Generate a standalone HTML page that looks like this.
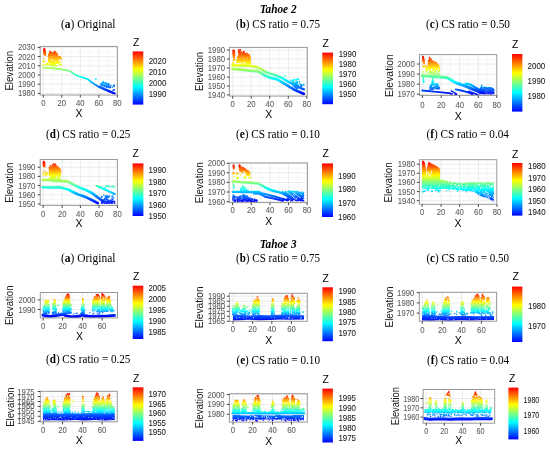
<!DOCTYPE html><html><head><meta charset="utf-8"><style>html,body{margin:0;padding:0;background:#fff;width:550px;height:450px;overflow:hidden}svg{display:block;filter:blur(0.6px)}</style></head><body><svg width="550" height="450" viewBox="0 0 550 450"><defs><linearGradient id="gA" gradientUnits="userSpaceOnUse" x1="0" y1="47.8" x2="0" y2="93.2"><stop offset="0.0" stop-color="#ff0000"/><stop offset="0.1667" stop-color="#ff7f00"/><stop offset="0.3333" stop-color="#ffff00"/><stop offset="0.5" stop-color="#7fff7f"/><stop offset="0.6667" stop-color="#00ffff"/><stop offset="0.8333" stop-color="#007fff"/><stop offset="1.0" stop-color="#0000ff"/></linearGradient><linearGradient id="cA" gradientUnits="userSpaceOnUse" x1="0" y1="51.4" x2="0" y2="104.6"><stop offset="0.0" stop-color="#ff0000"/><stop offset="0.1667" stop-color="#ff7f00"/><stop offset="0.3333" stop-color="#ffff00"/><stop offset="0.5" stop-color="#7fff7f"/><stop offset="0.6667" stop-color="#00ffff"/><stop offset="0.8333" stop-color="#007fff"/><stop offset="1.0" stop-color="#0000ff"/></linearGradient><clipPath id="kA"><rect x="40.2" y="46.4" width="77.2" height="48.6"/></clipPath><linearGradient id="gB" gradientUnits="userSpaceOnUse" x1="0" y1="48.7" x2="0" y2="94.4"><stop offset="0.0" stop-color="#ff0000"/><stop offset="0.1667" stop-color="#ff7f00"/><stop offset="0.3333" stop-color="#ffff00"/><stop offset="0.5" stop-color="#7fff7f"/><stop offset="0.6667" stop-color="#00ffff"/><stop offset="0.8333" stop-color="#007fff"/><stop offset="1.0" stop-color="#0000ff"/></linearGradient><linearGradient id="cB" gradientUnits="userSpaceOnUse" x1="0" y1="52.6" x2="0" y2="104.2"><stop offset="0.0" stop-color="#ff0000"/><stop offset="0.1667" stop-color="#ff7f00"/><stop offset="0.3333" stop-color="#ffff00"/><stop offset="0.5" stop-color="#7fff7f"/><stop offset="0.6667" stop-color="#00ffff"/><stop offset="0.8333" stop-color="#007fff"/><stop offset="1.0" stop-color="#0000ff"/></linearGradient><clipPath id="kB"><rect x="229.4" y="47.4" width="77.9" height="48.699999999999996"/></clipPath><linearGradient id="gC" gradientUnits="userSpaceOnUse" x1="0" y1="56.1" x2="0" y2="94.0"><stop offset="0.0" stop-color="#ff0000"/><stop offset="0.1667" stop-color="#ff7f00"/><stop offset="0.3333" stop-color="#ffff00"/><stop offset="0.5" stop-color="#7fff7f"/><stop offset="0.6667" stop-color="#00ffff"/><stop offset="0.8333" stop-color="#007fff"/><stop offset="1.0" stop-color="#0000ff"/></linearGradient><linearGradient id="cC" gradientUnits="userSpaceOnUse" x1="0" y1="54" x2="0" y2="111.6"><stop offset="0.0" stop-color="#ff0000"/><stop offset="0.1667" stop-color="#ff7f00"/><stop offset="0.3333" stop-color="#ffff00"/><stop offset="0.5" stop-color="#7fff7f"/><stop offset="0.6667" stop-color="#00ffff"/><stop offset="0.8333" stop-color="#007fff"/><stop offset="1.0" stop-color="#0000ff"/></linearGradient><clipPath id="kC"><rect x="419.5" y="54.6" width="77.30000000000001" height="40.800000000000004"/></clipPath><linearGradient id="gD" gradientUnits="userSpaceOnUse" x1="0" y1="161.6" x2="0" y2="203.7"><stop offset="0.0" stop-color="#ff0000"/><stop offset="0.1667" stop-color="#ff7f00"/><stop offset="0.3333" stop-color="#ffff00"/><stop offset="0.5" stop-color="#7fff7f"/><stop offset="0.6667" stop-color="#00ffff"/><stop offset="0.8333" stop-color="#007fff"/><stop offset="1.0" stop-color="#0000ff"/></linearGradient><linearGradient id="cD" gradientUnits="userSpaceOnUse" x1="0" y1="163.4" x2="0" y2="216.0"><stop offset="0.0" stop-color="#ff0000"/><stop offset="0.1667" stop-color="#ff7f00"/><stop offset="0.3333" stop-color="#ffff00"/><stop offset="0.5" stop-color="#7fff7f"/><stop offset="0.6667" stop-color="#00ffff"/><stop offset="0.8333" stop-color="#007fff"/><stop offset="1.0" stop-color="#0000ff"/></linearGradient><clipPath id="kD"><rect x="40.2" y="159.5" width="77.2" height="45.900000000000006"/></clipPath><linearGradient id="gE" gradientUnits="userSpaceOnUse" x1="0" y1="164.2" x2="0" y2="201.3"><stop offset="0.0" stop-color="#ff0000"/><stop offset="0.1667" stop-color="#ff7f00"/><stop offset="0.3333" stop-color="#ffff00"/><stop offset="0.5" stop-color="#7fff7f"/><stop offset="0.6667" stop-color="#00ffff"/><stop offset="0.8333" stop-color="#007fff"/><stop offset="1.0" stop-color="#0000ff"/></linearGradient><linearGradient id="cE" gradientUnits="userSpaceOnUse" x1="0" y1="163.4" x2="0" y2="217"><stop offset="0.0" stop-color="#ff0000"/><stop offset="0.1667" stop-color="#ff7f00"/><stop offset="0.3333" stop-color="#ffff00"/><stop offset="0.5" stop-color="#7fff7f"/><stop offset="0.6667" stop-color="#00ffff"/><stop offset="0.8333" stop-color="#007fff"/><stop offset="1.0" stop-color="#0000ff"/></linearGradient><clipPath id="kE"><rect x="229.1" y="162.9" width="78.29999999999998" height="39.69999999999999"/></clipPath><linearGradient id="gF" gradientUnits="userSpaceOnUse" x1="0" y1="161.5" x2="0" y2="203.25"><stop offset="0.0" stop-color="#ff0000"/><stop offset="0.1667" stop-color="#ff7f00"/><stop offset="0.3333" stop-color="#ffff00"/><stop offset="0.5" stop-color="#7fff7f"/><stop offset="0.6667" stop-color="#00ffff"/><stop offset="0.8333" stop-color="#007fff"/><stop offset="1.0" stop-color="#0000ff"/></linearGradient><linearGradient id="cF" gradientUnits="userSpaceOnUse" x1="0" y1="163" x2="0" y2="215.6"><stop offset="0.0" stop-color="#ff0000"/><stop offset="0.1667" stop-color="#ff7f00"/><stop offset="0.3333" stop-color="#ffff00"/><stop offset="0.5" stop-color="#7fff7f"/><stop offset="0.6667" stop-color="#00ffff"/><stop offset="0.8333" stop-color="#007fff"/><stop offset="1.0" stop-color="#0000ff"/></linearGradient><clipPath id="kF"><rect x="419.4" y="159.7" width="77.40000000000003" height="44.60000000000002"/></clipPath><linearGradient id="gG" gradientUnits="userSpaceOnUse" x1="0" y1="293.9" x2="0" y2="316.2"><stop offset="0.0" stop-color="#ff0000"/><stop offset="0.1667" stop-color="#ff7f00"/><stop offset="0.3333" stop-color="#ffff00"/><stop offset="0.5" stop-color="#7fff7f"/><stop offset="0.6667" stop-color="#00ffff"/><stop offset="0.8333" stop-color="#007fff"/><stop offset="1.0" stop-color="#0000ff"/></linearGradient><linearGradient id="cG" gradientUnits="userSpaceOnUse" x1="0" y1="285.7" x2="0" y2="339"><stop offset="0.0" stop-color="#ff0000"/><stop offset="0.1667" stop-color="#ff7f00"/><stop offset="0.3333" stop-color="#ffff00"/><stop offset="0.5" stop-color="#7fff7f"/><stop offset="0.6667" stop-color="#00ffff"/><stop offset="0.8333" stop-color="#007fff"/><stop offset="1.0" stop-color="#0000ff"/></linearGradient><clipPath id="kG"><rect x="40.3" y="292.5" width="77.2" height="25.399999999999977"/></clipPath><linearGradient id="gH" gradientUnits="userSpaceOnUse" x1="0" y1="294.1" x2="0" y2="319.2"><stop offset="0.0" stop-color="#ff0000"/><stop offset="0.1667" stop-color="#ff7f00"/><stop offset="0.3333" stop-color="#ffff00"/><stop offset="0.5" stop-color="#7fff7f"/><stop offset="0.6667" stop-color="#00ffff"/><stop offset="0.8333" stop-color="#007fff"/><stop offset="1.0" stop-color="#0000ff"/></linearGradient><linearGradient id="cH" gradientUnits="userSpaceOnUse" x1="0" y1="287.3" x2="0" y2="341.2"><stop offset="0.0" stop-color="#ff0000"/><stop offset="0.1667" stop-color="#ff7f00"/><stop offset="0.3333" stop-color="#ffff00"/><stop offset="0.5" stop-color="#7fff7f"/><stop offset="0.6667" stop-color="#00ffff"/><stop offset="0.8333" stop-color="#007fff"/><stop offset="1.0" stop-color="#0000ff"/></linearGradient><clipPath id="kH"><rect x="229.4" y="293.3" width="77.9" height="28.0"/></clipPath><linearGradient id="bH24" x1="0" y1="0" x2="0" y2="1"><stop offset="0" stop-color="#1a6cff"/><stop offset="0.4" stop-color="#0040ff"/><stop offset="1" stop-color="#0008f0"/></linearGradient><linearGradient id="gI" gradientUnits="userSpaceOnUse" x1="0" y1="293.3" x2="0" y2="319.6"><stop offset="0.0" stop-color="#ff0000"/><stop offset="0.1667" stop-color="#ff7f00"/><stop offset="0.3333" stop-color="#ffff00"/><stop offset="0.5" stop-color="#7fff7f"/><stop offset="0.6667" stop-color="#00ffff"/><stop offset="0.8333" stop-color="#007fff"/><stop offset="1.0" stop-color="#0000ff"/></linearGradient><linearGradient id="cI" gradientUnits="userSpaceOnUse" x1="0" y1="286.6" x2="0" y2="342"><stop offset="0.0" stop-color="#ff0000"/><stop offset="0.1667" stop-color="#ff7f00"/><stop offset="0.3333" stop-color="#ffff00"/><stop offset="0.5" stop-color="#7fff7f"/><stop offset="0.6667" stop-color="#00ffff"/><stop offset="0.8333" stop-color="#007fff"/><stop offset="1.0" stop-color="#0000ff"/></linearGradient><clipPath id="kI"><rect x="419.3" y="292.3" width="77.30000000000001" height="28.899999999999977"/></clipPath><linearGradient id="bI28" x1="0" y1="0" x2="0" y2="1"><stop offset="0" stop-color="#1a6cff"/><stop offset="0.4" stop-color="#0040ff"/><stop offset="1" stop-color="#0008f0"/></linearGradient><linearGradient id="gJ" gradientUnits="userSpaceOnUse" x1="0" y1="392.7" x2="0" y2="419.6"><stop offset="0.0" stop-color="#ff0000"/><stop offset="0.1667" stop-color="#ff7f00"/><stop offset="0.3333" stop-color="#ffff00"/><stop offset="0.5" stop-color="#7fff7f"/><stop offset="0.6667" stop-color="#00ffff"/><stop offset="0.8333" stop-color="#007fff"/><stop offset="1.0" stop-color="#0000ff"/></linearGradient><linearGradient id="cJ" gradientUnits="userSpaceOnUse" x1="0" y1="387.3" x2="0" y2="440.9"><stop offset="0.0" stop-color="#ff0000"/><stop offset="0.1667" stop-color="#ff7f00"/><stop offset="0.3333" stop-color="#ffff00"/><stop offset="0.5" stop-color="#7fff7f"/><stop offset="0.6667" stop-color="#00ffff"/><stop offset="0.8333" stop-color="#007fff"/><stop offset="1.0" stop-color="#0000ff"/></linearGradient><clipPath id="kJ"><rect x="40.3" y="391.3" width="77.0" height="30.5"/></clipPath><linearGradient id="bJ32" x1="0" y1="0" x2="0" y2="1"><stop offset="0" stop-color="#0a80ff"/><stop offset="0.35" stop-color="#0048ff"/><stop offset="1" stop-color="#0008f0"/></linearGradient><linearGradient id="gK" gradientUnits="userSpaceOnUse" x1="0" y1="394.5" x2="0" y2="420.0"><stop offset="0.0" stop-color="#ff0000"/><stop offset="0.1667" stop-color="#ff7f00"/><stop offset="0.3333" stop-color="#ffff00"/><stop offset="0.5" stop-color="#7fff7f"/><stop offset="0.6667" stop-color="#00ffff"/><stop offset="0.8333" stop-color="#007fff"/><stop offset="1.0" stop-color="#0000ff"/></linearGradient><linearGradient id="cK" gradientUnits="userSpaceOnUse" x1="0" y1="388.6" x2="0" y2="442.5"><stop offset="0.0" stop-color="#ff0000"/><stop offset="0.1667" stop-color="#ff7f00"/><stop offset="0.3333" stop-color="#ffff00"/><stop offset="0.5" stop-color="#7fff7f"/><stop offset="0.6667" stop-color="#00ffff"/><stop offset="0.8333" stop-color="#007fff"/><stop offset="1.0" stop-color="#0000ff"/></linearGradient><clipPath id="kK"><rect x="229.4" y="393.7" width="77.9" height="28.400000000000034"/></clipPath><linearGradient id="bK36" x1="0" y1="0" x2="0" y2="1"><stop offset="0" stop-color="#1a80ff"/><stop offset="0.5" stop-color="#0058ff"/><stop offset="1" stop-color="#0028f8"/></linearGradient><linearGradient id="gL" gradientUnits="userSpaceOnUse" x1="0" y1="391.2" x2="0" y2="420.3"><stop offset="0.0" stop-color="#ff0000"/><stop offset="0.1667" stop-color="#ff7f00"/><stop offset="0.3333" stop-color="#ffff00"/><stop offset="0.5" stop-color="#7fff7f"/><stop offset="0.6667" stop-color="#00ffff"/><stop offset="0.8333" stop-color="#007fff"/><stop offset="1.0" stop-color="#0000ff"/></linearGradient><linearGradient id="cL" gradientUnits="userSpaceOnUse" x1="0" y1="387.6" x2="0" y2="439.4"><stop offset="0.0" stop-color="#ff0000"/><stop offset="0.1667" stop-color="#ff7f00"/><stop offset="0.3333" stop-color="#ffff00"/><stop offset="0.5" stop-color="#7fff7f"/><stop offset="0.6667" stop-color="#00ffff"/><stop offset="0.8333" stop-color="#007fff"/><stop offset="1.0" stop-color="#0000ff"/></linearGradient><clipPath id="kL"><rect x="423.1" y="389.5" width="71.59999999999997" height="33.69999999999999"/></clipPath></defs><rect width="550" height="450" fill="#fff"/><text x="259.7" y="12.7" textLength="36.9" lengthAdjust="spacingAndGlyphs" style="font-family:&quot;Liberation Serif&quot;,serif;font-size:12px;font-weight:bold;font-style:italic" fill="#000">Tahoe 2</text><text x="259.7" y="247.6" textLength="36.9" lengthAdjust="spacingAndGlyphs" style="font-family:&quot;Liberation Serif&quot;,serif;font-size:12px;font-weight:bold;font-style:italic" fill="#000">Tahoe 3</text><text x="60.9" y="27.5" textLength="54.6" lengthAdjust="spacingAndGlyphs" style="font-family:&quot;Liberation Serif&quot;,serif;font-size:11.6px" fill="#000">(<tspan font-weight="bold">a</tspan>) Original</text><line x1="52.55" y1="46.4" x2="52.55" y2="95.0" stroke="#f2f2f2" stroke-width="0.6"/><line x1="71.05" y1="46.4" x2="71.05" y2="95.0" stroke="#f2f2f2" stroke-width="0.6"/><line x1="89.55" y1="46.4" x2="89.55" y2="95.0" stroke="#f2f2f2" stroke-width="0.6"/><line x1="108.05" y1="46.4" x2="108.05" y2="95.0" stroke="#f2f2f2" stroke-width="0.6"/><line x1="40.2" y1="52.00" x2="117.4" y2="52.00" stroke="#f2f2f2" stroke-width="0.6"/><line x1="40.2" y1="61.20" x2="117.4" y2="61.20" stroke="#f2f2f2" stroke-width="0.6"/><line x1="40.2" y1="70.40" x2="117.4" y2="70.40" stroke="#f2f2f2" stroke-width="0.6"/><line x1="40.2" y1="79.60" x2="117.4" y2="79.60" stroke="#f2f2f2" stroke-width="0.6"/><line x1="40.2" y1="88.80" x2="117.4" y2="88.80" stroke="#f2f2f2" stroke-width="0.6"/><line x1="43.30" y1="46.4" x2="43.30" y2="95.0" stroke="#e6e6e6" stroke-width="0.8"/><line x1="61.80" y1="46.4" x2="61.80" y2="95.0" stroke="#e6e6e6" stroke-width="0.8"/><line x1="80.30" y1="46.4" x2="80.30" y2="95.0" stroke="#e6e6e6" stroke-width="0.8"/><line x1="98.80" y1="46.4" x2="98.80" y2="95.0" stroke="#e6e6e6" stroke-width="0.8"/><line x1="117.30" y1="46.4" x2="117.30" y2="95.0" stroke="#e6e6e6" stroke-width="0.8"/><line x1="40.2" y1="47.40" x2="117.4" y2="47.40" stroke="#e6e6e6" stroke-width="0.8"/><line x1="40.2" y1="56.60" x2="117.4" y2="56.60" stroke="#e6e6e6" stroke-width="0.8"/><line x1="40.2" y1="65.80" x2="117.4" y2="65.80" stroke="#e6e6e6" stroke-width="0.8"/><line x1="40.2" y1="75.00" x2="117.4" y2="75.00" stroke="#e6e6e6" stroke-width="0.8"/><line x1="40.2" y1="84.20" x2="117.4" y2="84.20" stroke="#e6e6e6" stroke-width="0.8"/><line x1="40.2" y1="93.40" x2="117.4" y2="93.40" stroke="#e6e6e6" stroke-width="0.8"/><g clip-path="url(#kA)" fill="url(#gA)" stroke="none"><polygon points="43.20,48.50 44.50,47.80 45.60,49.00 46.00,53.00 46.30,55.50 45.00,56.00 43.50,55.00 43.00,51.00"/><circle cx="49.98" cy="51.26" r="0.88"/><circle cx="54.44" cy="51.66" r="0.88"/><circle cx="49.92" cy="52.31" r="0.88"/><circle cx="51.19" cy="52.27" r="0.88"/><circle cx="53.10" cy="52.79" r="0.88"/><circle cx="54.29" cy="52.63" r="0.88"/><circle cx="55.44" cy="52.13" r="0.88"/><circle cx="49.20" cy="53.78" r="0.88"/><circle cx="49.87" cy="53.67" r="0.88"/><circle cx="51.02" cy="53.32" r="0.88"/><circle cx="51.84" cy="53.74" r="0.88"/><circle cx="53.07" cy="53.47" r="0.88"/><circle cx="54.06" cy="53.51" r="0.88"/><circle cx="55.72" cy="53.77" r="0.88"/><circle cx="56.39" cy="53.49" r="0.88"/><circle cx="48.90" cy="54.97" r="0.88"/><circle cx="49.96" cy="54.73" r="0.88"/><circle cx="50.74" cy="54.93" r="0.88"/><circle cx="52.41" cy="54.86" r="0.88"/><circle cx="53.18" cy="54.37" r="0.88"/><circle cx="54.04" cy="54.35" r="0.88"/><circle cx="55.21" cy="54.54" r="0.88"/><circle cx="56.20" cy="54.41" r="0.88"/><circle cx="57.55" cy="54.32" r="0.88"/><circle cx="48.84" cy="55.46" r="0.88"/><circle cx="49.84" cy="55.59" r="0.88"/><circle cx="50.81" cy="55.42" r="0.88"/><circle cx="52.17" cy="55.50" r="0.88"/><circle cx="52.92" cy="55.77" r="0.88"/><circle cx="54.60" cy="55.89" r="0.88"/><circle cx="55.36" cy="55.52" r="0.88"/><circle cx="56.57" cy="55.95" r="0.88"/><circle cx="57.46" cy="55.97" r="0.88"/><circle cx="48.52" cy="56.52" r="0.88"/><circle cx="49.78" cy="56.98" r="0.88"/><circle cx="51.01" cy="57.16" r="0.88"/><circle cx="53.16" cy="56.65" r="0.88"/><circle cx="54.14" cy="56.64" r="0.88"/><circle cx="55.73" cy="57.09" r="0.88"/><circle cx="56.66" cy="57.06" r="0.88"/><circle cx="57.76" cy="57.14" r="0.88"/><circle cx="58.93" cy="56.83" r="0.88"/><circle cx="60.05" cy="56.73" r="0.88"/><circle cx="49.16" cy="58.11" r="0.88"/><circle cx="49.69" cy="57.71" r="0.88"/><circle cx="51.26" cy="57.70" r="0.88"/><circle cx="52.49" cy="58.06" r="0.88"/><circle cx="53.28" cy="57.69" r="0.88"/><circle cx="54.68" cy="58.05" r="0.88"/><circle cx="55.75" cy="57.90" r="0.88"/><circle cx="56.78" cy="57.75" r="0.88"/><circle cx="57.51" cy="57.77" r="0.88"/><circle cx="58.58" cy="57.89" r="0.88"/><circle cx="60.14" cy="57.85" r="0.88"/><circle cx="61.01" cy="58.23" r="0.88"/><circle cx="49.14" cy="59.05" r="0.88"/><circle cx="49.97" cy="58.71" r="0.88"/><circle cx="50.83" cy="58.70" r="0.88"/><circle cx="53.23" cy="59.21" r="0.88"/><circle cx="54.23" cy="59.06" r="0.88"/><circle cx="55.65" cy="58.77" r="0.88"/><circle cx="56.37" cy="58.89" r="0.88"/><circle cx="58.79" cy="59.23" r="0.88"/><circle cx="61.03" cy="59.05" r="0.88"/><circle cx="48.98" cy="60.12" r="0.88"/><circle cx="49.93" cy="60.46" r="0.88"/><circle cx="54.39" cy="60.46" r="0.88"/><circle cx="56.29" cy="60.11" r="0.88"/><circle cx="57.47" cy="59.85" r="0.88"/><circle cx="49.00" cy="61.36" r="0.88"/><circle cx="50.22" cy="61.58" r="0.88"/><circle cx="51.37" cy="61.18" r="0.88"/><circle cx="52.49" cy="61.48" r="0.88"/><circle cx="53.20" cy="61.26" r="0.88"/><circle cx="54.14" cy="61.12" r="0.88"/><circle cx="56.59" cy="61.21" r="0.88"/><circle cx="57.53" cy="61.34" r="0.88"/><circle cx="58.45" cy="61.59" r="0.88"/><circle cx="48.69" cy="62.03" r="0.88"/><circle cx="50.79" cy="62.30" r="0.88"/><circle cx="54.10" cy="62.64" r="0.88"/><circle cx="55.59" cy="62.06" r="0.88"/><circle cx="56.68" cy="62.30" r="0.88"/><circle cx="57.96" cy="62.44" r="0.88"/><circle cx="60.10" cy="62.05" r="0.88"/><circle cx="50.79" cy="63.47" r="0.88"/><circle cx="51.88" cy="63.21" r="0.88"/><circle cx="53.04" cy="63.32" r="0.88"/><circle cx="54.53" cy="63.30" r="0.88"/><circle cx="55.22" cy="63.34" r="0.88"/><circle cx="56.38" cy="63.11" r="0.88"/><circle cx="58.53" cy="63.43" r="0.88"/><circle cx="49.08" cy="64.48" r="0.88"/><circle cx="50.08" cy="64.89" r="0.88"/><circle cx="51.28" cy="64.69" r="0.88"/><circle cx="52.08" cy="64.44" r="0.88"/><circle cx="52.99" cy="64.25" r="0.88"/><circle cx="55.21" cy="64.26" r="0.88"/><circle cx="59.67" cy="64.41" r="0.88"/><circle cx="60.71" cy="64.51" r="0.88"/><circle cx="50.95" cy="65.30" r="0.88"/><circle cx="52.13" cy="65.65" r="0.88"/><circle cx="53.25" cy="65.30" r="0.88"/><circle cx="54.06" cy="65.58" r="0.88"/><circle cx="55.12" cy="65.51" r="0.88"/><circle cx="56.61" cy="65.67" r="0.88"/><circle cx="44.84" cy="60.95" r="0.75"/><circle cx="48.41" cy="59.62" r="0.75"/><circle cx="46.84" cy="63.32" r="0.75"/><circle cx="42.76" cy="64.76" r="0.75"/><circle cx="47.85" cy="63.20" r="0.75"/><circle cx="46.90" cy="64.59" r="0.75"/><circle cx="43.34" cy="62.43" r="0.75"/><circle cx="45.53" cy="64.76" r="0.75"/><circle cx="47.33" cy="64.70" r="0.75"/><circle cx="46.00" cy="65.20" r="0.75"/><circle cx="46.60" cy="63.70" r="0.75"/><circle cx="43.88" cy="58.73" r="0.75"/><circle cx="43.30" cy="61.21" r="0.75"/><circle cx="43.13" cy="64.77" r="0.75"/><polyline points="43.20,67.70 50.00,68.10 55.00,68.50 60.00,69.20 64.00,69.80 67.40,70.40 70.50,71.50 73.00,73.30 75.80,74.80 78.00,76.00 81.10,76.90 84.00,77.80 87.40,79.00 89.50,80.50 91.60,82.20 95.00,84.50 99.00,86.90 102.00,88.50 105.40,90.00 110.00,91.80 114.30,93.20" fill="none" stroke="url(#gA)" stroke-width="1.8" stroke-linecap="round" stroke-linejoin="round"/><polyline points="100.00,86.60 104.40,88.80 109.80,91.20 114.70,93.60" fill="none" stroke="url(#gA)" stroke-width="2.0" stroke-linecap="round" stroke-linejoin="round"/><circle cx="103.17" cy="81.60" r="0.8"/><circle cx="102.13" cy="82.72" r="0.8"/><circle cx="103.01" cy="82.58" r="0.8"/><circle cx="103.73" cy="82.88" r="0.8"/><circle cx="105.33" cy="82.91" r="0.8"/><circle cx="105.97" cy="82.82" r="0.8"/><circle cx="101.01" cy="83.87" r="0.8"/><circle cx="101.81" cy="83.88" r="0.8"/><circle cx="102.67" cy="83.25" r="0.8"/><circle cx="103.97" cy="83.46" r="0.8"/><circle cx="104.89" cy="83.47" r="0.8"/><circle cx="105.65" cy="83.78" r="0.8"/><circle cx="106.73" cy="83.90" r="0.8"/><circle cx="108.28" cy="83.45" r="0.8"/><circle cx="108.93" cy="83.95" r="0.8"/><circle cx="100.85" cy="84.90" r="0.8"/><circle cx="101.84" cy="84.61" r="0.8"/><circle cx="102.91" cy="84.92" r="0.8"/><circle cx="105.09" cy="84.89" r="0.8"/><circle cx="107.15" cy="84.28" r="0.8"/><circle cx="107.97" cy="84.78" r="0.8"/><circle cx="108.85" cy="84.28" r="0.8"/><circle cx="102.11" cy="85.46" r="0.8"/><circle cx="102.93" cy="85.37" r="0.8"/><circle cx="103.80" cy="85.88" r="0.8"/><circle cx="104.80" cy="85.88" r="0.8"/><circle cx="106.75" cy="85.38" r="0.8"/><circle cx="107.89" cy="85.31" r="0.8"/><circle cx="108.83" cy="85.65" r="0.8"/><circle cx="110.94" cy="85.54" r="0.8"/><circle cx="104.84" cy="86.42" r="0.8"/><circle cx="105.96" cy="86.92" r="0.8"/><circle cx="107.26" cy="86.27" r="0.8"/><circle cx="108.15" cy="86.88" r="0.8"/><circle cx="109.06" cy="86.25" r="0.8"/><circle cx="110.30" cy="86.83" r="0.8"/><circle cx="106.86" cy="87.34" r="0.8"/><circle cx="108.70" cy="87.62" r="0.8"/><circle cx="109.92" cy="87.41" r="0.8"/><circle cx="110.66" cy="87.46" r="0.8"/><circle cx="113.65" cy="90.21" r="0.8"/><circle cx="114.11" cy="89.69" r="0.8"/><circle cx="113.69" cy="85.14" r="0.8"/><circle cx="113.12" cy="90.22" r="0.8"/><circle cx="114.26" cy="85.65" r="0.8"/><circle cx="112.55" cy="86.99" r="0.8"/><circle cx="114.19" cy="86.44" r="0.8"/><circle cx="95.9" cy="79" r="0.9"/></g><rect x="40.2" y="46.4" width="77.20" height="48.60" fill="none" stroke="#9a9a9a" stroke-width="1"/><line x1="37.60" y1="47.4" x2="40.2" y2="47.4" stroke="#333" stroke-width="0.9"/><line x1="37.60" y1="56.6" x2="40.2" y2="56.6" stroke="#333" stroke-width="0.9"/><line x1="37.60" y1="65.8" x2="40.2" y2="65.8" stroke="#333" stroke-width="0.9"/><line x1="37.60" y1="75.0" x2="40.2" y2="75.0" stroke="#333" stroke-width="0.9"/><line x1="37.60" y1="84.2" x2="40.2" y2="84.2" stroke="#333" stroke-width="0.9"/><line x1="37.60" y1="93.4" x2="40.2" y2="93.4" stroke="#333" stroke-width="0.9"/><line x1="43.3" y1="95.0" x2="43.3" y2="97.60" stroke="#333" stroke-width="0.9"/><line x1="61.8" y1="95.0" x2="61.8" y2="97.60" stroke="#333" stroke-width="0.9"/><line x1="80.3" y1="95.0" x2="80.3" y2="97.60" stroke="#333" stroke-width="0.9"/><line x1="98.8" y1="95.0" x2="98.8" y2="97.60" stroke="#333" stroke-width="0.9"/><line x1="117.3" y1="95.0" x2="117.3" y2="97.60" stroke="#333" stroke-width="0.9"/><g style="font-family:&quot;Liberation Sans&quot;,sans-serif;font-size:8.5px" fill="#5c5c5c" stroke="#5c5c5c" stroke-width="0.08"><text x="35.2" y="50.40" text-anchor="end" textLength="17.20" lengthAdjust="spacingAndGlyphs">2030</text><text x="35.2" y="59.60" text-anchor="end" textLength="17.20" lengthAdjust="spacingAndGlyphs">2020</text><text x="35.2" y="68.80" text-anchor="end" textLength="17.20" lengthAdjust="spacingAndGlyphs">2010</text><text x="35.2" y="78.00" text-anchor="end" textLength="17.20" lengthAdjust="spacingAndGlyphs">2000</text><text x="35.2" y="87.20" text-anchor="end" textLength="17.20" lengthAdjust="spacingAndGlyphs">1990</text><text x="35.2" y="96.40" text-anchor="end" textLength="17.20" lengthAdjust="spacingAndGlyphs">1980</text><text x="43.3" y="106.00" text-anchor="middle" textLength="4.30" lengthAdjust="spacingAndGlyphs">0</text><text x="61.8" y="106.00" text-anchor="middle" textLength="8.60" lengthAdjust="spacingAndGlyphs">20</text><text x="80.3" y="106.00" text-anchor="middle" textLength="8.60" lengthAdjust="spacingAndGlyphs">40</text><text x="98.8" y="106.00" text-anchor="middle" textLength="8.60" lengthAdjust="spacingAndGlyphs">60</text><text x="117.3" y="106.00" text-anchor="middle" textLength="8.60" lengthAdjust="spacingAndGlyphs">80</text></g><text transform="translate(13.25,70.75) rotate(-90)" x="0" y="0" text-anchor="middle" textLength="39.7" lengthAdjust="spacingAndGlyphs" style="font-family:&quot;Liberation Sans&quot;,sans-serif;font-size:10.3px" fill="#1a1a1a">Elevation</text><text x="79" y="117.40" text-anchor="middle" style="font-family:&quot;Liberation Sans&quot;,sans-serif;font-size:10.4px" fill="#000">X</text><rect x="132.7" y="51.4" width="10.60" height="53.20" fill="url(#cA)"/><g style="font-family:&quot;Liberation Sans&quot;,sans-serif;font-size:8.7px" fill="#1a1a1a" stroke="#1a1a1a" stroke-width="0.08"><text x="148.7" y="64.30" textLength="17.60" lengthAdjust="spacingAndGlyphs">2020</text><text x="148.7" y="74.90" textLength="17.60" lengthAdjust="spacingAndGlyphs">2010</text><text x="148.7" y="86.00" textLength="17.60" lengthAdjust="spacingAndGlyphs">2000</text><text x="148.7" y="96.60" textLength="17.60" lengthAdjust="spacingAndGlyphs">1990</text></g><text x="133.0" y="45.70" style="font-family:&quot;Liberation Sans&quot;,sans-serif;font-size:10.4px" fill="#000">Z</text><text x="236" y="27.6" textLength="84.0" lengthAdjust="spacingAndGlyphs" style="font-family:&quot;Liberation Serif&quot;,serif;font-size:11.6px" fill="#000">(<tspan font-weight="bold">b</tspan>) CS ratio = 0.75</text><line x1="241.95" y1="47.4" x2="241.95" y2="96.1" stroke="#f2f2f2" stroke-width="0.6"/><line x1="260.45" y1="47.4" x2="260.45" y2="96.1" stroke="#f2f2f2" stroke-width="0.6"/><line x1="279.00" y1="47.4" x2="279.00" y2="96.1" stroke="#f2f2f2" stroke-width="0.6"/><line x1="297.55" y1="47.4" x2="297.55" y2="96.1" stroke="#f2f2f2" stroke-width="0.6"/><line x1="229.4" y1="54.55" x2="307.3" y2="54.55" stroke="#f2f2f2" stroke-width="0.6"/><line x1="229.4" y1="63.45" x2="307.3" y2="63.45" stroke="#f2f2f2" stroke-width="0.6"/><line x1="229.4" y1="72.50" x2="307.3" y2="72.50" stroke="#f2f2f2" stroke-width="0.6"/><line x1="229.4" y1="81.55" x2="307.3" y2="81.55" stroke="#f2f2f2" stroke-width="0.6"/><line x1="229.4" y1="90.45" x2="307.3" y2="90.45" stroke="#f2f2f2" stroke-width="0.6"/><line x1="232.70" y1="47.4" x2="232.70" y2="96.1" stroke="#e6e6e6" stroke-width="0.8"/><line x1="251.20" y1="47.4" x2="251.20" y2="96.1" stroke="#e6e6e6" stroke-width="0.8"/><line x1="269.70" y1="47.4" x2="269.70" y2="96.1" stroke="#e6e6e6" stroke-width="0.8"/><line x1="288.30" y1="47.4" x2="288.30" y2="96.1" stroke="#e6e6e6" stroke-width="0.8"/><line x1="306.80" y1="47.4" x2="306.80" y2="96.1" stroke="#e6e6e6" stroke-width="0.8"/><line x1="229.4" y1="50.10" x2="307.3" y2="50.10" stroke="#e6e6e6" stroke-width="0.8"/><line x1="229.4" y1="59.00" x2="307.3" y2="59.00" stroke="#e6e6e6" stroke-width="0.8"/><line x1="229.4" y1="67.90" x2="307.3" y2="67.90" stroke="#e6e6e6" stroke-width="0.8"/><line x1="229.4" y1="77.10" x2="307.3" y2="77.10" stroke="#e6e6e6" stroke-width="0.8"/><line x1="229.4" y1="86.00" x2="307.3" y2="86.00" stroke="#e6e6e6" stroke-width="0.8"/><line x1="229.4" y1="94.90" x2="307.3" y2="94.90" stroke="#e6e6e6" stroke-width="0.8"/><g clip-path="url(#kB)" fill="url(#gB)" stroke="none"><polygon points="232.40,50.00 233.50,49.30 235.00,50.50 235.30,55.00 235.00,58.40 233.00,58.20 232.40,55.00"/><circle cx="238.83" cy="49.93" r="0.88"/><circle cx="240.22" cy="49.82" r="0.88"/><circle cx="238.78" cy="51.42" r="0.88"/><circle cx="239.94" cy="51.09" r="0.88"/><circle cx="243.53" cy="51.54" r="0.88"/><circle cx="238.66" cy="52.14" r="0.88"/><circle cx="239.87" cy="52.05" r="0.88"/><circle cx="241.19" cy="52.23" r="0.88"/><circle cx="243.69" cy="52.19" r="0.88"/><circle cx="244.17" cy="52.35" r="0.88"/><circle cx="239.22" cy="53.50" r="0.88"/><circle cx="239.98" cy="53.79" r="0.88"/><circle cx="240.96" cy="53.67" r="0.88"/><circle cx="242.59" cy="53.17" r="0.88"/><circle cx="243.57" cy="53.69" r="0.88"/><circle cx="244.13" cy="53.31" r="0.88"/><circle cx="245.33" cy="53.78" r="0.88"/><circle cx="246.95" cy="53.36" r="0.88"/><circle cx="239.02" cy="54.66" r="0.88"/><circle cx="239.71" cy="54.43" r="0.88"/><circle cx="240.93" cy="54.42" r="0.88"/><circle cx="242.46" cy="54.58" r="0.88"/><circle cx="243.07" cy="54.48" r="0.88"/><circle cx="244.55" cy="54.26" r="0.88"/><circle cx="245.69" cy="54.49" r="0.88"/><circle cx="246.52" cy="54.87" r="0.88"/><circle cx="247.80" cy="54.45" r="0.88"/><circle cx="249.10" cy="54.90" r="0.88"/><circle cx="239.17" cy="55.58" r="0.88"/><circle cx="240.02" cy="55.41" r="0.88"/><circle cx="241.19" cy="55.75" r="0.88"/><circle cx="241.96" cy="55.74" r="0.88"/><circle cx="243.35" cy="55.40" r="0.88"/><circle cx="244.46" cy="55.95" r="0.88"/><circle cx="245.54" cy="55.86" r="0.88"/><circle cx="246.44" cy="55.39" r="0.88"/><circle cx="248.08" cy="55.64" r="0.88"/><circle cx="249.15" cy="55.57" r="0.88"/><circle cx="238.05" cy="56.56" r="0.88"/><circle cx="239.19" cy="56.98" r="0.88"/><circle cx="239.85" cy="56.68" r="0.88"/><circle cx="241.07" cy="56.49" r="0.88"/><circle cx="242.41" cy="57.03" r="0.88"/><circle cx="243.39" cy="56.93" r="0.88"/><circle cx="244.69" cy="56.48" r="0.88"/><circle cx="245.59" cy="56.84" r="0.88"/><circle cx="246.59" cy="56.81" r="0.88"/><circle cx="247.86" cy="56.71" r="0.88"/><circle cx="248.52" cy="56.83" r="0.88"/><circle cx="249.76" cy="56.93" r="0.88"/><circle cx="237.82" cy="57.63" r="0.88"/><circle cx="238.67" cy="57.59" r="0.88"/><circle cx="239.76" cy="57.81" r="0.88"/><circle cx="240.83" cy="57.95" r="0.88"/><circle cx="242.41" cy="58.04" r="0.88"/><circle cx="243.04" cy="57.85" r="0.88"/><circle cx="244.77" cy="57.60" r="0.88"/><circle cx="245.90" cy="58.01" r="0.88"/><circle cx="246.44" cy="58.19" r="0.88"/><circle cx="248.07" cy="58.14" r="0.88"/><circle cx="249.05" cy="58.15" r="0.88"/><circle cx="249.85" cy="58.03" r="0.88"/><circle cx="238.13" cy="58.79" r="0.88"/><circle cx="240.05" cy="59.24" r="0.88"/><circle cx="240.98" cy="58.95" r="0.88"/><circle cx="241.93" cy="58.73" r="0.88"/><circle cx="243.66" cy="59.08" r="0.88"/><circle cx="245.75" cy="58.68" r="0.88"/><circle cx="246.75" cy="58.85" r="0.88"/><circle cx="248.91" cy="59.22" r="0.88"/><circle cx="250.30" cy="59.04" r="0.88"/><circle cx="238.06" cy="59.89" r="0.88"/><circle cx="239.95" cy="60.24" r="0.88"/><circle cx="240.92" cy="60.22" r="0.88"/><circle cx="242.47" cy="59.88" r="0.88"/><circle cx="243.69" cy="60.11" r="0.88"/><circle cx="244.32" cy="59.70" r="0.88"/><circle cx="245.30" cy="60.13" r="0.88"/><circle cx="246.66" cy="60.33" r="0.88"/><circle cx="247.56" cy="60.16" r="0.88"/><circle cx="248.50" cy="59.95" r="0.88"/><circle cx="249.85" cy="59.86" r="0.88"/><circle cx="237.91" cy="60.94" r="0.88"/><circle cx="238.93" cy="60.89" r="0.88"/><circle cx="240.90" cy="60.87" r="0.88"/><circle cx="242.51" cy="61.35" r="0.88"/><circle cx="243.18" cy="60.81" r="0.88"/><circle cx="244.49" cy="61.05" r="0.88"/><circle cx="245.51" cy="61.46" r="0.88"/><circle cx="248.03" cy="60.83" r="0.88"/><circle cx="248.78" cy="60.97" r="0.88"/><circle cx="250.15" cy="60.81" r="0.88"/><circle cx="238.16" cy="62.00" r="0.88"/><circle cx="239.03" cy="62.25" r="0.88"/><circle cx="240.27" cy="62.02" r="0.88"/><circle cx="241.01" cy="61.93" r="0.88"/><circle cx="245.79" cy="62.42" r="0.88"/><circle cx="246.82" cy="62.22" r="0.88"/><circle cx="247.47" cy="62.06" r="0.88"/><circle cx="248.73" cy="62.42" r="0.88"/><circle cx="250.19" cy="62.40" r="0.88"/><circle cx="242.52" cy="63.01" r="0.88"/><circle cx="243.17" cy="63.52" r="0.88"/><circle cx="246.92" cy="63.23" r="0.88"/><circle cx="248.04" cy="63.44" r="0.88"/><circle cx="248.97" cy="63.69" r="0.88"/><circle cx="250.19" cy="63.49" r="0.88"/><circle cx="243.10" cy="64.12" r="0.88"/><circle cx="245.72" cy="64.15" r="0.88"/><circle cx="237.69" cy="59.54" r="0.75"/><circle cx="233.63" cy="59.56" r="0.75"/><circle cx="232.69" cy="63.24" r="0.75"/><circle cx="236.97" cy="62.17" r="0.75"/><circle cx="237.04" cy="62.16" r="0.75"/><circle cx="234.08" cy="59.50" r="0.75"/><circle cx="233.04" cy="62.79" r="0.75"/><circle cx="233.63" cy="60.60" r="0.75"/><circle cx="234.83" cy="59.10" r="0.75"/><circle cx="233.91" cy="60.41" r="0.75"/><circle cx="236.44" cy="60.84" r="0.75"/><circle cx="234.26" cy="63.82" r="0.75"/><polyline points="232.40,65.20 240.00,65.50 250.00,65.80 255.60,66.90 258.30,67.80 261.10,69.20 264.40,71.10 268.30,73.10 272.20,74.20 276.10,75.30 278.00,76.00 281.60,77.80 285.20,79.90 290.00,82.60 293.60,84.40 297.80,86.50 302.00,88.60 303.80,89.20" fill="none" stroke="url(#gB)" stroke-width="2.4" stroke-linecap="round" stroke-linejoin="round"/><polyline points="232.40,68.80 240.00,69.60 250.00,70.60 256.70,71.10 258.90,71.90 262.20,73.90 265.60,75.80 268.90,77.20 272.20,78.10 275.60,78.90 278.00,79.60 281.60,82.00 285.20,84.10 290.00,87.10 293.60,89.20 297.80,91.30 302.00,93.10 303.80,93.70" fill="none" stroke="url(#gB)" stroke-width="2.7" stroke-linecap="round" stroke-linejoin="round"/><circle cx="297.35" cy="87.34" r="0.85"/><circle cx="296.10" cy="82.69" r="0.85"/><circle cx="300.12" cy="83.82" r="0.85"/><circle cx="297.17" cy="83.30" r="0.85"/><circle cx="297.23" cy="81.69" r="0.85"/><circle cx="293.36" cy="85.63" r="0.85"/><circle cx="297.28" cy="79.03" r="0.85"/><circle cx="301.27" cy="85.61" r="0.85"/><circle cx="301.26" cy="84.83" r="0.85"/><circle cx="295.31" cy="82.29" r="0.85"/><circle cx="290.75" cy="80.11" r="0.85"/><circle cx="297.32" cy="82.05" r="0.85"/><circle cx="296.76" cy="83.75" r="0.85"/><circle cx="300.81" cy="86.23" r="0.85"/><circle cx="299.32" cy="81.70" r="0.85"/><circle cx="294.91" cy="79.54" r="0.85"/><circle cx="302.03" cy="85.22" r="0.85"/><circle cx="296.46" cy="86.46" r="0.85"/><circle cx="298.39" cy="79.21" r="0.85"/><circle cx="296.78" cy="87.71" r="0.85"/><circle cx="293.68" cy="79.95" r="0.85"/><circle cx="294.56" cy="85.68" r="0.85"/><circle cx="292.55" cy="80.57" r="0.85"/><circle cx="294.91" cy="83.65" r="0.85"/><circle cx="292.62" cy="81.47" r="0.85"/><circle cx="301.37" cy="86.01" r="0.85"/><circle cx="296.40" cy="80.00" r="0.85"/><circle cx="293.25" cy="82.15" r="0.85"/><circle cx="290.87" cy="82.27" r="0.85"/><circle cx="301.32" cy="85.57" r="0.85"/><circle cx="294.79" cy="84.27" r="0.8"/><circle cx="295.77" cy="84.23" r="0.8"/><circle cx="296.99" cy="84.25" r="0.8"/><circle cx="294.84" cy="85.55" r="0.8"/><circle cx="295.80" cy="85.27" r="0.8"/><circle cx="296.79" cy="85.02" r="0.8"/><circle cx="297.90" cy="85.45" r="0.8"/><circle cx="298.53" cy="85.25" r="0.8"/><circle cx="294.79" cy="86.24" r="0.8"/><circle cx="296.00" cy="86.08" r="0.8"/><circle cx="296.89" cy="86.22" r="0.8"/><circle cx="298.03" cy="85.98" r="0.8"/><circle cx="298.46" cy="86.50" r="0.8"/><circle cx="294.71" cy="87.02" r="0.8"/><circle cx="295.73" cy="87.45" r="0.8"/><circle cx="296.80" cy="87.53" r="0.8"/><circle cx="297.64" cy="87.61" r="0.8"/><circle cx="298.83" cy="87.22" r="0.8"/><circle cx="296.36" cy="88.24" r="0.8"/><circle cx="297.84" cy="88.20" r="0.8"/><circle cx="303.8" cy="84.7" r="0.9"/><circle cx="284.9" cy="75.8" r="0.9"/></g><rect x="229.4" y="47.4" width="77.90" height="48.70" fill="none" stroke="#9a9a9a" stroke-width="1"/><line x1="226.80" y1="50.1" x2="229.4" y2="50.1" stroke="#333" stroke-width="0.9"/><line x1="226.80" y1="59.0" x2="229.4" y2="59.0" stroke="#333" stroke-width="0.9"/><line x1="226.80" y1="67.9" x2="229.4" y2="67.9" stroke="#333" stroke-width="0.9"/><line x1="226.80" y1="77.1" x2="229.4" y2="77.1" stroke="#333" stroke-width="0.9"/><line x1="226.80" y1="86.0" x2="229.4" y2="86.0" stroke="#333" stroke-width="0.9"/><line x1="226.80" y1="94.9" x2="229.4" y2="94.9" stroke="#333" stroke-width="0.9"/><line x1="232.7" y1="96.1" x2="232.7" y2="98.70" stroke="#333" stroke-width="0.9"/><line x1="251.2" y1="96.1" x2="251.2" y2="98.70" stroke="#333" stroke-width="0.9"/><line x1="269.7" y1="96.1" x2="269.7" y2="98.70" stroke="#333" stroke-width="0.9"/><line x1="288.3" y1="96.1" x2="288.3" y2="98.70" stroke="#333" stroke-width="0.9"/><line x1="306.8" y1="96.1" x2="306.8" y2="98.70" stroke="#333" stroke-width="0.9"/><g style="font-family:&quot;Liberation Sans&quot;,sans-serif;font-size:8.5px" fill="#5c5c5c" stroke="#5c5c5c" stroke-width="0.08"><text x="225.0" y="53.10" text-anchor="end" textLength="17.20" lengthAdjust="spacingAndGlyphs">1990</text><text x="225.0" y="62.00" text-anchor="end" textLength="17.20" lengthAdjust="spacingAndGlyphs">1980</text><text x="225.0" y="70.90" text-anchor="end" textLength="17.20" lengthAdjust="spacingAndGlyphs">1970</text><text x="225.0" y="80.10" text-anchor="end" textLength="17.20" lengthAdjust="spacingAndGlyphs">1960</text><text x="225.0" y="89.00" text-anchor="end" textLength="17.20" lengthAdjust="spacingAndGlyphs">1950</text><text x="225.0" y="97.90" text-anchor="end" textLength="17.20" lengthAdjust="spacingAndGlyphs">1940</text><text x="232.7" y="107.25" text-anchor="middle" textLength="4.30" lengthAdjust="spacingAndGlyphs">0</text><text x="251.2" y="107.25" text-anchor="middle" textLength="8.60" lengthAdjust="spacingAndGlyphs">20</text><text x="269.7" y="107.25" text-anchor="middle" textLength="8.60" lengthAdjust="spacingAndGlyphs">40</text><text x="288.3" y="107.25" text-anchor="middle" textLength="8.60" lengthAdjust="spacingAndGlyphs">60</text><text x="306.8" y="107.25" text-anchor="middle" textLength="8.60" lengthAdjust="spacingAndGlyphs">80</text></g><text transform="translate(202.65,71.40) rotate(-90)" x="0" y="0" text-anchor="middle" textLength="39.0" lengthAdjust="spacingAndGlyphs" style="font-family:&quot;Liberation Sans&quot;,sans-serif;font-size:10.3px" fill="#1a1a1a">Elevation</text><text x="268.6" y="118.20" text-anchor="middle" style="font-family:&quot;Liberation Sans&quot;,sans-serif;font-size:10.4px" fill="#000">X</text><rect x="322.3" y="52.6" width="10.70" height="51.60" fill="url(#cB)"/><g style="font-family:&quot;Liberation Sans&quot;,sans-serif;font-size:8.7px" fill="#1a1a1a" stroke="#1a1a1a" stroke-width="0.08"><text x="338.7" y="56.80" textLength="17.60" lengthAdjust="spacingAndGlyphs">1990</text><text x="338.7" y="66.90" textLength="17.60" lengthAdjust="spacingAndGlyphs">1980</text><text x="338.7" y="77.10" textLength="17.60" lengthAdjust="spacingAndGlyphs">1970</text><text x="338.7" y="87.30" textLength="17.60" lengthAdjust="spacingAndGlyphs">1960</text><text x="338.7" y="97.30" textLength="17.60" lengthAdjust="spacingAndGlyphs">1950</text></g><text x="322.6" y="47.00" style="font-family:&quot;Liberation Sans&quot;,sans-serif;font-size:10.4px" fill="#000">Z</text><text x="426" y="27.6" textLength="84.0" lengthAdjust="spacingAndGlyphs" style="font-family:&quot;Liberation Serif&quot;,serif;font-size:11.6px" fill="#000">(<tspan font-weight="bold">c</tspan>) CS ratio = 0.50</text><line x1="431.80" y1="54.6" x2="431.80" y2="95.4" stroke="#f2f2f2" stroke-width="0.6"/><line x1="450.45" y1="54.6" x2="450.45" y2="95.4" stroke="#f2f2f2" stroke-width="0.6"/><line x1="469.00" y1="54.6" x2="469.00" y2="95.4" stroke="#f2f2f2" stroke-width="0.6"/><line x1="487.55" y1="54.6" x2="487.55" y2="95.4" stroke="#f2f2f2" stroke-width="0.6"/><line x1="419.5" y1="58.95" x2="496.8" y2="58.95" stroke="#f2f2f2" stroke-width="0.6"/><line x1="419.5" y1="69.05" x2="496.8" y2="69.05" stroke="#f2f2f2" stroke-width="0.6"/><line x1="419.5" y1="79.15" x2="496.8" y2="79.15" stroke="#f2f2f2" stroke-width="0.6"/><line x1="419.5" y1="89.20" x2="496.8" y2="89.20" stroke="#f2f2f2" stroke-width="0.6"/><line x1="422.40" y1="54.6" x2="422.40" y2="95.4" stroke="#e6e6e6" stroke-width="0.8"/><line x1="441.20" y1="54.6" x2="441.20" y2="95.4" stroke="#e6e6e6" stroke-width="0.8"/><line x1="459.70" y1="54.6" x2="459.70" y2="95.4" stroke="#e6e6e6" stroke-width="0.8"/><line x1="478.30" y1="54.6" x2="478.30" y2="95.4" stroke="#e6e6e6" stroke-width="0.8"/><line x1="419.5" y1="64.00" x2="496.8" y2="64.00" stroke="#e6e6e6" stroke-width="0.8"/><line x1="419.5" y1="74.10" x2="496.8" y2="74.10" stroke="#e6e6e6" stroke-width="0.8"/><line x1="419.5" y1="84.20" x2="496.8" y2="84.20" stroke="#e6e6e6" stroke-width="0.8"/><line x1="419.5" y1="94.20" x2="496.8" y2="94.20" stroke="#e6e6e6" stroke-width="0.8"/><g clip-path="url(#kC)" fill="url(#gC)" stroke="none"><polygon points="422.00,56.50 423.00,55.60 424.00,56.50 424.80,60.00 425.00,64.50 423.50,64.50 422.20,61.00"/><circle cx="429.57" cy="57.55" r="0.85"/><circle cx="429.75" cy="58.96" r="0.85"/><circle cx="431.05" cy="59.10" r="0.85"/><circle cx="428.83" cy="60.15" r="0.85"/><circle cx="429.44" cy="60.08" r="0.85"/><circle cx="430.92" cy="59.91" r="0.85"/><circle cx="428.65" cy="61.15" r="0.85"/><circle cx="429.73" cy="61.18" r="0.85"/><circle cx="430.63" cy="61.39" r="0.85"/><circle cx="431.84" cy="61.33" r="0.85"/><circle cx="433.10" cy="61.14" r="0.85"/><circle cx="428.75" cy="62.03" r="0.85"/><circle cx="429.51" cy="62.21" r="0.85"/><circle cx="430.95" cy="61.83" r="0.85"/><circle cx="432.12" cy="62.18" r="0.85"/><circle cx="432.81" cy="61.80" r="0.85"/><circle cx="434.35" cy="62.23" r="0.85"/><circle cx="435.35" cy="62.44" r="0.85"/><circle cx="428.74" cy="63.54" r="0.85"/><circle cx="429.56" cy="63.48" r="0.85"/><circle cx="430.79" cy="63.08" r="0.85"/><circle cx="431.80" cy="63.12" r="0.85"/><circle cx="433.05" cy="63.55" r="0.85"/><circle cx="434.10" cy="62.93" r="0.85"/><circle cx="435.37" cy="63.30" r="0.85"/><circle cx="436.21" cy="62.91" r="0.85"/><circle cx="428.35" cy="64.11" r="0.85"/><circle cx="429.30" cy="64.48" r="0.85"/><circle cx="431.08" cy="64.06" r="0.85"/><circle cx="431.59" cy="64.01" r="0.85"/><circle cx="432.77" cy="64.51" r="0.85"/><circle cx="433.74" cy="64.54" r="0.85"/><circle cx="435.40" cy="64.51" r="0.85"/><circle cx="436.34" cy="64.50" r="0.85"/><circle cx="437.65" cy="64.18" r="0.85"/><circle cx="428.77" cy="65.16" r="0.85"/><circle cx="429.81" cy="65.22" r="0.85"/><circle cx="430.74" cy="65.14" r="0.85"/><circle cx="431.90" cy="65.41" r="0.85"/><circle cx="432.70" cy="65.66" r="0.85"/><circle cx="434.15" cy="65.54" r="0.85"/><circle cx="435.07" cy="65.65" r="0.85"/><circle cx="436.45" cy="65.50" r="0.85"/><circle cx="437.04" cy="65.78" r="0.85"/><circle cx="438.68" cy="65.33" r="0.85"/><circle cx="428.42" cy="66.50" r="0.85"/><circle cx="429.56" cy="66.68" r="0.85"/><circle cx="431.03" cy="66.77" r="0.85"/><circle cx="431.50" cy="66.38" r="0.85"/><circle cx="433.01" cy="66.77" r="0.85"/><circle cx="433.73" cy="66.78" r="0.85"/><circle cx="435.41" cy="66.60" r="0.85"/><circle cx="436.50" cy="66.76" r="0.85"/><circle cx="437.64" cy="66.44" r="0.85"/><circle cx="438.49" cy="66.76" r="0.85"/><circle cx="428.62" cy="67.77" r="0.85"/><circle cx="429.44" cy="67.48" r="0.85"/><circle cx="430.95" cy="67.62" r="0.85"/><circle cx="432.06" cy="67.84" r="0.85"/><circle cx="433.01" cy="67.93" r="0.85"/><circle cx="434.07" cy="67.63" r="0.85"/><circle cx="434.93" cy="67.43" r="0.85"/><circle cx="436.39" cy="67.55" r="0.85"/><circle cx="437.28" cy="67.66" r="0.85"/><circle cx="438.13" cy="68.00" r="0.85"/><circle cx="439.27" cy="67.74" r="0.85"/><circle cx="429.72" cy="68.64" r="0.85"/><circle cx="430.41" cy="68.42" r="0.85"/><circle cx="434.10" cy="68.58" r="0.85"/><circle cx="436.56" cy="68.94" r="0.85"/><circle cx="439.23" cy="68.54" r="0.85"/><circle cx="429.91" cy="69.82" r="0.85"/><circle cx="433.02" cy="69.78" r="0.85"/><circle cx="434.37" cy="69.68" r="0.85"/><circle cx="435.25" cy="70.17" r="0.85"/><circle cx="437.31" cy="69.61" r="0.85"/><circle cx="429.93" cy="71.23" r="0.85"/><circle cx="432.05" cy="71.10" r="0.85"/><circle cx="434.90" cy="71.13" r="0.85"/><circle cx="438.51" cy="71.13" r="0.85"/><circle cx="439.43" cy="70.78" r="0.85"/><circle cx="429.40" cy="72.17" r="0.85"/><circle cx="430.90" cy="71.84" r="0.85"/><circle cx="432.15" cy="71.85" r="0.85"/><circle cx="436.21" cy="71.77" r="0.85"/><circle cx="429.74" cy="72.90" r="0.85"/><circle cx="430.44" cy="73.30" r="0.85"/><circle cx="431.60" cy="73.41" r="0.85"/><circle cx="432.89" cy="72.91" r="0.85"/><circle cx="434.29" cy="73.03" r="0.85"/><circle cx="435.14" cy="73.02" r="0.85"/><circle cx="437.69" cy="72.84" r="0.85"/><circle cx="433.90" cy="74.53" r="0.85"/><circle cx="435.31" cy="74.11" r="0.85"/><circle cx="437.56" cy="74.14" r="0.85"/><circle cx="438.10" cy="74.48" r="0.85"/><circle cx="439.33" cy="74.20" r="0.85"/><circle cx="427.96" cy="67.51" r="0.8"/><circle cx="425.89" cy="66.85" r="0.8"/><circle cx="423.50" cy="72.09" r="0.8"/><circle cx="426.74" cy="67.33" r="0.8"/><circle cx="422.88" cy="66.43" r="0.8"/><circle cx="426.11" cy="69.81" r="0.8"/><circle cx="424.07" cy="67.41" r="0.8"/><circle cx="426.14" cy="71.57" r="0.8"/><circle cx="427.35" cy="70.54" r="0.8"/><circle cx="423.63" cy="66.25" r="0.8"/><circle cx="426.87" cy="69.09" r="0.8"/><circle cx="426.80" cy="66.16" r="0.8"/><circle cx="427.34" cy="68.48" r="0.8"/><circle cx="427.54" cy="72.88" r="0.8"/><circle cx="425.41" cy="65.83" r="0.8"/><circle cx="427.95" cy="69.66" r="0.8"/><circle cx="427.72" cy="67.91" r="0.8"/><circle cx="423.53" cy="72.60" r="0.8"/><polyline points="422.20,75.80 430.00,76.20 440.00,76.90 447.00,77.60 450.00,79.20 453.00,81.20 456.00,82.80 459.60,84.00 464.20,85.60 468.70,87.30 472.60,89.20 476.40,90.70 480.20,92.20" fill="none" stroke="url(#gC)" stroke-width="3.0" stroke-linecap="round" stroke-linejoin="round"/><polyline points="465.70,83.60 470.30,84.40 474.10,86.70 477.90,89.00 481.00,90.50 484.00,92.00" fill="none" stroke="url(#gC)" stroke-width="2.3" stroke-linecap="round" stroke-linejoin="round"/><polyline points="423.30,78.00 423.80,82.50" fill="none" stroke="url(#gC)" stroke-width="1.5" stroke-linecap="round" stroke-linejoin="round"/><polyline points="432.80,78.50 433.00,82.00" fill="none" stroke="url(#gC)" stroke-width="1.4" stroke-linecap="round" stroke-linejoin="round"/><circle cx="433.05" cy="81.23" r="0.8"/><circle cx="432.02" cy="81.65" r="0.8"/><circle cx="432.98" cy="81.61" r="0.8"/><circle cx="433.77" cy="81.93" r="0.8"/><circle cx="432.16" cy="83.10" r="0.8"/><circle cx="432.51" cy="82.89" r="0.8"/><circle cx="432.00" cy="83.67" r="0.8"/><circle cx="433.12" cy="83.91" r="0.8"/><circle cx="433.79" cy="83.78" r="0.8"/><circle cx="435.54" cy="83.93" r="0.8"/><circle cx="436.69" cy="84.14" r="0.8"/><circle cx="437.41" cy="83.80" r="0.8"/><circle cx="431.16" cy="84.85" r="0.8"/><circle cx="431.98" cy="84.57" r="0.8"/><circle cx="432.80" cy="84.81" r="0.8"/><circle cx="433.75" cy="84.64" r="0.8"/><circle cx="434.53" cy="84.78" r="0.8"/><circle cx="435.73" cy="84.43" r="0.8"/><circle cx="436.88" cy="84.59" r="0.8"/><circle cx="437.57" cy="84.62" r="0.8"/><circle cx="430.23" cy="85.68" r="0.8"/><circle cx="430.85" cy="85.68" r="0.8"/><circle cx="431.60" cy="85.53" r="0.8"/><circle cx="433.53" cy="85.61" r="0.8"/><circle cx="434.85" cy="85.81" r="0.8"/><circle cx="435.90" cy="85.74" r="0.8"/><circle cx="436.80" cy="85.91" r="0.8"/><circle cx="437.77" cy="85.87" r="0.8"/><circle cx="438.26" cy="85.98" r="0.8"/><circle cx="430.30" cy="86.73" r="0.8"/><circle cx="431.12" cy="86.94" r="0.8"/><circle cx="431.79" cy="86.64" r="0.8"/><circle cx="432.98" cy="86.53" r="0.8"/><circle cx="433.81" cy="86.59" r="0.8"/><circle cx="434.93" cy="86.92" r="0.8"/><circle cx="435.64" cy="86.45" r="0.8"/><circle cx="436.38" cy="86.73" r="0.8"/><circle cx="437.29" cy="86.97" r="0.8"/><circle cx="438.77" cy="86.91" r="0.8"/><circle cx="429.92" cy="87.91" r="0.8"/><circle cx="430.61" cy="87.67" r="0.8"/><circle cx="432.17" cy="87.82" r="0.8"/><circle cx="433.17" cy="87.64" r="0.8"/><circle cx="433.90" cy="87.55" r="0.8"/><circle cx="434.79" cy="87.52" r="0.8"/><circle cx="436.64" cy="87.34" r="0.8"/><circle cx="437.51" cy="87.67" r="0.8"/><circle cx="438.79" cy="87.95" r="0.8"/><circle cx="439.43" cy="87.71" r="0.8"/><circle cx="430.95" cy="88.80" r="0.8"/><circle cx="431.75" cy="88.91" r="0.8"/><circle cx="432.83" cy="88.30" r="0.8"/><circle cx="433.91" cy="88.80" r="0.8"/><circle cx="435.62" cy="88.33" r="0.8"/><circle cx="436.63" cy="88.58" r="0.8"/><circle cx="437.35" cy="88.67" r="0.8"/><circle cx="438.42" cy="88.92" r="0.8"/><circle cx="439.15" cy="88.51" r="0.8"/><circle cx="429.84" cy="89.66" r="0.8"/><circle cx="431.99" cy="89.31" r="0.8"/><circle cx="432.86" cy="89.36" r="0.8"/><polyline points="432.50,86.50 435.00,85.80" fill="none" stroke="#fff" stroke-width="0.8" stroke-linecap="round" stroke-linejoin="round"/><polyline points="422.20,90.50 434.50,91.60 449.10,93.10 452.00,93.80" fill="none" stroke="url(#gC)" stroke-width="1.8" stroke-linecap="round" stroke-linejoin="round"/><polyline points="451.30,90.90 456.40,93.80" fill="none" stroke="url(#gC)" stroke-width="1.5" stroke-linecap="round" stroke-linejoin="round"/><polyline points="455.80,89.40 461.10,90.50 465.70,91.60 470.30,93.20 472.60,94.30" fill="none" stroke="url(#gC)" stroke-width="1.9" stroke-linecap="round" stroke-linejoin="round"/><polyline points="468.70,91.30 474.10,93.20 477.90,94.70" fill="none" stroke="url(#gC)" stroke-width="1.7" stroke-linecap="round" stroke-linejoin="round"/><polyline points="455.00,94.00 456.50,94.50" fill="none" stroke="url(#gC)" stroke-width="1.6" stroke-linecap="round" stroke-linejoin="round"/><circle cx="481.82" cy="85.39" r="0.8"/><circle cx="481.72" cy="86.37" r="0.8"/><circle cx="480.95" cy="87.57" r="0.8"/><circle cx="481.61" cy="87.47" r="0.8"/><circle cx="482.77" cy="87.81" r="0.8"/><circle cx="483.94" cy="87.60" r="0.8"/><circle cx="484.76" cy="87.40" r="0.8"/><circle cx="485.71" cy="87.44" r="0.8"/><circle cx="486.75" cy="87.63" r="0.8"/><circle cx="488.09" cy="87.97" r="0.8"/><circle cx="488.64" cy="87.54" r="0.8"/><circle cx="490.03" cy="87.81" r="0.8"/><circle cx="490.84" cy="87.81" r="0.8"/><circle cx="491.72" cy="87.94" r="0.8"/><circle cx="480.69" cy="88.56" r="0.8"/><circle cx="481.58" cy="88.57" r="0.8"/><circle cx="482.68" cy="88.94" r="0.8"/><circle cx="484.05" cy="88.53" r="0.8"/><circle cx="485.03" cy="88.59" r="0.8"/><circle cx="486.13" cy="88.89" r="0.8"/><circle cx="486.58" cy="88.95" r="0.8"/><circle cx="487.58" cy="88.52" r="0.8"/><circle cx="489.10" cy="88.50" r="0.8"/><circle cx="490.07" cy="88.41" r="0.8"/><circle cx="490.83" cy="88.87" r="0.8"/><circle cx="491.75" cy="88.41" r="0.8"/><circle cx="492.85" cy="89.00" r="0.8"/><circle cx="479.87" cy="89.39" r="0.8"/><circle cx="480.85" cy="89.71" r="0.8"/><circle cx="481.64" cy="89.88" r="0.8"/><circle cx="483.04" cy="89.91" r="0.8"/><circle cx="483.93" cy="90.03" r="0.8"/><circle cx="484.93" cy="89.52" r="0.8"/><circle cx="485.80" cy="89.64" r="0.8"/><circle cx="486.77" cy="89.45" r="0.8"/><circle cx="488.02" cy="89.52" r="0.8"/><circle cx="488.91" cy="89.66" r="0.8"/><circle cx="489.80" cy="89.56" r="0.8"/><circle cx="490.65" cy="89.74" r="0.8"/><circle cx="492.12" cy="89.73" r="0.8"/><circle cx="492.67" cy="89.82" r="0.8"/><circle cx="493.87" cy="89.89" r="0.8"/><circle cx="479.63" cy="90.55" r="0.8"/><circle cx="480.69" cy="90.39" r="0.8"/><circle cx="481.69" cy="90.84" r="0.8"/><circle cx="482.63" cy="90.58" r="0.8"/><circle cx="483.80" cy="90.47" r="0.8"/><circle cx="484.56" cy="91.04" r="0.8"/><circle cx="485.61" cy="90.85" r="0.8"/><circle cx="487.63" cy="90.69" r="0.8"/><circle cx="488.68" cy="90.73" r="0.8"/><circle cx="490.19" cy="90.80" r="0.8"/><circle cx="491.20" cy="90.81" r="0.8"/><circle cx="491.72" cy="90.45" r="0.8"/><circle cx="493.09" cy="90.94" r="0.8"/><circle cx="493.68" cy="90.80" r="0.8"/><circle cx="480.20" cy="91.47" r="0.8"/><circle cx="481.13" cy="91.87" r="0.8"/><circle cx="481.68" cy="91.93" r="0.8"/><circle cx="482.81" cy="91.74" r="0.8"/><circle cx="484.13" cy="91.52" r="0.8"/><circle cx="484.95" cy="91.79" r="0.8"/><circle cx="486.04" cy="91.98" r="0.8"/><circle cx="486.90" cy="91.70" r="0.8"/><circle cx="487.76" cy="91.76" r="0.8"/><circle cx="489.03" cy="91.46" r="0.8"/><circle cx="490.23" cy="91.41" r="0.8"/><circle cx="490.86" cy="91.48" r="0.8"/><circle cx="491.55" cy="91.94" r="0.8"/><circle cx="493.10" cy="91.65" r="0.8"/><circle cx="479.79" cy="92.66" r="0.8"/><circle cx="481.13" cy="92.98" r="0.8"/><circle cx="481.76" cy="92.66" r="0.8"/><circle cx="482.79" cy="92.49" r="0.8"/><circle cx="483.78" cy="92.67" r="0.8"/><circle cx="486.16" cy="93.03" r="0.8"/><circle cx="488.12" cy="92.39" r="0.8"/><circle cx="488.98" cy="92.56" r="0.8"/><circle cx="490.22" cy="92.69" r="0.8"/><circle cx="490.76" cy="92.59" r="0.8"/><circle cx="491.57" cy="92.48" r="0.8"/><circle cx="492.86" cy="92.41" r="0.8"/><circle cx="493.81" cy="92.76" r="0.8"/><circle cx="479.92" cy="93.75" r="0.8"/><circle cx="480.63" cy="93.48" r="0.8"/><circle cx="481.93" cy="93.43" r="0.8"/><circle cx="482.73" cy="93.42" r="0.8"/><circle cx="483.73" cy="93.69" r="0.8"/><circle cx="484.71" cy="93.75" r="0.8"/><circle cx="485.91" cy="93.76" r="0.8"/><circle cx="486.84" cy="93.40" r="0.8"/><circle cx="488.15" cy="93.74" r="0.8"/><circle cx="489.08" cy="93.43" r="0.8"/><circle cx="490.62" cy="93.93" r="0.8"/><circle cx="491.67" cy="94.02" r="0.8"/><circle cx="493.09" cy="93.45" r="0.8"/><circle cx="493.59" cy="93.52" r="0.8"/><circle cx="492.8" cy="89" r="0.9"/></g><rect x="419.5" y="54.6" width="77.30" height="40.80" fill="none" stroke="#9a9a9a" stroke-width="1"/><line x1="416.90" y1="64.0" x2="419.5" y2="64.0" stroke="#333" stroke-width="0.9"/><line x1="416.90" y1="74.1" x2="419.5" y2="74.1" stroke="#333" stroke-width="0.9"/><line x1="416.90" y1="84.2" x2="419.5" y2="84.2" stroke="#333" stroke-width="0.9"/><line x1="416.90" y1="94.2" x2="419.5" y2="94.2" stroke="#333" stroke-width="0.9"/><line x1="422.4" y1="95.4" x2="422.4" y2="98.00" stroke="#333" stroke-width="0.9"/><line x1="441.2" y1="95.4" x2="441.2" y2="98.00" stroke="#333" stroke-width="0.9"/><line x1="459.7" y1="95.4" x2="459.7" y2="98.00" stroke="#333" stroke-width="0.9"/><line x1="478.3" y1="95.4" x2="478.3" y2="98.00" stroke="#333" stroke-width="0.9"/><line x1="496.8" y1="95.4" x2="496.8" y2="98.00" stroke="#333" stroke-width="0.9"/><g style="font-family:&quot;Liberation Sans&quot;,sans-serif;font-size:8.5px" fill="#5c5c5c" stroke="#5c5c5c" stroke-width="0.08"><text x="414.7" y="67.00" text-anchor="end" textLength="17.20" lengthAdjust="spacingAndGlyphs">2000</text><text x="414.7" y="77.10" text-anchor="end" textLength="17.20" lengthAdjust="spacingAndGlyphs">1990</text><text x="414.7" y="87.20" text-anchor="end" textLength="17.20" lengthAdjust="spacingAndGlyphs">1980</text><text x="414.7" y="97.20" text-anchor="end" textLength="17.20" lengthAdjust="spacingAndGlyphs">1970</text><text x="422.4" y="107.50" text-anchor="middle" textLength="4.30" lengthAdjust="spacingAndGlyphs">0</text><text x="441.2" y="107.50" text-anchor="middle" textLength="8.60" lengthAdjust="spacingAndGlyphs">20</text><text x="459.7" y="107.50" text-anchor="middle" textLength="8.60" lengthAdjust="spacingAndGlyphs">40</text><text x="478.3" y="107.50" text-anchor="middle" textLength="8.60" lengthAdjust="spacingAndGlyphs">60</text><text x="496.8" y="107.50" text-anchor="middle" textLength="8.60" lengthAdjust="spacingAndGlyphs">80</text></g><text transform="translate(392.65,75.50) rotate(-90)" x="0" y="0" text-anchor="middle" textLength="42.8" lengthAdjust="spacingAndGlyphs" style="font-family:&quot;Liberation Sans&quot;,sans-serif;font-size:10.3px" fill="#1a1a1a">Elevation</text><text x="458.1" y="119.80" text-anchor="middle" style="font-family:&quot;Liberation Sans&quot;,sans-serif;font-size:10.4px" fill="#000">X</text><rect x="512" y="54" width="10.40" height="57.60" fill="url(#cC)"/><g style="font-family:&quot;Liberation Sans&quot;,sans-serif;font-size:8.7px" fill="#1a1a1a" stroke="#1a1a1a" stroke-width="0.08"><text x="527.6" y="68.60" textLength="17.60" lengthAdjust="spacingAndGlyphs">2000</text><text x="527.6" y="84.20" textLength="17.60" lengthAdjust="spacingAndGlyphs">1990</text><text x="527.6" y="99.20" textLength="17.60" lengthAdjust="spacingAndGlyphs">1980</text></g><text x="512" y="47.60" style="font-family:&quot;Liberation Sans&quot;,sans-serif;font-size:10.4px" fill="#000">Z</text><text x="46" y="137.7" textLength="84.4" lengthAdjust="spacingAndGlyphs" style="font-family:&quot;Liberation Serif&quot;,serif;font-size:11.6px" fill="#000">(<tspan font-weight="bold">d</tspan>) CS ratio = 0.25</text><line x1="52.70" y1="159.5" x2="52.70" y2="205.4" stroke="#f2f2f2" stroke-width="0.6"/><line x1="71.30" y1="159.5" x2="71.30" y2="205.4" stroke="#f2f2f2" stroke-width="0.6"/><line x1="89.70" y1="159.5" x2="89.70" y2="205.4" stroke="#f2f2f2" stroke-width="0.6"/><line x1="108.20" y1="159.5" x2="108.20" y2="205.4" stroke="#f2f2f2" stroke-width="0.6"/><line x1="40.2" y1="162.60" x2="117.4" y2="162.60" stroke="#f2f2f2" stroke-width="0.6"/><line x1="40.2" y1="171.80" x2="117.4" y2="171.80" stroke="#f2f2f2" stroke-width="0.6"/><line x1="40.2" y1="181.00" x2="117.4" y2="181.00" stroke="#f2f2f2" stroke-width="0.6"/><line x1="40.2" y1="190.20" x2="117.4" y2="190.20" stroke="#f2f2f2" stroke-width="0.6"/><line x1="40.2" y1="199.40" x2="117.4" y2="199.40" stroke="#f2f2f2" stroke-width="0.6"/><line x1="43.20" y1="159.5" x2="43.20" y2="205.4" stroke="#e6e6e6" stroke-width="0.8"/><line x1="62.20" y1="159.5" x2="62.20" y2="205.4" stroke="#e6e6e6" stroke-width="0.8"/><line x1="80.40" y1="159.5" x2="80.40" y2="205.4" stroke="#e6e6e6" stroke-width="0.8"/><line x1="99.00" y1="159.5" x2="99.00" y2="205.4" stroke="#e6e6e6" stroke-width="0.8"/><line x1="40.2" y1="167.20" x2="117.4" y2="167.20" stroke="#e6e6e6" stroke-width="0.8"/><line x1="40.2" y1="176.40" x2="117.4" y2="176.40" stroke="#e6e6e6" stroke-width="0.8"/><line x1="40.2" y1="185.60" x2="117.4" y2="185.60" stroke="#e6e6e6" stroke-width="0.8"/><line x1="40.2" y1="194.80" x2="117.4" y2="194.80" stroke="#e6e6e6" stroke-width="0.8"/><line x1="40.2" y1="204.00" x2="117.4" y2="204.00" stroke="#e6e6e6" stroke-width="0.8"/><g clip-path="url(#kD)" fill="url(#gD)" stroke="none"><polygon points="42.60,161.50 43.80,160.50 45.20,162.00 45.60,165.00 45.40,167.50 43.00,167.30 42.60,164.00"/><circle cx="53.52" cy="164.12" r="0.88"/><circle cx="55.03" cy="164.08" r="0.88"/><circle cx="52.50" cy="165.18" r="0.88"/><circle cx="53.50" cy="165.31" r="0.88"/><circle cx="54.98" cy="165.27" r="0.88"/><circle cx="55.61" cy="164.94" r="0.88"/><circle cx="50.33" cy="165.95" r="0.88"/><circle cx="52.55" cy="166.13" r="0.88"/><circle cx="53.67" cy="166.05" r="0.88"/><circle cx="54.91" cy="166.03" r="0.88"/><circle cx="55.92" cy="166.49" r="0.88"/><circle cx="56.80" cy="166.27" r="0.88"/><circle cx="49.54" cy="167.51" r="0.88"/><circle cx="50.54" cy="167.34" r="0.88"/><circle cx="51.40" cy="167.46" r="0.88"/><circle cx="52.96" cy="167.38" r="0.88"/><circle cx="53.93" cy="167.42" r="0.88"/><circle cx="54.94" cy="167.15" r="0.88"/><circle cx="55.88" cy="166.94" r="0.88"/><circle cx="56.93" cy="167.59" r="0.88"/><circle cx="58.06" cy="167.07" r="0.88"/><circle cx="49.40" cy="168.21" r="0.88"/><circle cx="50.15" cy="168.21" r="0.88"/><circle cx="51.71" cy="168.39" r="0.88"/><circle cx="52.54" cy="168.64" r="0.88"/><circle cx="53.46" cy="168.13" r="0.88"/><circle cx="55.19" cy="168.25" r="0.88"/><circle cx="55.90" cy="168.61" r="0.88"/><circle cx="57.04" cy="168.63" r="0.88"/><circle cx="57.98" cy="168.02" r="0.88"/><circle cx="59.09" cy="168.49" r="0.88"/><circle cx="49.60" cy="169.55" r="0.88"/><circle cx="50.61" cy="169.77" r="0.88"/><circle cx="51.26" cy="169.67" r="0.88"/><circle cx="52.54" cy="169.20" r="0.88"/><circle cx="53.78" cy="169.71" r="0.88"/><circle cx="55.15" cy="169.25" r="0.88"/><circle cx="56.12" cy="169.55" r="0.88"/><circle cx="57.18" cy="169.34" r="0.88"/><circle cx="58.09" cy="169.13" r="0.88"/><circle cx="59.13" cy="169.45" r="0.88"/><circle cx="60.18" cy="169.42" r="0.88"/><circle cx="49.65" cy="170.59" r="0.88"/><circle cx="51.63" cy="170.71" r="0.88"/><circle cx="52.37" cy="170.31" r="0.88"/><circle cx="53.94" cy="170.26" r="0.88"/><circle cx="54.80" cy="170.58" r="0.88"/><circle cx="55.99" cy="170.66" r="0.88"/><circle cx="56.93" cy="170.72" r="0.88"/><circle cx="58.30" cy="170.73" r="0.88"/><circle cx="59.12" cy="170.74" r="0.88"/><circle cx="60.32" cy="170.39" r="0.88"/><circle cx="49.66" cy="171.39" r="0.88"/><circle cx="50.43" cy="171.76" r="0.88"/><circle cx="51.45" cy="171.99" r="0.88"/><circle cx="52.83" cy="171.36" r="0.88"/><circle cx="53.49" cy="171.34" r="0.88"/><circle cx="54.89" cy="171.43" r="0.88"/><circle cx="55.86" cy="171.40" r="0.88"/><circle cx="57.22" cy="171.95" r="0.88"/><circle cx="57.82" cy="171.84" r="0.88"/><circle cx="59.59" cy="171.65" r="0.88"/><circle cx="60.24" cy="171.86" r="0.88"/><circle cx="49.23" cy="173.03" r="0.88"/><circle cx="50.61" cy="172.45" r="0.88"/><circle cx="51.48" cy="173.00" r="0.88"/><circle cx="52.69" cy="172.69" r="0.88"/><circle cx="54.06" cy="172.84" r="0.88"/><circle cx="54.68" cy="172.58" r="0.88"/><circle cx="55.76" cy="172.54" r="0.88"/><circle cx="57.15" cy="172.61" r="0.88"/><circle cx="59.30" cy="172.51" r="0.88"/><circle cx="60.61" cy="172.59" r="0.88"/><circle cx="49.58" cy="173.70" r="0.88"/><circle cx="50.44" cy="174.12" r="0.88"/><circle cx="51.68" cy="173.92" r="0.88"/><circle cx="52.71" cy="174.12" r="0.88"/><circle cx="54.02" cy="173.75" r="0.88"/><circle cx="55.10" cy="173.63" r="0.88"/><circle cx="56.30" cy="173.71" r="0.88"/><circle cx="56.78" cy="174.18" r="0.88"/><circle cx="58.44" cy="173.61" r="0.88"/><circle cx="58.97" cy="173.62" r="0.88"/><circle cx="60.06" cy="173.74" r="0.88"/><circle cx="49.50" cy="175.22" r="0.88"/><circle cx="50.12" cy="174.76" r="0.88"/><circle cx="51.68" cy="174.63" r="0.88"/><circle cx="52.46" cy="174.90" r="0.88"/><circle cx="53.41" cy="175.29" r="0.88"/><circle cx="55.12" cy="174.68" r="0.88"/><circle cx="55.70" cy="174.90" r="0.88"/><circle cx="57.18" cy="174.70" r="0.88"/><circle cx="58.15" cy="174.68" r="0.88"/><circle cx="59.25" cy="175.24" r="0.88"/><circle cx="60.15" cy="175.28" r="0.88"/><circle cx="51.32" cy="175.89" r="0.88"/><circle cx="52.33" cy="176.06" r="0.88"/><circle cx="53.79" cy="175.95" r="0.88"/><circle cx="54.98" cy="176.16" r="0.88"/><circle cx="55.98" cy="176.18" r="0.88"/><circle cx="60.22" cy="175.99" r="0.88"/><circle cx="50.37" cy="177.09" r="0.88"/><circle cx="51.90" cy="176.80" r="0.88"/><circle cx="52.95" cy="176.98" r="0.88"/><circle cx="53.66" cy="176.97" r="0.88"/><circle cx="54.58" cy="177.39" r="0.88"/><circle cx="58.29" cy="177.03" r="0.88"/><circle cx="59.28" cy="177.02" r="0.88"/><circle cx="49.52" cy="178.50" r="0.88"/><circle cx="50.51" cy="178.60" r="0.88"/><circle cx="51.64" cy="178.42" r="0.88"/><circle cx="52.80" cy="178.18" r="0.88"/><circle cx="53.83" cy="178.37" r="0.88"/><circle cx="54.94" cy="178.28" r="0.88"/><circle cx="56.03" cy="178.09" r="0.88"/><circle cx="58.31" cy="178.27" r="0.88"/><circle cx="59.05" cy="178.00" r="0.88"/><circle cx="51.32" cy="179.58" r="0.88"/><circle cx="52.75" cy="179.58" r="0.88"/><circle cx="55.87" cy="179.58" r="0.88"/><circle cx="57.91" cy="179.18" r="0.88"/><circle cx="59.15" cy="179.56" r="0.88"/><circle cx="60.32" cy="179.06" r="0.88"/><circle cx="52.78" cy="180.36" r="0.88"/><circle cx="53.57" cy="180.36" r="0.88"/><circle cx="54.77" cy="180.11" r="0.88"/><circle cx="56.00" cy="180.14" r="0.88"/><circle cx="57.20" cy="180.29" r="0.88"/><circle cx="57.97" cy="180.68" r="0.88"/><circle cx="59.35" cy="180.70" r="0.88"/><circle cx="60.30" cy="180.65" r="0.88"/><circle cx="53.67" cy="181.61" r="0.88"/><circle cx="56.28" cy="181.70" r="0.88"/><circle cx="57.17" cy="181.43" r="0.88"/><circle cx="58.33" cy="181.47" r="0.88"/><circle cx="42.94" cy="173.76" r="0.75"/><circle cx="45.34" cy="173.04" r="0.75"/><circle cx="47.42" cy="172.78" r="0.75"/><circle cx="45.40" cy="175.40" r="0.75"/><circle cx="45.22" cy="173.20" r="0.75"/><circle cx="45.61" cy="175.04" r="0.75"/><circle cx="46.49" cy="174.57" r="0.75"/><circle cx="45.01" cy="170.72" r="0.75"/><circle cx="46.54" cy="173.55" r="0.75"/><circle cx="47.03" cy="174.73" r="0.75"/><circle cx="43.45" cy="171.71" r="0.75"/><circle cx="43.22" cy="175.00" r="0.75"/><polyline points="42.50,179.80 50.00,180.30 60.80,181.00 67.30,181.40 71.70,183.60 79.00,187.40 80.90,188.00 86.30,190.10 91.80,192.90 96.10,196.10 102.70,201.00" fill="none" stroke="url(#gD)" stroke-width="2.6" stroke-linecap="round" stroke-linejoin="round"/><polyline points="42.50,187.30 50.00,187.50 60.80,187.40 68.40,189.60 73.00,192.00 79.00,194.80 80.90,195.30 87.40,197.80 91.80,200.00 97.80,203.20" fill="none" stroke="url(#gD)" stroke-width="2.6" stroke-linecap="round" stroke-linejoin="round"/><polyline points="96.70,185.80 102.70,187.40" fill="none" stroke="url(#gD)" stroke-width="1.3" stroke-linecap="round" stroke-linejoin="round"/><circle cx="105.99" cy="185.69" r="0.8"/><circle cx="112.31" cy="186.69" r="0.8"/><circle cx="105.53" cy="186.93" r="0.8"/><circle cx="111.90" cy="186.51" r="0.8"/><circle cx="105.53" cy="186.95" r="0.8"/><circle cx="109.05" cy="186.73" r="0.8"/><circle cx="114.68" cy="187.22" r="0.8"/><circle cx="113.46" cy="185.81" r="0.8"/><circle cx="108.24" cy="186.59" r="0.8"/><circle cx="105.06" cy="187.58" r="0.8"/><circle cx="107.66" cy="186.05" r="0.8"/><circle cx="108.04" cy="186.04" r="0.8"/><circle cx="113.33" cy="186.67" r="0.8"/><circle cx="109.96" cy="186.38" r="0.8"/><polyline points="96.70,186.00 105.00,189.50 114.70,194.00" fill="none" stroke="url(#gD)" stroke-width="2.0" stroke-linecap="round" stroke-linejoin="round"/><circle cx="101.70" cy="196.52" r="0.8"/><circle cx="112.87" cy="199.01" r="0.8"/><circle cx="112.74" cy="196.29" r="0.8"/><circle cx="103.77" cy="195.26" r="0.8"/><circle cx="108.35" cy="196.87" r="0.8"/><circle cx="107.36" cy="197.44" r="0.8"/><circle cx="109.00" cy="196.83" r="0.8"/><circle cx="111.98" cy="196.00" r="0.8"/><circle cx="113.60" cy="197.78" r="0.8"/><circle cx="101.70" cy="196.57" r="0.8"/><circle cx="108.30" cy="197.04" r="0.8"/><circle cx="108.74" cy="196.62" r="0.8"/><circle cx="104.75" cy="198.98" r="0.8"/><circle cx="104.99" cy="198.55" r="0.8"/><circle cx="111.99" cy="197.96" r="0.8"/><circle cx="107.09" cy="199.39" r="0.8"/><circle cx="101.79" cy="197.17" r="0.8"/><circle cx="109.17" cy="195.90" r="0.8"/><circle cx="103.62" cy="199.86" r="0.8"/><circle cx="104.74" cy="199.75" r="0.8"/><circle cx="106.22" cy="199.72" r="0.8"/><circle cx="107.82" cy="199.94" r="0.8"/><circle cx="108.33" cy="200.28" r="0.8"/><circle cx="110.18" cy="200.24" r="0.8"/><circle cx="111.31" cy="200.06" r="0.8"/><circle cx="112.54" cy="199.76" r="0.8"/><circle cx="101.84" cy="200.92" r="0.8"/><circle cx="102.42" cy="201.10" r="0.8"/><circle cx="103.53" cy="200.72" r="0.8"/><circle cx="104.66" cy="200.95" r="0.8"/><circle cx="105.23" cy="201.23" r="0.8"/><circle cx="106.80" cy="201.35" r="0.8"/><circle cx="108.35" cy="200.89" r="0.8"/><circle cx="109.50" cy="201.30" r="0.8"/><circle cx="110.49" cy="201.25" r="0.8"/><circle cx="111.53" cy="200.71" r="0.8"/><circle cx="112.34" cy="201.28" r="0.8"/><circle cx="113.31" cy="201.30" r="0.8"/><circle cx="114.57" cy="201.33" r="0.8"/><circle cx="101.81" cy="202.11" r="0.8"/><circle cx="102.38" cy="201.96" r="0.8"/><circle cx="103.67" cy="201.78" r="0.8"/><circle cx="104.36" cy="201.70" r="0.8"/><circle cx="105.22" cy="202.04" r="0.8"/><circle cx="106.57" cy="201.97" r="0.8"/><circle cx="107.51" cy="201.72" r="0.8"/><circle cx="108.24" cy="202.05" r="0.8"/><circle cx="109.41" cy="202.11" r="0.8"/><circle cx="110.27" cy="202.31" r="0.8"/><circle cx="111.74" cy="202.26" r="0.8"/><circle cx="112.25" cy="201.72" r="0.8"/><circle cx="113.23" cy="202.00" r="0.8"/><circle cx="114.23" cy="201.98" r="0.8"/><circle cx="101.52" cy="203.00" r="0.8"/><circle cx="102.29" cy="202.93" r="0.8"/><circle cx="103.24" cy="202.82" r="0.8"/><circle cx="104.50" cy="203.27" r="0.8"/><circle cx="105.81" cy="202.99" r="0.8"/><circle cx="106.55" cy="203.13" r="0.8"/><circle cx="107.68" cy="202.76" r="0.8"/><circle cx="108.17" cy="202.93" r="0.8"/><circle cx="109.35" cy="203.27" r="0.8"/><circle cx="110.55" cy="202.81" r="0.8"/><circle cx="111.70" cy="203.15" r="0.8"/><circle cx="112.32" cy="203.07" r="0.8"/><circle cx="114.58" cy="203.13" r="0.8"/><circle cx="106.5" cy="196.9" r="1.9"/></g><rect x="40.2" y="159.5" width="77.20" height="45.90" fill="none" stroke="#9a9a9a" stroke-width="1"/><line x1="37.60" y1="167.2" x2="40.2" y2="167.2" stroke="#333" stroke-width="0.9"/><line x1="37.60" y1="176.4" x2="40.2" y2="176.4" stroke="#333" stroke-width="0.9"/><line x1="37.60" y1="185.6" x2="40.2" y2="185.6" stroke="#333" stroke-width="0.9"/><line x1="37.60" y1="194.8" x2="40.2" y2="194.8" stroke="#333" stroke-width="0.9"/><line x1="37.60" y1="204.0" x2="40.2" y2="204.0" stroke="#333" stroke-width="0.9"/><line x1="43.2" y1="205.4" x2="43.2" y2="208.00" stroke="#333" stroke-width="0.9"/><line x1="62.2" y1="205.4" x2="62.2" y2="208.00" stroke="#333" stroke-width="0.9"/><line x1="80.4" y1="205.4" x2="80.4" y2="208.00" stroke="#333" stroke-width="0.9"/><line x1="99.0" y1="205.4" x2="99.0" y2="208.00" stroke="#333" stroke-width="0.9"/><line x1="117.4" y1="205.4" x2="117.4" y2="208.00" stroke="#333" stroke-width="0.9"/><g style="font-family:&quot;Liberation Sans&quot;,sans-serif;font-size:8.5px" fill="#5c5c5c" stroke="#5c5c5c" stroke-width="0.08"><text x="35.4" y="170.20" text-anchor="end" textLength="17.20" lengthAdjust="spacingAndGlyphs">1990</text><text x="35.4" y="179.40" text-anchor="end" textLength="17.20" lengthAdjust="spacingAndGlyphs">1980</text><text x="35.4" y="188.60" text-anchor="end" textLength="17.20" lengthAdjust="spacingAndGlyphs">1970</text><text x="35.4" y="197.80" text-anchor="end" textLength="17.20" lengthAdjust="spacingAndGlyphs">1960</text><text x="35.4" y="207.00" text-anchor="end" textLength="17.20" lengthAdjust="spacingAndGlyphs">1950</text><text x="43.2" y="216.50" text-anchor="middle" textLength="4.30" lengthAdjust="spacingAndGlyphs">0</text><text x="62.2" y="216.50" text-anchor="middle" textLength="8.60" lengthAdjust="spacingAndGlyphs">20</text><text x="80.4" y="216.50" text-anchor="middle" textLength="8.60" lengthAdjust="spacingAndGlyphs">40</text><text x="99.0" y="216.50" text-anchor="middle" textLength="8.60" lengthAdjust="spacingAndGlyphs">60</text><text x="117.4" y="216.50" text-anchor="middle" textLength="8.60" lengthAdjust="spacingAndGlyphs">80</text></g><text transform="translate(13.35,182.75) rotate(-90)" x="0" y="0" text-anchor="middle" textLength="40.1" lengthAdjust="spacingAndGlyphs" style="font-family:&quot;Liberation Sans&quot;,sans-serif;font-size:10.3px" fill="#1a1a1a">Elevation</text><text x="79" y="227.40" text-anchor="middle" style="font-family:&quot;Liberation Sans&quot;,sans-serif;font-size:10.4px" fill="#000">X</text><rect x="132.6" y="163.4" width="10.80" height="52.60" fill="url(#cD)"/><g style="font-family:&quot;Liberation Sans&quot;,sans-serif;font-size:8.7px" fill="#1a1a1a" stroke="#1a1a1a" stroke-width="0.08"><text x="148.6" y="173.00" textLength="17.60" lengthAdjust="spacingAndGlyphs">1990</text><text x="148.6" y="184.60" textLength="17.60" lengthAdjust="spacingAndGlyphs">1980</text><text x="148.6" y="196.20" textLength="17.60" lengthAdjust="spacingAndGlyphs">1970</text><text x="148.6" y="207.60" textLength="17.60" lengthAdjust="spacingAndGlyphs">1960</text><text x="148.6" y="219.00" textLength="17.60" lengthAdjust="spacingAndGlyphs">1950</text></g><text x="132.6" y="157.40" style="font-family:&quot;Liberation Sans&quot;,sans-serif;font-size:10.4px" fill="#000">Z</text><text x="236" y="137.7" textLength="84.0" lengthAdjust="spacingAndGlyphs" style="font-family:&quot;Liberation Serif&quot;,serif;font-size:11.6px" fill="#000">(<tspan font-weight="bold">e</tspan>) CS ratio = 0.10</text><line x1="241.95" y1="162.9" x2="241.95" y2="202.6" stroke="#f2f2f2" stroke-width="0.6"/><line x1="260.65" y1="162.9" x2="260.65" y2="202.6" stroke="#f2f2f2" stroke-width="0.6"/><line x1="279.30" y1="162.9" x2="279.30" y2="202.6" stroke="#f2f2f2" stroke-width="0.6"/><line x1="297.80" y1="162.9" x2="297.80" y2="202.6" stroke="#f2f2f2" stroke-width="0.6"/><line x1="229.1" y1="168.05" x2="307.4" y2="168.05" stroke="#f2f2f2" stroke-width="0.6"/><line x1="229.1" y1="177.60" x2="307.4" y2="177.60" stroke="#f2f2f2" stroke-width="0.6"/><line x1="229.1" y1="187.20" x2="307.4" y2="187.20" stroke="#f2f2f2" stroke-width="0.6"/><line x1="229.1" y1="196.80" x2="307.4" y2="196.80" stroke="#f2f2f2" stroke-width="0.6"/><line x1="232.60" y1="162.9" x2="232.60" y2="202.6" stroke="#e6e6e6" stroke-width="0.8"/><line x1="251.30" y1="162.9" x2="251.30" y2="202.6" stroke="#e6e6e6" stroke-width="0.8"/><line x1="270.00" y1="162.9" x2="270.00" y2="202.6" stroke="#e6e6e6" stroke-width="0.8"/><line x1="288.60" y1="162.9" x2="288.60" y2="202.6" stroke="#e6e6e6" stroke-width="0.8"/><line x1="307.00" y1="162.9" x2="307.00" y2="202.6" stroke="#e6e6e6" stroke-width="0.8"/><line x1="229.1" y1="163.30" x2="307.4" y2="163.30" stroke="#e6e6e6" stroke-width="0.8"/><line x1="229.1" y1="172.80" x2="307.4" y2="172.80" stroke="#e6e6e6" stroke-width="0.8"/><line x1="229.1" y1="182.40" x2="307.4" y2="182.40" stroke="#e6e6e6" stroke-width="0.8"/><line x1="229.1" y1="192.00" x2="307.4" y2="192.00" stroke="#e6e6e6" stroke-width="0.8"/><line x1="229.1" y1="201.60" x2="307.4" y2="201.60" stroke="#e6e6e6" stroke-width="0.8"/><g clip-path="url(#kE)" fill="url(#gE)" stroke="none"><polygon points="232.60,165.00 233.60,164.00 234.80,165.50 235.00,168.50 234.00,169.70 232.80,168.80"/><polygon points="238.40,165.00 239.60,164.00 240.90,165.50 240.70,167.80 239.30,168.30 238.40,167.00"/><polygon points="238.50,169.00 240.00,167.50 242.00,166.50 244.00,167.50 246.00,168.50 247.00,170.00 246.00,171.80 243.00,171.50 240.00,171.90"/><polygon points="245.40,171.00 247.00,169.70 249.00,170.50 250.30,172.50 250.30,175.50 248.50,176.30 246.00,175.50"/><circle cx="233.6" cy="173.2" r="1.3"/><circle cx="237.3" cy="173.5" r="1.3"/><circle cx="242.9" cy="172.7" r="0.9"/><circle cx="237.4" cy="177.9" r="1.3"/><circle cx="245.1" cy="177.4" r="1.3"/><circle cx="249.7" cy="177.6" r="1.2"/><circle cx="234.4" cy="176.8" r="0.7"/><circle cx="246.15" cy="173.37" r="0.8"/><circle cx="246.11" cy="173.85" r="0.8"/><circle cx="247.21" cy="172.04" r="0.8"/><circle cx="247.40" cy="173.65" r="0.8"/><circle cx="242.07" cy="172.35" r="0.8"/><circle cx="240.45" cy="174.94" r="0.8"/><polyline points="232.60,181.30 239.90,182.00 250.80,182.70 258.10,183.50 261.70,185.30 265.40,187.50 269.60,189.50 274.20,191.00 278.70,192.10 283.30,193.60 287.90,195.60 291.70,197.10" fill="none" stroke="url(#gE)" stroke-width="2.5" stroke-linecap="round" stroke-linejoin="round"/><polyline points="233.40,184.00 234.20,188.00" fill="none" stroke="url(#gE)" stroke-width="1.5" stroke-linecap="round" stroke-linejoin="round"/><circle cx="242.83" cy="185.75" r="0.75"/><circle cx="242.83" cy="186.52" r="0.75"/><circle cx="243.24" cy="186.63" r="0.75"/><circle cx="241.82" cy="187.42" r="0.75"/><circle cx="243.83" cy="187.60" r="0.75"/><circle cx="244.74" cy="187.21" r="0.75"/><circle cx="240.81" cy="188.63" r="0.75"/><circle cx="241.21" cy="188.51" r="0.75"/><circle cx="243.57" cy="188.64" r="0.75"/><circle cx="245.49" cy="188.06" r="0.75"/><circle cx="241.64" cy="189.36" r="0.75"/><circle cx="242.71" cy="189.13" r="0.75"/><circle cx="243.18" cy="189.63" r="0.75"/><circle cx="244.34" cy="189.72" r="0.75"/><circle cx="245.31" cy="189.67" r="0.75"/><circle cx="246.78" cy="189.33" r="0.75"/><circle cx="240.73" cy="190.16" r="0.75"/><circle cx="241.15" cy="190.17" r="0.75"/><circle cx="243.72" cy="190.23" r="0.75"/><circle cx="244.22" cy="190.44" r="0.75"/><circle cx="246.41" cy="190.70" r="0.75"/><circle cx="248.20" cy="190.49" r="0.75"/><circle cx="240.82" cy="191.30" r="0.75"/><circle cx="241.59" cy="191.31" r="0.75"/><circle cx="242.62" cy="191.69" r="0.75"/><circle cx="243.40" cy="191.73" r="0.75"/><circle cx="244.73" cy="191.53" r="0.75"/><circle cx="245.46" cy="191.58" r="0.75"/><circle cx="247.67" cy="191.07" r="0.75"/><circle cx="248.25" cy="191.72" r="0.75"/><circle cx="241.56" cy="192.45" r="0.75"/><circle cx="242.42" cy="192.57" r="0.75"/><circle cx="243.35" cy="192.58" r="0.75"/><circle cx="244.53" cy="192.34" r="0.75"/><circle cx="246.71" cy="192.52" r="0.75"/><circle cx="247.82" cy="192.55" r="0.75"/><circle cx="248.34" cy="192.16" r="0.75"/><polyline points="232.60,191.80 239.90,191.80 250.80,192.20 253.70,191.80 258.10,191.80 261.70,193.30 265.00,194.00 269.60,195.20 274.20,196.30 280.30,198.20 284.80,199.40 287.90,200.10" fill="none" stroke="url(#gE)" stroke-width="2.2" stroke-linecap="round" stroke-linejoin="round"/><polyline points="253.70,193.40 259.50,193.80 263.20,195.50 265.00,196.70 272.60,198.20 280.30,200.10 283.00,200.80" fill="none" stroke="url(#gE)" stroke-width="2.0" stroke-linecap="round" stroke-linejoin="round"/><circle cx="233.33" cy="195.41" r="0.8"/><circle cx="233.85" cy="195.21" r="0.8"/><circle cx="242.42" cy="195.04" r="0.8"/><circle cx="243.39" cy="195.17" r="0.8"/><circle cx="244.20" cy="195.40" r="0.8"/><circle cx="244.86" cy="195.38" r="0.8"/><circle cx="233.41" cy="196.37" r="0.8"/><circle cx="234.02" cy="196.41" r="0.8"/><circle cx="234.88" cy="196.46" r="0.8"/><circle cx="239.10" cy="196.45" r="0.8"/><circle cx="240.15" cy="196.13" r="0.8"/><circle cx="240.94" cy="196.44" r="0.8"/><circle cx="242.34" cy="195.96" r="0.8"/><circle cx="243.28" cy="196.20" r="0.8"/><circle cx="244.38" cy="196.37" r="0.8"/><circle cx="245.20" cy="196.47" r="0.8"/><circle cx="246.24" cy="196.34" r="0.8"/><circle cx="246.94" cy="195.90" r="0.8"/><circle cx="233.31" cy="197.00" r="0.8"/><circle cx="234.32" cy="197.23" r="0.8"/><circle cx="235.29" cy="196.87" r="0.8"/><circle cx="236.05" cy="196.89" r="0.8"/><circle cx="237.26" cy="197.26" r="0.8"/><circle cx="238.11" cy="197.26" r="0.8"/><circle cx="239.36" cy="197.55" r="0.8"/><circle cx="240.42" cy="197.08" r="0.8"/><circle cx="242.08" cy="196.94" r="0.8"/><circle cx="243.23" cy="197.35" r="0.8"/><circle cx="243.99" cy="196.98" r="0.8"/><circle cx="244.95" cy="196.99" r="0.8"/><circle cx="246.11" cy="197.16" r="0.8"/><circle cx="247.24" cy="196.99" r="0.8"/><circle cx="248.14" cy="197.34" r="0.8"/><circle cx="232.82" cy="197.92" r="0.8"/><circle cx="234.29" cy="198.18" r="0.8"/><circle cx="237.08" cy="198.43" r="0.8"/><circle cx="237.83" cy="198.24" r="0.8"/><circle cx="238.90" cy="198.03" r="0.8"/><circle cx="240.39" cy="198.35" r="0.8"/><circle cx="243.26" cy="198.12" r="0.8"/><circle cx="244.34" cy="197.94" r="0.8"/><circle cx="244.90" cy="198.26" r="0.8"/><circle cx="245.76" cy="198.43" r="0.8"/><circle cx="247.07" cy="197.88" r="0.8"/><circle cx="248.12" cy="197.90" r="0.8"/><circle cx="249.19" cy="198.47" r="0.8"/><circle cx="250.20" cy="197.99" r="0.8"/><circle cx="233.08" cy="198.95" r="0.8"/><circle cx="234.79" cy="199.02" r="0.8"/><circle cx="237.02" cy="199.40" r="0.8"/><circle cx="238.19" cy="199.37" r="0.8"/><circle cx="238.82" cy="199.53" r="0.8"/><circle cx="239.78" cy="198.88" r="0.8"/><circle cx="241.40" cy="199.00" r="0.8"/><circle cx="242.40" cy="199.30" r="0.8"/><circle cx="243.86" cy="198.86" r="0.8"/><circle cx="244.82" cy="199.53" r="0.8"/><circle cx="245.88" cy="199.41" r="0.8"/><circle cx="247.11" cy="198.92" r="0.8"/><circle cx="248.37" cy="199.49" r="0.8"/><circle cx="249.35" cy="199.24" r="0.8"/><circle cx="250.10" cy="199.28" r="0.8"/><circle cx="251.31" cy="198.90" r="0.8"/><circle cx="252.13" cy="199.05" r="0.8"/><circle cx="252.76" cy="199.37" r="0.8"/><circle cx="254.33" cy="199.42" r="0.8"/><circle cx="254.84" cy="199.31" r="0.8"/><circle cx="233.00" cy="199.92" r="0.8"/><circle cx="234.34" cy="200.44" r="0.8"/><circle cx="235.01" cy="200.06" r="0.8"/><circle cx="235.85" cy="200.27" r="0.8"/><circle cx="237.75" cy="199.90" r="0.8"/><circle cx="239.23" cy="200.27" r="0.8"/><circle cx="240.07" cy="200.14" r="0.8"/><circle cx="241.20" cy="200.49" r="0.8"/><circle cx="242.31" cy="200.49" r="0.8"/><circle cx="243.25" cy="199.87" r="0.8"/><circle cx="244.34" cy="200.15" r="0.8"/><circle cx="244.88" cy="200.51" r="0.8"/><circle cx="246.24" cy="200.03" r="0.8"/><circle cx="246.99" cy="200.08" r="0.8"/><circle cx="248.06" cy="200.54" r="0.8"/><circle cx="249.40" cy="200.38" r="0.8"/><circle cx="250.45" cy="200.38" r="0.8"/><circle cx="250.92" cy="200.14" r="0.8"/><circle cx="251.91" cy="200.47" r="0.8"/><circle cx="254.29" cy="200.39" r="0.8"/><circle cx="255.31" cy="200.22" r="0.8"/><circle cx="256.33" cy="200.07" r="0.8"/><circle cx="257.01" cy="200.23" r="0.8"/><circle cx="234.12" cy="201.30" r="0.8"/><circle cx="235.41" cy="201.14" r="0.8"/><circle cx="237.43" cy="200.91" r="0.8"/><circle cx="237.95" cy="201.48" r="0.8"/><circle cx="238.93" cy="201.35" r="0.8"/><circle cx="241.06" cy="201.33" r="0.8"/><circle cx="242.27" cy="201.38" r="0.8"/><circle cx="242.93" cy="200.87" r="0.8"/><circle cx="243.90" cy="201.03" r="0.8"/><circle cx="246.16" cy="201.31" r="0.8"/><circle cx="247.24" cy="201.06" r="0.8"/><circle cx="247.80" cy="200.86" r="0.8"/><circle cx="248.85" cy="200.93" r="0.8"/><circle cx="250.43" cy="201.33" r="0.8"/><circle cx="251.29" cy="200.97" r="0.8"/><circle cx="251.96" cy="201.14" r="0.8"/><circle cx="253.06" cy="201.36" r="0.8"/><circle cx="254.40" cy="201.09" r="0.8"/><circle cx="254.77" cy="201.43" r="0.8"/><circle cx="256.35" cy="201.41" r="0.8"/><circle cx="256.94" cy="200.86" r="0.8"/><circle cx="282.56" cy="191.61" r="0.8"/><circle cx="285.61" cy="191.55" r="0.8"/><circle cx="287.24" cy="191.82" r="0.8"/><circle cx="288.66" cy="191.25" r="0.8"/><circle cx="289.33" cy="191.41" r="0.8"/><circle cx="290.23" cy="191.32" r="0.8"/><circle cx="291.35" cy="191.42" r="0.8"/><circle cx="292.31" cy="191.29" r="0.8"/><circle cx="293.42" cy="191.41" r="0.8"/><circle cx="294.48" cy="191.76" r="0.8"/><circle cx="295.61" cy="191.74" r="0.8"/><circle cx="296.17" cy="191.46" r="0.8"/><circle cx="297.47" cy="191.65" r="0.8"/><circle cx="282.32" cy="192.27" r="0.8"/><circle cx="283.30" cy="192.21" r="0.8"/><circle cx="284.80" cy="192.47" r="0.8"/><circle cx="285.20" cy="192.47" r="0.8"/><circle cx="286.29" cy="192.61" r="0.8"/><circle cx="287.23" cy="192.84" r="0.8"/><circle cx="288.28" cy="192.16" r="0.8"/><circle cx="289.51" cy="192.17" r="0.8"/><circle cx="290.67" cy="192.53" r="0.8"/><circle cx="291.50" cy="192.57" r="0.8"/><circle cx="292.25" cy="192.71" r="0.8"/><circle cx="294.75" cy="192.41" r="0.8"/><circle cx="296.31" cy="192.57" r="0.8"/><circle cx="298.30" cy="192.18" r="0.8"/><circle cx="299.25" cy="192.28" r="0.8"/><circle cx="300.56" cy="192.81" r="0.8"/><circle cx="301.63" cy="192.16" r="0.8"/><circle cx="303.48" cy="192.51" r="0.8"/><circle cx="282.84" cy="193.58" r="0.8"/><circle cx="283.73" cy="193.29" r="0.8"/><circle cx="285.31" cy="193.82" r="0.8"/><circle cx="286.43" cy="193.39" r="0.8"/><circle cx="287.17" cy="193.41" r="0.8"/><circle cx="288.73" cy="193.15" r="0.8"/><circle cx="289.33" cy="193.47" r="0.8"/><circle cx="290.65" cy="193.25" r="0.8"/><circle cx="291.23" cy="193.82" r="0.8"/><circle cx="292.25" cy="193.52" r="0.8"/><circle cx="293.77" cy="193.19" r="0.8"/><circle cx="294.27" cy="193.56" r="0.8"/><circle cx="295.44" cy="193.77" r="0.8"/><circle cx="296.75" cy="193.82" r="0.8"/><circle cx="297.81" cy="193.44" r="0.8"/><circle cx="298.79" cy="193.22" r="0.8"/><circle cx="299.35" cy="193.35" r="0.8"/><circle cx="301.44" cy="193.52" r="0.8"/><circle cx="302.71" cy="193.61" r="0.8"/><circle cx="303.23" cy="193.32" r="0.8"/><circle cx="284.20" cy="194.78" r="0.8"/><circle cx="285.28" cy="194.63" r="0.8"/><circle cx="286.32" cy="194.41" r="0.8"/><circle cx="287.62" cy="194.20" r="0.8"/><circle cx="288.59" cy="194.48" r="0.8"/><circle cx="289.71" cy="194.16" r="0.8"/><circle cx="290.62" cy="194.65" r="0.8"/><circle cx="291.28" cy="194.82" r="0.8"/><circle cx="292.31" cy="194.45" r="0.8"/><circle cx="294.44" cy="194.82" r="0.8"/><circle cx="296.66" cy="194.40" r="0.8"/><circle cx="297.69" cy="194.24" r="0.8"/><circle cx="298.30" cy="194.34" r="0.8"/><circle cx="299.25" cy="194.43" r="0.8"/><circle cx="300.20" cy="194.56" r="0.8"/><circle cx="302.40" cy="194.64" r="0.8"/><circle cx="303.27" cy="194.49" r="0.8"/><circle cx="284.83" cy="195.29" r="0.8"/><circle cx="285.36" cy="195.33" r="0.8"/><circle cx="286.57" cy="195.74" r="0.8"/><circle cx="287.56" cy="195.29" r="0.8"/><circle cx="288.52" cy="195.66" r="0.8"/><circle cx="289.20" cy="195.15" r="0.8"/><circle cx="290.64" cy="195.15" r="0.8"/><circle cx="291.34" cy="195.65" r="0.8"/><circle cx="293.23" cy="195.80" r="0.8"/><circle cx="295.38" cy="195.52" r="0.8"/><circle cx="296.44" cy="195.49" r="0.8"/><circle cx="297.19" cy="195.21" r="0.8"/><circle cx="298.21" cy="195.59" r="0.8"/><circle cx="299.33" cy="195.70" r="0.8"/><circle cx="300.39" cy="195.49" r="0.8"/><circle cx="301.80" cy="195.54" r="0.8"/><circle cx="302.26" cy="195.63" r="0.8"/><circle cx="303.65" cy="195.31" r="0.8"/><circle cx="286.59" cy="196.32" r="0.8"/><circle cx="287.45" cy="196.52" r="0.8"/><circle cx="288.17" cy="196.66" r="0.8"/><circle cx="289.35" cy="196.60" r="0.8"/><circle cx="290.58" cy="196.78" r="0.8"/><circle cx="291.37" cy="196.61" r="0.8"/><circle cx="292.26" cy="196.31" r="0.8"/><circle cx="293.73" cy="196.65" r="0.8"/><circle cx="295.37" cy="196.37" r="0.8"/><circle cx="296.19" cy="196.58" r="0.8"/><circle cx="297.18" cy="196.51" r="0.8"/><circle cx="298.80" cy="196.76" r="0.8"/><circle cx="299.29" cy="196.23" r="0.8"/><circle cx="300.51" cy="196.40" r="0.8"/><circle cx="301.52" cy="196.69" r="0.8"/><circle cx="302.20" cy="196.42" r="0.8"/><circle cx="303.33" cy="196.62" r="0.8"/><circle cx="288.48" cy="197.58" r="0.8"/><circle cx="289.20" cy="197.68" r="0.8"/><circle cx="290.46" cy="197.21" r="0.8"/><circle cx="291.22" cy="197.82" r="0.8"/><circle cx="292.35" cy="197.69" r="0.8"/><circle cx="293.22" cy="197.20" r="0.8"/><circle cx="294.52" cy="197.73" r="0.8"/><circle cx="295.27" cy="197.69" r="0.8"/><circle cx="296.39" cy="197.24" r="0.8"/><circle cx="297.83" cy="197.23" r="0.8"/><circle cx="298.67" cy="197.77" r="0.8"/><circle cx="300.82" cy="197.57" r="0.8"/><circle cx="301.48" cy="197.65" r="0.8"/><circle cx="302.24" cy="197.29" r="0.8"/><circle cx="287.55" cy="198.16" r="0.8"/><circle cx="288.57" cy="198.78" r="0.8"/><circle cx="290.74" cy="198.72" r="0.8"/><circle cx="291.41" cy="198.41" r="0.8"/><circle cx="292.41" cy="198.23" r="0.8"/><circle cx="293.79" cy="198.44" r="0.8"/><circle cx="294.77" cy="198.68" r="0.8"/><circle cx="295.79" cy="198.71" r="0.8"/><circle cx="297.68" cy="198.72" r="0.8"/><circle cx="298.61" cy="198.42" r="0.8"/><circle cx="299.24" cy="198.53" r="0.8"/><circle cx="300.72" cy="198.39" r="0.8"/><circle cx="301.74" cy="198.77" r="0.8"/><circle cx="302.81" cy="198.67" r="0.8"/><circle cx="303.61" cy="198.18" r="0.8"/><circle cx="288.82" cy="199.37" r="0.8"/><circle cx="289.78" cy="199.48" r="0.8"/><circle cx="291.37" cy="199.76" r="0.8"/><circle cx="292.22" cy="199.56" r="0.8"/><circle cx="293.51" cy="199.49" r="0.8"/><circle cx="294.77" cy="199.62" r="0.8"/><circle cx="295.40" cy="199.40" r="0.8"/><circle cx="297.24" cy="199.79" r="0.8"/><circle cx="298.56" cy="199.45" r="0.8"/><circle cx="299.45" cy="199.21" r="0.8"/><circle cx="300.72" cy="199.70" r="0.8"/><circle cx="301.31" cy="199.67" r="0.8"/><circle cx="302.30" cy="199.77" r="0.8"/><circle cx="290.68" cy="200.76" r="0.8"/><circle cx="291.80" cy="200.30" r="0.8"/><circle cx="292.50" cy="200.78" r="0.8"/><circle cx="295.80" cy="200.54" r="0.8"/><circle cx="296.59" cy="200.71" r="0.8"/><circle cx="297.57" cy="200.33" r="0.8"/><circle cx="298.44" cy="200.51" r="0.8"/><circle cx="299.21" cy="200.15" r="0.8"/><circle cx="300.65" cy="200.67" r="0.8"/><circle cx="301.33" cy="200.51" r="0.8"/><circle cx="302.57" cy="200.78" r="0.8"/><circle cx="303.56" cy="200.65" r="0.8"/><polyline points="287.00,192.00 296.00,199.50" fill="none" stroke="#fff" stroke-width="0.7" stroke-linecap="round" stroke-linejoin="round"/><polyline points="292.00,191.50 300.00,197.50" fill="none" stroke="#fff" stroke-width="0.6" stroke-linecap="round" stroke-linejoin="round"/></g><rect x="229.1" y="162.9" width="78.30" height="39.70" fill="none" stroke="#9a9a9a" stroke-width="1"/><line x1="226.50" y1="163.3" x2="229.1" y2="163.3" stroke="#333" stroke-width="0.9"/><line x1="226.50" y1="172.8" x2="229.1" y2="172.8" stroke="#333" stroke-width="0.9"/><line x1="226.50" y1="182.4" x2="229.1" y2="182.4" stroke="#333" stroke-width="0.9"/><line x1="226.50" y1="192.0" x2="229.1" y2="192.0" stroke="#333" stroke-width="0.9"/><line x1="226.50" y1="201.6" x2="229.1" y2="201.6" stroke="#333" stroke-width="0.9"/><line x1="232.6" y1="202.6" x2="232.6" y2="205.20" stroke="#333" stroke-width="0.9"/><line x1="251.3" y1="202.6" x2="251.3" y2="205.20" stroke="#333" stroke-width="0.9"/><line x1="270.0" y1="202.6" x2="270.0" y2="205.20" stroke="#333" stroke-width="0.9"/><line x1="288.6" y1="202.6" x2="288.6" y2="205.20" stroke="#333" stroke-width="0.9"/><line x1="307.0" y1="202.6" x2="307.0" y2="205.20" stroke="#333" stroke-width="0.9"/><g style="font-family:&quot;Liberation Sans&quot;,sans-serif;font-size:8.5px" fill="#5c5c5c" stroke="#5c5c5c" stroke-width="0.08"><text x="225.0" y="166.30" text-anchor="end" textLength="17.20" lengthAdjust="spacingAndGlyphs">2000</text><text x="225.0" y="175.80" text-anchor="end" textLength="17.20" lengthAdjust="spacingAndGlyphs">1990</text><text x="225.0" y="185.40" text-anchor="end" textLength="17.20" lengthAdjust="spacingAndGlyphs">1980</text><text x="225.0" y="195.00" text-anchor="end" textLength="17.20" lengthAdjust="spacingAndGlyphs">1970</text><text x="225.0" y="204.60" text-anchor="end" textLength="17.20" lengthAdjust="spacingAndGlyphs">1960</text><text x="232.6" y="213.40" text-anchor="middle" textLength="4.30" lengthAdjust="spacingAndGlyphs">0</text><text x="251.3" y="213.40" text-anchor="middle" textLength="8.60" lengthAdjust="spacingAndGlyphs">20</text><text x="270.0" y="213.40" text-anchor="middle" textLength="8.60" lengthAdjust="spacingAndGlyphs">40</text><text x="288.6" y="213.40" text-anchor="middle" textLength="8.60" lengthAdjust="spacingAndGlyphs">60</text><text x="307.0" y="213.40" text-anchor="middle" textLength="8.60" lengthAdjust="spacingAndGlyphs">80</text></g><text transform="translate(202.85,182.80) rotate(-90)" x="0" y="0" text-anchor="middle" textLength="41.0" lengthAdjust="spacingAndGlyphs" style="font-family:&quot;Liberation Sans&quot;,sans-serif;font-size:10.3px" fill="#1a1a1a">Elevation</text><text x="268.7" y="225.00" text-anchor="middle" style="font-family:&quot;Liberation Sans&quot;,sans-serif;font-size:10.4px" fill="#000">X</text><rect x="322" y="163.4" width="11.00" height="53.60" fill="url(#cE)"/><g style="font-family:&quot;Liberation Sans&quot;,sans-serif;font-size:8.7px" fill="#1a1a1a" stroke="#1a1a1a" stroke-width="0.08"><text x="338.0" y="178.60" textLength="17.60" lengthAdjust="spacingAndGlyphs">1990</text><text x="338.0" y="192.20" textLength="17.60" lengthAdjust="spacingAndGlyphs">1980</text><text x="338.0" y="206.00" textLength="17.60" lengthAdjust="spacingAndGlyphs">1970</text><text x="338.0" y="219.80" textLength="17.60" lengthAdjust="spacingAndGlyphs">1960</text></g><text x="322.4" y="157.00" style="font-family:&quot;Liberation Sans&quot;,sans-serif;font-size:10.4px" fill="#000">Z</text><text x="426.4" y="137.7" textLength="82.6" lengthAdjust="spacingAndGlyphs" style="font-family:&quot;Liberation Serif&quot;,serif;font-size:11.6px" fill="#000">(<tspan font-weight="bold">f</tspan>) CS ratio = 0.04</text><line x1="431.60" y1="159.7" x2="431.60" y2="204.3" stroke="#f2f2f2" stroke-width="0.6"/><line x1="450.35" y1="159.7" x2="450.35" y2="204.3" stroke="#f2f2f2" stroke-width="0.6"/><line x1="469.00" y1="159.7" x2="469.00" y2="204.3" stroke="#f2f2f2" stroke-width="0.6"/><line x1="487.70" y1="159.7" x2="487.70" y2="204.3" stroke="#f2f2f2" stroke-width="0.6"/><line x1="419.4" y1="168.75" x2="496.8" y2="168.75" stroke="#f2f2f2" stroke-width="0.6"/><line x1="419.4" y1="177.85" x2="496.8" y2="177.85" stroke="#f2f2f2" stroke-width="0.6"/><line x1="419.4" y1="187.00" x2="496.8" y2="187.00" stroke="#f2f2f2" stroke-width="0.6"/><line x1="419.4" y1="196.15" x2="496.8" y2="196.15" stroke="#f2f2f2" stroke-width="0.6"/><line x1="422.10" y1="159.7" x2="422.10" y2="204.3" stroke="#e6e6e6" stroke-width="0.8"/><line x1="441.10" y1="159.7" x2="441.10" y2="204.3" stroke="#e6e6e6" stroke-width="0.8"/><line x1="459.60" y1="159.7" x2="459.60" y2="204.3" stroke="#e6e6e6" stroke-width="0.8"/><line x1="478.40" y1="159.7" x2="478.40" y2="204.3" stroke="#e6e6e6" stroke-width="0.8"/><line x1="419.4" y1="164.20" x2="496.8" y2="164.20" stroke="#e6e6e6" stroke-width="0.8"/><line x1="419.4" y1="173.30" x2="496.8" y2="173.30" stroke="#e6e6e6" stroke-width="0.8"/><line x1="419.4" y1="182.40" x2="496.8" y2="182.40" stroke="#e6e6e6" stroke-width="0.8"/><line x1="419.4" y1="191.60" x2="496.8" y2="191.60" stroke="#e6e6e6" stroke-width="0.8"/><line x1="419.4" y1="200.70" x2="496.8" y2="200.70" stroke="#e6e6e6" stroke-width="0.8"/><g clip-path="url(#kF)" fill="url(#gF)" stroke="none"><polygon points="422.00,188.00 422.00,161.50 422.80,160.60 424.00,161.00 425.00,163.00 425.60,167.00 426.30,171.00 427.20,167.00 428.20,162.50 428.90,161.40 430.00,162.80 433.00,164.30 436.00,165.80 438.00,166.80 439.40,168.20 440.10,170.00 440.10,179.40 444.00,180.00 446.80,180.90 450.00,181.60 454.30,182.30 461.70,183.10 469.20,182.30 476.60,182.30 493.80,182.30 493.80,192.00 493.80,201.70 490.00,199.50 487.00,198.00 483.00,197.00 479.60,195.80 476.00,193.00 472.20,191.30 461.70,190.50 446.80,189.00 440.00,189.00 430.00,189.00 422.30,189.00"/><g fill="#fff"><circle cx="480.71" cy="188.83" r="0.55"/><circle cx="478.66" cy="184.00" r="0.55"/><circle cx="485.43" cy="191.18" r="0.55"/><circle cx="464.46" cy="181.95" r="0.55"/><circle cx="444.69" cy="189.77" r="0.55"/><circle cx="476.91" cy="182.56" r="0.55"/><circle cx="465.38" cy="188.03" r="0.55"/><circle cx="493.87" cy="184.70" r="0.55"/><circle cx="481.63" cy="183.70" r="0.55"/><circle cx="451.54" cy="182.77" r="0.55"/><circle cx="462.74" cy="187.80" r="0.55"/><circle cx="457.07" cy="182.78" r="0.55"/><circle cx="452.58" cy="181.93" r="0.55"/><circle cx="451.24" cy="184.47" r="0.55"/><circle cx="467.74" cy="183.02" r="0.55"/><circle cx="466.42" cy="185.84" r="0.55"/><circle cx="492.57" cy="186.35" r="0.55"/><circle cx="491.08" cy="186.19" r="0.55"/><circle cx="451.49" cy="187.51" r="0.55"/><circle cx="448.67" cy="182.86" r="0.55"/><circle cx="444.88" cy="188.71" r="0.55"/><circle cx="492.25" cy="185.44" r="0.55"/><circle cx="459.77" cy="185.68" r="0.55"/><circle cx="459.66" cy="188.60" r="0.55"/><circle cx="461.77" cy="182.68" r="0.55"/><circle cx="486.81" cy="187.30" r="0.55"/><circle cx="479.61" cy="184.90" r="0.55"/><circle cx="474.39" cy="191.12" r="0.55"/><circle cx="462.29" cy="185.76" r="0.55"/><circle cx="456.81" cy="187.10" r="0.55"/><circle cx="476.13" cy="189.09" r="0.55"/><circle cx="491.31" cy="182.60" r="0.55"/><circle cx="460.39" cy="190.37" r="0.55"/><circle cx="482.92" cy="187.49" r="0.55"/><circle cx="476.89" cy="184.74" r="0.55"/><circle cx="491.08" cy="187.04" r="0.55"/><circle cx="462.33" cy="183.01" r="0.55"/><circle cx="458.13" cy="186.28" r="0.55"/><circle cx="467.27" cy="185.00" r="0.55"/><circle cx="488.44" cy="184.85" r="0.55"/><circle cx="474.88" cy="186.25" r="0.55"/><circle cx="458.63" cy="185.26" r="0.55"/><circle cx="473.28" cy="189.65" r="0.55"/><circle cx="454.81" cy="185.08" r="0.55"/><circle cx="461.55" cy="184.99" r="0.55"/><circle cx="489.39" cy="186.93" r="0.55"/><circle cx="455.62" cy="184.66" r="0.55"/><circle cx="484.54" cy="182.76" r="0.55"/><circle cx="451.24" cy="181.65" r="0.55"/><circle cx="483.70" cy="182.62" r="0.55"/><circle cx="453.08" cy="181.63" r="0.55"/><circle cx="454.98" cy="189.07" r="0.55"/><circle cx="479.17" cy="191.01" r="0.55"/><circle cx="491.19" cy="187.06" r="0.55"/><circle cx="490.03" cy="185.77" r="0.55"/><circle cx="451.23" cy="189.23" r="0.55"/><circle cx="486.51" cy="185.24" r="0.55"/><circle cx="480.94" cy="187.57" r="0.55"/><circle cx="443.97" cy="182.37" r="0.55"/><circle cx="442.16" cy="188.79" r="0.55"/></g><g fill="#fff"><circle cx="485.12" cy="193.01" r="0.55"/><circle cx="493.27" cy="195.25" r="0.55"/><circle cx="493.50" cy="195.91" r="0.55"/><circle cx="479.38" cy="194.28" r="0.55"/><circle cx="493.88" cy="198.35" r="0.55"/><circle cx="474.20" cy="193.62" r="0.55"/><circle cx="487.69" cy="192.53" r="0.55"/><circle cx="488.98" cy="197.18" r="0.55"/><circle cx="484.42" cy="195.03" r="0.55"/><circle cx="483.46" cy="193.28" r="0.55"/><circle cx="486.58" cy="192.04" r="0.55"/><circle cx="489.25" cy="199.07" r="0.55"/><circle cx="482.36" cy="192.05" r="0.55"/><circle cx="489.15" cy="195.73" r="0.55"/><circle cx="486.06" cy="197.13" r="0.55"/><circle cx="487.48" cy="195.68" r="0.55"/><circle cx="493.04" cy="200.60" r="0.55"/><circle cx="492.29" cy="197.54" r="0.55"/><circle cx="489.01" cy="199.09" r="0.55"/><circle cx="486.51" cy="194.86" r="0.55"/><circle cx="488.18" cy="194.36" r="0.55"/><circle cx="484.66" cy="193.43" r="0.55"/><circle cx="490.58" cy="196.40" r="0.55"/><circle cx="488.17" cy="193.34" r="0.55"/><circle cx="488.27" cy="197.16" r="0.55"/></g><g fill="#fff"><circle cx="439.24" cy="186.11" r="0.5"/><circle cx="430.12" cy="188.53" r="0.5"/><circle cx="423.66" cy="187.44" r="0.5"/><circle cx="423.96" cy="183.94" r="0.5"/><circle cx="424.16" cy="188.10" r="0.5"/><circle cx="430.39" cy="187.08" r="0.5"/><circle cx="426.88" cy="187.11" r="0.5"/><circle cx="434.33" cy="182.68" r="0.5"/><circle cx="431.38" cy="187.05" r="0.5"/><circle cx="426.08" cy="186.58" r="0.5"/></g><polyline points="426.50,176.50 427.00,171.00 430.00,176.50 431.80,170.50" fill="none" stroke="#fff" stroke-width="0.8" stroke-linecap="round" stroke-linejoin="round"/><circle cx="427.00" cy="190.04" r="0.85"/><circle cx="438.56" cy="191.64" r="0.85"/><circle cx="439.96" cy="190.19" r="0.85"/><circle cx="432.29" cy="191.26" r="0.85"/><circle cx="435.65" cy="190.28" r="0.85"/><circle cx="437.54" cy="190.12" r="0.85"/><circle cx="439.10" cy="190.32" r="0.85"/><circle cx="424.13" cy="191.10" r="0.85"/><circle cx="424.61" cy="190.90" r="0.85"/><circle cx="422.96" cy="191.77" r="0.85"/><circle cx="431.74" cy="191.07" r="0.85"/><circle cx="424.36" cy="190.78" r="0.85"/><circle cx="428.78" cy="189.70" r="0.85"/><circle cx="436.67" cy="189.09" r="0.85"/><circle cx="466.43" cy="191.73" r="0.7"/><circle cx="446.83" cy="190.66" r="0.7"/><circle cx="457.26" cy="191.30" r="0.7"/><circle cx="463.50" cy="190.36" r="0.7"/><circle cx="448.88" cy="189.96" r="0.7"/><circle cx="458.00" cy="190.34" r="0.7"/></g><rect x="419.4" y="159.7" width="77.40" height="44.60" fill="none" stroke="#9a9a9a" stroke-width="1"/><line x1="416.80" y1="164.2" x2="419.4" y2="164.2" stroke="#333" stroke-width="0.9"/><line x1="416.80" y1="173.3" x2="419.4" y2="173.3" stroke="#333" stroke-width="0.9"/><line x1="416.80" y1="182.4" x2="419.4" y2="182.4" stroke="#333" stroke-width="0.9"/><line x1="416.80" y1="191.6" x2="419.4" y2="191.6" stroke="#333" stroke-width="0.9"/><line x1="416.80" y1="200.7" x2="419.4" y2="200.7" stroke="#333" stroke-width="0.9"/><line x1="422.1" y1="204.3" x2="422.1" y2="206.90" stroke="#333" stroke-width="0.9"/><line x1="441.1" y1="204.3" x2="441.1" y2="206.90" stroke="#333" stroke-width="0.9"/><line x1="459.6" y1="204.3" x2="459.6" y2="206.90" stroke="#333" stroke-width="0.9"/><line x1="478.4" y1="204.3" x2="478.4" y2="206.90" stroke="#333" stroke-width="0.9"/><line x1="497.0" y1="204.3" x2="497.0" y2="206.90" stroke="#333" stroke-width="0.9"/><g style="font-family:&quot;Liberation Sans&quot;,sans-serif;font-size:8.5px" fill="#5c5c5c" stroke="#5c5c5c" stroke-width="0.08"><text x="415.0" y="167.20" text-anchor="end" textLength="17.20" lengthAdjust="spacingAndGlyphs">1980</text><text x="415.0" y="176.30" text-anchor="end" textLength="17.20" lengthAdjust="spacingAndGlyphs">1970</text><text x="415.0" y="185.40" text-anchor="end" textLength="17.20" lengthAdjust="spacingAndGlyphs">1960</text><text x="415.0" y="194.60" text-anchor="end" textLength="17.20" lengthAdjust="spacingAndGlyphs">1950</text><text x="415.0" y="203.70" text-anchor="end" textLength="17.20" lengthAdjust="spacingAndGlyphs">1940</text><text x="422.1" y="215.20" text-anchor="middle" textLength="4.30" lengthAdjust="spacingAndGlyphs">0</text><text x="441.1" y="215.20" text-anchor="middle" textLength="8.60" lengthAdjust="spacingAndGlyphs">20</text><text x="459.6" y="215.20" text-anchor="middle" textLength="8.60" lengthAdjust="spacingAndGlyphs">40</text><text x="478.4" y="215.20" text-anchor="middle" textLength="8.60" lengthAdjust="spacingAndGlyphs">60</text><text x="497.0" y="215.20" text-anchor="middle" textLength="8.60" lengthAdjust="spacingAndGlyphs">80</text></g><text transform="translate(392.45,182.40) rotate(-90)" x="0" y="0" text-anchor="middle" textLength="40.2" lengthAdjust="spacingAndGlyphs" style="font-family:&quot;Liberation Sans&quot;,sans-serif;font-size:10.3px" fill="#1a1a1a">Elevation</text><text x="458" y="227.00" text-anchor="middle" style="font-family:&quot;Liberation Sans&quot;,sans-serif;font-size:10.4px" fill="#000">X</text><rect x="512" y="163" width="10.40" height="52.60" fill="url(#cF)"/><g style="font-family:&quot;Liberation Sans&quot;,sans-serif;font-size:8.7px" fill="#1a1a1a" stroke="#1a1a1a" stroke-width="0.08"><text x="528.0" y="169.00" textLength="17.60" lengthAdjust="spacingAndGlyphs">1980</text><text x="528.0" y="180.50" textLength="17.60" lengthAdjust="spacingAndGlyphs">1970</text><text x="528.0" y="192.00" textLength="17.60" lengthAdjust="spacingAndGlyphs">1960</text><text x="528.0" y="203.50" textLength="17.60" lengthAdjust="spacingAndGlyphs">1950</text><text x="528.0" y="215.00" textLength="17.60" lengthAdjust="spacingAndGlyphs">1940</text></g><text x="512" y="157.60" style="font-family:&quot;Liberation Sans&quot;,sans-serif;font-size:10.4px" fill="#000">Z</text><text x="61" y="262.20000000000005" textLength="54.5" lengthAdjust="spacingAndGlyphs" style="font-family:&quot;Liberation Serif&quot;,serif;font-size:11.6px" fill="#000">(<tspan font-weight="bold">a</tspan>) Original</text><line x1="52.90" y1="292.5" x2="52.90" y2="317.9" stroke="#f2f2f2" stroke-width="0.6"/><line x1="72.55" y1="292.5" x2="72.55" y2="317.9" stroke="#f2f2f2" stroke-width="0.6"/><line x1="92.30" y1="292.5" x2="92.30" y2="317.9" stroke="#f2f2f2" stroke-width="0.6"/><line x1="111.80" y1="292.5" x2="111.80" y2="317.9" stroke="#f2f2f2" stroke-width="0.6"/><line x1="40.3" y1="295.10" x2="117.5" y2="295.10" stroke="#f2f2f2" stroke-width="0.6"/><line x1="40.3" y1="304.70" x2="117.5" y2="304.70" stroke="#f2f2f2" stroke-width="0.6"/><line x1="40.3" y1="314.30" x2="117.5" y2="314.30" stroke="#f2f2f2" stroke-width="0.6"/><line x1="43.20" y1="292.5" x2="43.20" y2="317.9" stroke="#e6e6e6" stroke-width="0.8"/><line x1="62.60" y1="292.5" x2="62.60" y2="317.9" stroke="#e6e6e6" stroke-width="0.8"/><line x1="82.50" y1="292.5" x2="82.50" y2="317.9" stroke="#e6e6e6" stroke-width="0.8"/><line x1="102.10" y1="292.5" x2="102.10" y2="317.9" stroke="#e6e6e6" stroke-width="0.8"/><line x1="40.3" y1="299.90" x2="117.5" y2="299.90" stroke="#e6e6e6" stroke-width="0.8"/><line x1="40.3" y1="309.50" x2="117.5" y2="309.50" stroke="#e6e6e6" stroke-width="0.8"/><g clip-path="url(#kG)" fill="url(#gG)" stroke="none"><circle cx="45.79" cy="300.43" r="0.84"/><circle cx="46.61" cy="300.52" r="0.84"/><circle cx="48.27" cy="300.59" r="0.84"/><circle cx="45.84" cy="301.39" r="0.84"/><circle cx="47.85" cy="301.66" r="0.84"/><circle cx="44.98" cy="302.27" r="0.84"/><circle cx="46.51" cy="302.49" r="0.84"/><circle cx="47.96" cy="302.18" r="0.84"/><circle cx="45.90" cy="303.20" r="0.84"/><circle cx="46.80" cy="303.88" r="0.84"/><circle cx="48.00" cy="303.21" r="0.84"/><circle cx="44.88" cy="304.37" r="0.84"/><circle cx="47.12" cy="304.66" r="0.84"/><circle cx="48.28" cy="304.58" r="0.84"/><circle cx="48.75" cy="304.88" r="0.84"/><circle cx="44.82" cy="305.59" r="0.84"/><circle cx="45.65" cy="305.86" r="0.84"/><circle cx="43.66" cy="306.61" r="0.84"/><circle cx="44.69" cy="306.75" r="0.84"/><circle cx="46.60" cy="306.61" r="0.84"/><circle cx="48.01" cy="307.06" r="0.84"/><circle cx="49.05" cy="306.90" r="0.84"/><circle cx="43.49" cy="307.98" r="0.84"/><circle cx="44.34" cy="307.90" r="0.84"/><circle cx="45.93" cy="307.77" r="0.84"/><circle cx="46.67" cy="307.66" r="0.84"/><circle cx="47.87" cy="307.83" r="0.84"/><circle cx="48.86" cy="308.07" r="0.84"/><circle cx="43.52" cy="309.05" r="0.84"/><circle cx="45.53" cy="308.75" r="0.84"/><circle cx="46.73" cy="308.76" r="0.84"/><circle cx="47.90" cy="308.92" r="0.84"/><circle cx="49.36" cy="308.87" r="0.84"/><circle cx="43.41" cy="310.03" r="0.84"/><circle cx="45.70" cy="309.92" r="0.84"/><circle cx="46.59" cy="310.39" r="0.84"/><circle cx="47.71" cy="310.24" r="0.84"/><circle cx="49.05" cy="310.03" r="0.84"/><circle cx="43.72" cy="311.40" r="0.84"/><circle cx="44.42" cy="311.37" r="0.84"/><circle cx="45.86" cy="310.96" r="0.84"/><circle cx="47.76" cy="311.18" r="0.84"/><circle cx="48.76" cy="311.38" r="0.84"/><circle cx="44.49" cy="312.47" r="0.84"/><circle cx="45.68" cy="312.48" r="0.84"/><circle cx="46.61" cy="312.05" r="0.84"/><circle cx="48.29" cy="312.64" r="0.84"/><circle cx="49.05" cy="312.34" r="0.84"/><circle cx="43.67" cy="313.45" r="0.84"/><circle cx="45.73" cy="313.20" r="0.84"/><circle cx="46.59" cy="313.58" r="0.84"/><circle cx="54.11" cy="299.74" r="0.84"/><circle cx="54.96" cy="300.00" r="0.84"/><circle cx="54.81" cy="301.21" r="0.84"/><circle cx="54.21" cy="302.40" r="0.84"/><circle cx="55.34" cy="302.25" r="0.84"/><circle cx="53.18" cy="303.25" r="0.84"/><circle cx="54.84" cy="303.16" r="0.84"/><circle cx="52.91" cy="304.06" r="0.84"/><circle cx="53.95" cy="304.25" r="0.84"/><circle cx="55.16" cy="304.03" r="0.84"/><circle cx="53.05" cy="305.36" r="0.84"/><circle cx="54.25" cy="305.36" r="0.84"/><circle cx="54.90" cy="305.28" r="0.84"/><circle cx="53.81" cy="306.35" r="0.84"/><circle cx="55.21" cy="306.25" r="0.84"/><circle cx="52.94" cy="307.69" r="0.84"/><circle cx="53.64" cy="307.45" r="0.84"/><circle cx="55.37" cy="307.57" r="0.84"/><circle cx="52.74" cy="308.38" r="0.84"/><circle cx="54.12" cy="308.64" r="0.84"/><circle cx="54.89" cy="308.64" r="0.84"/><circle cx="56.43" cy="308.89" r="0.84"/><circle cx="53.89" cy="309.62" r="0.84"/><circle cx="55.91" cy="309.60" r="0.84"/><circle cx="55.30" cy="311.12" r="0.84"/><circle cx="55.93" cy="311.04" r="0.84"/><circle cx="52.58" cy="312.23" r="0.84"/><circle cx="53.88" cy="312.02" r="0.84"/><circle cx="54.71" cy="311.87" r="0.84"/><circle cx="55.81" cy="311.86" r="0.84"/><circle cx="52.73" cy="313.18" r="0.84"/><circle cx="53.73" cy="312.71" r="0.84"/><circle cx="55.13" cy="312.91" r="0.84"/><circle cx="56.40" cy="313.34" r="0.84"/><circle cx="57.85" cy="305.58" r="0.7"/><circle cx="58.81" cy="305.18" r="0.7"/><circle cx="57.30" cy="305.19" r="0.7"/><circle cx="67.47" cy="294.31" r="0.84"/><circle cx="68.43" cy="294.46" r="0.84"/><circle cx="66.73" cy="295.31" r="0.84"/><circle cx="68.72" cy="295.15" r="0.84"/><circle cx="66.80" cy="296.25" r="0.84"/><circle cx="67.55" cy="296.33" r="0.84"/><circle cx="68.79" cy="296.30" r="0.84"/><circle cx="65.38" cy="297.31" r="0.84"/><circle cx="66.67" cy="297.51" r="0.84"/><circle cx="67.46" cy="297.75" r="0.84"/><circle cx="68.98" cy="297.46" r="0.84"/><circle cx="69.52" cy="297.35" r="0.84"/><circle cx="65.59" cy="298.48" r="0.84"/><circle cx="66.30" cy="298.73" r="0.84"/><circle cx="67.66" cy="298.52" r="0.84"/><circle cx="68.49" cy="298.64" r="0.84"/><circle cx="69.59" cy="298.52" r="0.84"/><circle cx="64.58" cy="299.80" r="0.84"/><circle cx="65.35" cy="299.71" r="0.84"/><circle cx="67.76" cy="299.47" r="0.84"/><circle cx="68.42" cy="300.05" r="0.84"/><circle cx="64.62" cy="300.81" r="0.84"/><circle cx="65.58" cy="300.87" r="0.84"/><circle cx="66.34" cy="301.13" r="0.84"/><circle cx="67.32" cy="300.74" r="0.84"/><circle cx="68.45" cy="300.94" r="0.84"/><circle cx="69.61" cy="300.70" r="0.84"/><circle cx="63.59" cy="301.91" r="0.84"/><circle cx="64.20" cy="302.25" r="0.84"/><circle cx="65.61" cy="301.76" r="0.84"/><circle cx="66.85" cy="301.99" r="0.84"/><circle cx="67.90" cy="301.70" r="0.84"/><circle cx="68.72" cy="302.15" r="0.84"/><circle cx="69.64" cy="302.27" r="0.84"/><circle cx="63.39" cy="302.98" r="0.84"/><circle cx="64.15" cy="303.37" r="0.84"/><circle cx="65.46" cy="303.05" r="0.84"/><circle cx="66.73" cy="303.22" r="0.84"/><circle cx="67.55" cy="302.85" r="0.84"/><circle cx="68.91" cy="303.16" r="0.84"/><circle cx="69.87" cy="302.81" r="0.84"/><circle cx="63.25" cy="304.35" r="0.84"/><circle cx="64.51" cy="304.05" r="0.84"/><circle cx="65.17" cy="303.99" r="0.84"/><circle cx="66.54" cy="304.06" r="0.84"/><circle cx="67.45" cy="304.11" r="0.84"/><circle cx="68.96" cy="303.98" r="0.84"/><circle cx="69.89" cy="304.22" r="0.84"/><circle cx="70.69" cy="304.34" r="0.84"/><circle cx="63.50" cy="305.45" r="0.84"/><circle cx="64.57" cy="305.21" r="0.84"/><circle cx="65.77" cy="305.03" r="0.84"/><circle cx="66.49" cy="305.26" r="0.84"/><circle cx="67.45" cy="305.51" r="0.84"/><circle cx="68.50" cy="305.03" r="0.84"/><circle cx="69.63" cy="305.23" r="0.84"/><circle cx="70.91" cy="305.25" r="0.84"/><circle cx="64.03" cy="306.54" r="0.84"/><circle cx="65.48" cy="306.15" r="0.84"/><circle cx="66.41" cy="306.51" r="0.84"/><circle cx="67.70" cy="306.45" r="0.84"/><circle cx="68.74" cy="306.05" r="0.84"/><circle cx="69.98" cy="306.11" r="0.84"/><circle cx="63.51" cy="307.14" r="0.84"/><circle cx="64.06" cy="307.28" r="0.84"/><circle cx="65.44" cy="307.28" r="0.84"/><circle cx="66.52" cy="307.36" r="0.84"/><circle cx="67.81" cy="307.18" r="0.84"/><circle cx="68.41" cy="307.33" r="0.84"/><circle cx="69.99" cy="307.65" r="0.84"/><circle cx="62.93" cy="308.73" r="0.84"/><circle cx="64.65" cy="308.47" r="0.84"/><circle cx="65.15" cy="308.86" r="0.84"/><circle cx="66.51" cy="308.51" r="0.84"/><circle cx="67.88" cy="308.53" r="0.84"/><circle cx="68.68" cy="308.82" r="0.84"/><circle cx="69.96" cy="308.59" r="0.84"/><circle cx="71.00" cy="308.37" r="0.84"/><circle cx="63.51" cy="309.36" r="0.84"/><circle cx="64.62" cy="309.98" r="0.84"/><circle cx="65.54" cy="309.74" r="0.84"/><circle cx="66.53" cy="309.39" r="0.84"/><circle cx="67.80" cy="309.81" r="0.84"/><circle cx="68.85" cy="309.76" r="0.84"/><circle cx="69.52" cy="309.61" r="0.84"/><circle cx="71.02" cy="309.54" r="0.84"/><circle cx="63.37" cy="310.60" r="0.84"/><circle cx="64.21" cy="310.78" r="0.84"/><circle cx="65.18" cy="310.91" r="0.84"/><circle cx="66.86" cy="310.42" r="0.84"/><circle cx="67.56" cy="310.53" r="0.84"/><circle cx="68.75" cy="310.69" r="0.84"/><circle cx="69.87" cy="310.61" r="0.84"/><circle cx="63.20" cy="311.66" r="0.84"/><circle cx="65.55" cy="312.08" r="0.84"/><circle cx="66.73" cy="311.70" r="0.84"/><circle cx="67.33" cy="311.81" r="0.84"/><circle cx="68.54" cy="311.81" r="0.84"/><circle cx="69.69" cy="311.61" r="0.84"/><circle cx="70.90" cy="312.16" r="0.84"/><circle cx="64.39" cy="312.89" r="0.84"/><circle cx="65.41" cy="313.24" r="0.84"/><circle cx="66.61" cy="313.10" r="0.84"/><circle cx="67.95" cy="312.68" r="0.84"/><circle cx="68.90" cy="312.61" r="0.84"/><circle cx="69.59" cy="312.93" r="0.84"/><circle cx="70.71" cy="312.76" r="0.84"/><circle cx="82.60" cy="298.97" r="0.84"/><circle cx="83.10" cy="299.57" r="0.84"/><circle cx="82.71" cy="300.79" r="0.84"/><circle cx="82.79" cy="302.32" r="0.84"/><circle cx="83.07" cy="303.23" r="0.84"/><circle cx="82.64" cy="304.22" r="0.84"/><circle cx="83.67" cy="304.36" r="0.84"/><circle cx="83.90" cy="305.26" r="0.84"/><circle cx="81.80" cy="306.46" r="0.84"/><circle cx="83.16" cy="306.78" r="0.84"/><circle cx="82.06" cy="307.78" r="0.84"/><circle cx="82.69" cy="307.75" r="0.84"/><circle cx="83.82" cy="307.46" r="0.84"/><circle cx="81.52" cy="308.41" r="0.84"/><circle cx="82.65" cy="308.54" r="0.84"/><circle cx="83.71" cy="308.80" r="0.84"/><circle cx="81.61" cy="309.59" r="0.84"/><circle cx="82.51" cy="309.70" r="0.84"/><circle cx="83.61" cy="310.00" r="0.84"/><circle cx="84.70" cy="310.07" r="0.84"/><circle cx="81.58" cy="310.52" r="0.84"/><circle cx="83.00" cy="310.91" r="0.84"/><circle cx="83.77" cy="310.70" r="0.84"/><circle cx="82.09" cy="312.22" r="0.84"/><circle cx="83.09" cy="311.61" r="0.84"/><circle cx="84.17" cy="312.09" r="0.84"/><circle cx="81.59" cy="312.98" r="0.84"/><circle cx="83.00" cy="313.10" r="0.84"/><circle cx="84.04" cy="313.12" r="0.84"/><circle cx="96.35" cy="294.85" r="0.84"/><circle cx="97.46" cy="294.94" r="0.84"/><circle cx="98.22" cy="294.93" r="0.84"/><circle cx="97.36" cy="295.94" r="0.84"/><circle cx="98.58" cy="295.62" r="0.84"/><circle cx="94.77" cy="296.81" r="0.84"/><circle cx="95.98" cy="297.05" r="0.84"/><circle cx="97.03" cy="297.02" r="0.84"/><circle cx="99.23" cy="296.61" r="0.84"/><circle cx="93.99" cy="298.38" r="0.84"/><circle cx="95.01" cy="298.11" r="0.84"/><circle cx="95.97" cy="297.88" r="0.84"/><circle cx="96.85" cy="298.08" r="0.84"/><circle cx="98.24" cy="297.98" r="0.84"/><circle cx="99.51" cy="298.26" r="0.84"/><circle cx="94.19" cy="299.33" r="0.84"/><circle cx="95.21" cy="299.27" r="0.84"/><circle cx="96.34" cy="299.38" r="0.84"/><circle cx="96.97" cy="299.20" r="0.84"/><circle cx="98.11" cy="299.33" r="0.84"/><circle cx="99.23" cy="299.18" r="0.84"/><circle cx="94.14" cy="300.30" r="0.84"/><circle cx="96.02" cy="300.29" r="0.84"/><circle cx="97.48" cy="300.34" r="0.84"/><circle cx="98.34" cy="300.27" r="0.84"/><circle cx="93.01" cy="301.04" r="0.84"/><circle cx="93.52" cy="301.45" r="0.84"/><circle cx="94.77" cy="301.27" r="0.84"/><circle cx="96.19" cy="301.37" r="0.84"/><circle cx="97.03" cy="301.41" r="0.84"/><circle cx="92.67" cy="302.34" r="0.84"/><circle cx="93.62" cy="302.49" r="0.84"/><circle cx="95.25" cy="302.11" r="0.84"/><circle cx="96.05" cy="302.76" r="0.84"/><circle cx="97.39" cy="302.38" r="0.84"/><circle cx="98.55" cy="302.14" r="0.84"/><circle cx="99.11" cy="302.19" r="0.84"/><circle cx="92.89" cy="303.61" r="0.84"/><circle cx="94.06" cy="303.56" r="0.84"/><circle cx="95.17" cy="303.77" r="0.84"/><circle cx="96.36" cy="303.77" r="0.84"/><circle cx="96.80" cy="303.81" r="0.84"/><circle cx="97.97" cy="303.74" r="0.84"/><circle cx="99.44" cy="303.78" r="0.84"/><circle cx="94.08" cy="304.94" r="0.84"/><circle cx="95.08" cy="304.78" r="0.84"/><circle cx="96.10" cy="304.49" r="0.84"/><circle cx="97.18" cy="304.39" r="0.84"/><circle cx="98.52" cy="304.47" r="0.84"/><circle cx="99.47" cy="304.39" r="0.84"/><circle cx="92.94" cy="305.61" r="0.84"/><circle cx="93.70" cy="305.94" r="0.84"/><circle cx="95.17" cy="305.51" r="0.84"/><circle cx="96.85" cy="305.93" r="0.84"/><circle cx="98.37" cy="305.46" r="0.84"/><circle cx="102.27" cy="293.85" r="0.84"/><circle cx="102.33" cy="294.60" r="0.84"/><circle cx="103.65" cy="294.74" r="0.84"/><circle cx="102.28" cy="295.57" r="0.84"/><circle cx="103.74" cy="295.61" r="0.84"/><circle cx="101.59" cy="297.22" r="0.84"/><circle cx="102.19" cy="297.05" r="0.84"/><circle cx="103.85" cy="297.06" r="0.84"/><circle cx="104.66" cy="296.80" r="0.84"/><circle cx="101.33" cy="298.34" r="0.84"/><circle cx="104.98" cy="297.80" r="0.84"/><circle cx="102.71" cy="299.09" r="0.84"/><circle cx="104.89" cy="299.37" r="0.84"/><circle cx="101.58" cy="300.05" r="0.84"/><circle cx="102.43" cy="300.19" r="0.84"/><circle cx="103.76" cy="300.41" r="0.84"/><circle cx="104.98" cy="300.05" r="0.84"/><circle cx="101.29" cy="301.40" r="0.84"/><circle cx="104.56" cy="301.08" r="0.84"/><circle cx="101.36" cy="302.51" r="0.84"/><circle cx="102.79" cy="302.39" r="0.84"/><circle cx="103.49" cy="302.22" r="0.84"/><circle cx="101.38" cy="303.50" r="0.84"/><circle cx="102.32" cy="303.55" r="0.84"/><circle cx="103.89" cy="303.59" r="0.84"/><circle cx="104.34" cy="303.31" r="0.84"/><circle cx="101.55" cy="304.92" r="0.84"/><circle cx="102.65" cy="304.61" r="0.84"/><circle cx="103.57" cy="304.33" r="0.84"/><circle cx="104.77" cy="304.78" r="0.84"/><circle cx="101.64" cy="305.97" r="0.84"/><circle cx="102.15" cy="305.79" r="0.84"/><circle cx="103.36" cy="305.43" r="0.84"/><circle cx="104.32" cy="305.92" r="0.84"/><circle cx="108.48" cy="296.97" r="0.84"/><circle cx="109.35" cy="296.57" r="0.84"/><circle cx="107.01" cy="298.21" r="0.84"/><circle cx="108.30" cy="297.81" r="0.84"/><circle cx="109.39" cy="297.81" r="0.84"/><circle cx="107.27" cy="299.39" r="0.84"/><circle cx="108.49" cy="298.71" r="0.84"/><circle cx="108.92" cy="299.08" r="0.84"/><circle cx="107.25" cy="300.19" r="0.84"/><circle cx="108.14" cy="299.83" r="0.84"/><circle cx="109.05" cy="300.13" r="0.84"/><circle cx="110.18" cy="300.27" r="0.84"/><circle cx="107.15" cy="301.21" r="0.84"/><circle cx="108.27" cy="301.04" r="0.84"/><circle cx="109.32" cy="301.41" r="0.84"/><circle cx="110.22" cy="301.14" r="0.84"/><circle cx="106.94" cy="302.51" r="0.84"/><circle cx="107.92" cy="302.51" r="0.84"/><circle cx="109.43" cy="302.10" r="0.84"/><circle cx="110.18" cy="302.36" r="0.84"/><circle cx="107.32" cy="303.76" r="0.84"/><circle cx="108.32" cy="303.59" r="0.84"/><circle cx="109.08" cy="303.76" r="0.84"/><circle cx="106.93" cy="304.42" r="0.84"/><circle cx="108.10" cy="304.83" r="0.84"/><circle cx="109.49" cy="304.42" r="0.84"/><circle cx="110.63" cy="304.39" r="0.84"/><circle cx="106.78" cy="305.56" r="0.84"/><circle cx="107.93" cy="305.48" r="0.84"/><circle cx="109.21" cy="305.51" r="0.84"/><circle cx="110.54" cy="305.81" r="0.84"/><circle cx="93.04" cy="306.75" r="0.84"/><circle cx="93.83" cy="306.43" r="0.84"/><circle cx="95.22" cy="306.63" r="0.84"/><circle cx="96.35" cy="306.82" r="0.84"/><circle cx="97.29" cy="306.37" r="0.84"/><circle cx="98.48" cy="306.45" r="0.84"/><circle cx="99.47" cy="306.33" r="0.84"/><circle cx="100.40" cy="306.89" r="0.84"/><circle cx="101.70" cy="306.23" r="0.84"/><circle cx="102.38" cy="306.30" r="0.84"/><circle cx="103.52" cy="306.76" r="0.84"/><circle cx="104.94" cy="306.80" r="0.84"/><circle cx="105.75" cy="306.74" r="0.84"/><circle cx="107.35" cy="306.44" r="0.84"/><circle cx="108.47" cy="306.44" r="0.84"/><circle cx="111.48" cy="306.86" r="0.84"/><circle cx="92.47" cy="307.97" r="0.84"/><circle cx="94.05" cy="307.81" r="0.84"/><circle cx="95.08" cy="307.59" r="0.84"/><circle cx="97.45" cy="307.57" r="0.84"/><circle cx="99.57" cy="307.51" r="0.84"/><circle cx="100.12" cy="307.64" r="0.84"/><circle cx="101.80" cy="307.77" r="0.84"/><circle cx="102.98" cy="307.96" r="0.84"/><circle cx="104.99" cy="307.81" r="0.84"/><circle cx="105.61" cy="307.95" r="0.84"/><circle cx="107.12" cy="307.87" r="0.84"/><circle cx="107.82" cy="307.95" r="0.84"/><circle cx="108.93" cy="307.40" r="0.84"/><circle cx="112.30" cy="307.93" r="0.84"/><circle cx="93.06" cy="308.40" r="0.84"/><circle cx="93.54" cy="309.10" r="0.84"/><circle cx="95.27" cy="308.99" r="0.84"/><circle cx="97.29" cy="308.75" r="0.84"/><circle cx="98.00" cy="308.76" r="0.84"/><circle cx="100.71" cy="308.69" r="0.84"/><circle cx="101.37" cy="308.72" r="0.84"/><circle cx="102.70" cy="309.02" r="0.84"/><circle cx="103.76" cy="309.09" r="0.84"/><circle cx="104.51" cy="308.63" r="0.84"/><circle cx="105.69" cy="308.69" r="0.84"/><circle cx="107.34" cy="308.74" r="0.84"/><circle cx="109.41" cy="308.93" r="0.84"/><circle cx="110.51" cy="308.54" r="0.84"/><circle cx="111.52" cy="308.94" r="0.84"/><circle cx="112.44" cy="308.98" r="0.84"/><circle cx="93.65" cy="309.57" r="0.84"/><circle cx="97.35" cy="309.86" r="0.84"/><circle cx="98.54" cy="309.95" r="0.84"/><circle cx="99.41" cy="309.85" r="0.84"/><circle cx="101.29" cy="309.80" r="0.84"/><circle cx="102.60" cy="309.89" r="0.84"/><circle cx="103.67" cy="309.80" r="0.84"/><circle cx="105.18" cy="309.56" r="0.84"/><circle cx="106.11" cy="309.78" r="0.84"/><circle cx="107.11" cy="309.76" r="0.84"/><circle cx="107.81" cy="310.11" r="0.84"/><circle cx="110.33" cy="309.73" r="0.84"/><circle cx="111.72" cy="310.09" r="0.84"/><circle cx="112.38" cy="309.99" r="0.84"/><circle cx="92.67" cy="310.76" r="0.84"/><circle cx="97.22" cy="311.29" r="0.84"/><circle cx="98.22" cy="310.70" r="0.84"/><circle cx="99.51" cy="310.65" r="0.84"/><circle cx="101.53" cy="311.22" r="0.84"/><circle cx="103.47" cy="311.01" r="0.84"/><circle cx="104.67" cy="311.25" r="0.84"/><circle cx="106.86" cy="310.84" r="0.84"/><circle cx="108.03" cy="310.91" r="0.84"/><circle cx="110.50" cy="310.83" r="0.84"/><circle cx="113.72" cy="310.68" r="0.84"/><circle cx="102.21" cy="311.87" r="0.8"/><circle cx="106.76" cy="311.25" r="0.8"/><circle cx="94.68" cy="310.77" r="0.8"/><circle cx="105.21" cy="310.88" r="0.8"/><circle cx="100.12" cy="311.86" r="0.8"/><circle cx="112.01" cy="311.63" r="0.8"/><circle cx="99.09" cy="311.79" r="0.8"/><circle cx="99.51" cy="312.22" r="0.8"/><circle cx="97.12" cy="311.08" r="0.8"/><circle cx="102.77" cy="312.50" r="0.8"/><polyline points="43.00,315.00 46.00,315.80 50.00,316.40 54.00,315.80 57.00,315.40 60.00,314.80 63.00,314.40 66.00,315.70 70.00,316.60 75.00,316.80 80.00,316.00 82.50,314.80 85.00,315.80 90.00,316.40 100.00,316.20 108.00,315.90 114.50,315.40" fill="none" stroke="url(#gG)" stroke-width="2.9" stroke-linecap="round" stroke-linejoin="round"/><circle cx="55.58" cy="312.79" r="0.7"/><circle cx="53.22" cy="312.82" r="0.7"/><circle cx="67.26" cy="313.09" r="0.7"/><circle cx="97.18" cy="313.11" r="0.7"/><circle cx="77.26" cy="313.09" r="0.7"/><circle cx="98.20" cy="313.85" r="0.7"/><circle cx="73.78" cy="313.88" r="0.7"/><circle cx="61.55" cy="313.97" r="0.7"/><circle cx="80.77" cy="313.52" r="0.7"/><circle cx="70.69" cy="312.91" r="0.7"/><circle cx="53.46" cy="313.83" r="0.7"/><circle cx="69.17" cy="313.55" r="0.7"/><circle cx="76.25" cy="313.29" r="0.7"/><circle cx="58.48" cy="312.77" r="0.7"/><circle cx="67.54" cy="313.52" r="0.7"/><circle cx="82.04" cy="312.50" r="0.7"/><circle cx="93.75" cy="313.15" r="0.7"/><circle cx="48.83" cy="312.89" r="0.7"/><circle cx="58.81" cy="313.73" r="0.7"/><circle cx="82.50" cy="312.99" r="0.7"/><circle cx="61.40" cy="312.94" r="0.7"/><circle cx="63.61" cy="313.02" r="0.7"/><circle cx="99.35" cy="313.68" r="0.7"/><circle cx="92.87" cy="313.83" r="0.7"/><circle cx="89.77" cy="312.67" r="0.7"/></g><rect x="40.3" y="292.5" width="77.20" height="25.40" fill="none" stroke="#9a9a9a" stroke-width="1"/><line x1="37.70" y1="299.9" x2="40.3" y2="299.9" stroke="#333" stroke-width="0.9"/><line x1="37.70" y1="309.5" x2="40.3" y2="309.5" stroke="#333" stroke-width="0.9"/><line x1="43.2" y1="317.9" x2="43.2" y2="320.50" stroke="#333" stroke-width="0.9"/><line x1="62.6" y1="317.9" x2="62.6" y2="320.50" stroke="#333" stroke-width="0.9"/><line x1="82.5" y1="317.9" x2="82.5" y2="320.50" stroke="#333" stroke-width="0.9"/><line x1="102.1" y1="317.9" x2="102.1" y2="320.50" stroke="#333" stroke-width="0.9"/><g style="font-family:&quot;Liberation Sans&quot;,sans-serif;font-size:8.5px" fill="#5c5c5c" stroke="#5c5c5c" stroke-width="0.08"><text x="35.6" y="302.90" text-anchor="end" textLength="17.20" lengthAdjust="spacingAndGlyphs">2000</text><text x="35.6" y="312.50" text-anchor="end" textLength="17.20" lengthAdjust="spacingAndGlyphs">1990</text><text x="43.2" y="328.50" text-anchor="middle" textLength="4.30" lengthAdjust="spacingAndGlyphs">0</text><text x="62.6" y="328.50" text-anchor="middle" textLength="8.60" lengthAdjust="spacingAndGlyphs">20</text><text x="82.5" y="328.50" text-anchor="middle" textLength="8.60" lengthAdjust="spacingAndGlyphs">40</text><text x="102.1" y="328.50" text-anchor="middle" textLength="8.60" lengthAdjust="spacingAndGlyphs">60</text></g><text transform="translate(13.35,305.30) rotate(-90)" x="0" y="0" text-anchor="middle" textLength="39.6" lengthAdjust="spacingAndGlyphs" style="font-family:&quot;Liberation Sans&quot;,sans-serif;font-size:10.3px" fill="#1a1a1a">Elevation</text><text x="79.35" y="339.60" text-anchor="middle" style="font-family:&quot;Liberation Sans&quot;,sans-serif;font-size:10.4px" fill="#000">X</text><rect x="132.7" y="285.7" width="10.60" height="53.30" fill="url(#cG)"/><g style="font-family:&quot;Liberation Sans&quot;,sans-serif;font-size:8.7px" fill="#1a1a1a" stroke="#1a1a1a" stroke-width="0.08"><text x="148.4" y="291.00" textLength="17.60" lengthAdjust="spacingAndGlyphs">2005</text><text x="148.4" y="302.00" textLength="17.60" lengthAdjust="spacingAndGlyphs">2000</text><text x="148.4" y="313.10" textLength="17.60" lengthAdjust="spacingAndGlyphs">1995</text><text x="148.4" y="324.20" textLength="17.60" lengthAdjust="spacingAndGlyphs">1990</text><text x="148.4" y="335.30" textLength="17.60" lengthAdjust="spacingAndGlyphs">1985</text></g><text x="133.1" y="280.00" style="font-family:&quot;Liberation Sans&quot;,sans-serif;font-size:10.4px" fill="#000">Z</text><text x="236" y="262.20000000000005" textLength="84.0" lengthAdjust="spacingAndGlyphs" style="font-family:&quot;Liberation Serif&quot;,serif;font-size:11.6px" fill="#000">(<tspan font-weight="bold">b</tspan>) CS ratio = 0.75</text><line x1="242.80" y1="293.3" x2="242.80" y2="321.3" stroke="#f2f2f2" stroke-width="0.6"/><line x1="262.20" y1="293.3" x2="262.20" y2="321.3" stroke="#f2f2f2" stroke-width="0.6"/><line x1="281.65" y1="293.3" x2="281.65" y2="321.3" stroke="#f2f2f2" stroke-width="0.6"/><line x1="301.30" y1="293.3" x2="301.30" y2="321.3" stroke="#f2f2f2" stroke-width="0.6"/><line x1="229.4" y1="293.70" x2="307.3" y2="293.70" stroke="#f2f2f2" stroke-width="0.6"/><line x1="229.4" y1="298.70" x2="307.3" y2="298.70" stroke="#f2f2f2" stroke-width="0.6"/><line x1="229.4" y1="303.70" x2="307.3" y2="303.70" stroke="#f2f2f2" stroke-width="0.6"/><line x1="229.4" y1="308.75" x2="307.3" y2="308.75" stroke="#f2f2f2" stroke-width="0.6"/><line x1="229.4" y1="313.80" x2="307.3" y2="313.80" stroke="#f2f2f2" stroke-width="0.6"/><line x1="229.4" y1="318.80" x2="307.3" y2="318.80" stroke="#f2f2f2" stroke-width="0.6"/><line x1="233.00" y1="293.3" x2="233.00" y2="321.3" stroke="#e6e6e6" stroke-width="0.8"/><line x1="252.60" y1="293.3" x2="252.60" y2="321.3" stroke="#e6e6e6" stroke-width="0.8"/><line x1="271.80" y1="293.3" x2="271.80" y2="321.3" stroke="#e6e6e6" stroke-width="0.8"/><line x1="291.50" y1="293.3" x2="291.50" y2="321.3" stroke="#e6e6e6" stroke-width="0.8"/><line x1="229.4" y1="296.20" x2="307.3" y2="296.20" stroke="#e6e6e6" stroke-width="0.8"/><line x1="229.4" y1="301.20" x2="307.3" y2="301.20" stroke="#e6e6e6" stroke-width="0.8"/><line x1="229.4" y1="306.20" x2="307.3" y2="306.20" stroke="#e6e6e6" stroke-width="0.8"/><line x1="229.4" y1="311.30" x2="307.3" y2="311.30" stroke="#e6e6e6" stroke-width="0.8"/><line x1="229.4" y1="316.30" x2="307.3" y2="316.30" stroke="#e6e6e6" stroke-width="0.8"/><g clip-path="url(#kH)" fill="url(#gH)" stroke="none"><circle cx="236.28" cy="303.20" r="0.8"/><circle cx="237.12" cy="303.48" r="0.8"/><circle cx="237.85" cy="303.64" r="0.8"/><circle cx="236.75" cy="304.56" r="0.8"/><circle cx="238.01" cy="304.18" r="0.8"/><circle cx="234.18" cy="305.73" r="0.8"/><circle cx="236.00" cy="305.68" r="0.8"/><circle cx="236.76" cy="305.30" r="0.8"/><circle cx="238.34" cy="305.35" r="0.8"/><circle cx="233.79" cy="306.42" r="0.8"/><circle cx="235.16" cy="306.50" r="0.8"/><circle cx="235.86" cy="306.40" r="0.8"/><circle cx="237.20" cy="306.79" r="0.8"/><circle cx="238.21" cy="306.46" r="0.8"/><circle cx="235.14" cy="307.60" r="0.8"/><circle cx="236.00" cy="307.51" r="0.8"/><circle cx="236.74" cy="307.87" r="0.8"/><circle cx="237.82" cy="307.70" r="0.8"/><circle cx="239.34" cy="307.71" r="0.8"/><circle cx="232.58" cy="308.65" r="0.8"/><circle cx="233.63" cy="308.64" r="0.8"/><circle cx="235.90" cy="308.61" r="0.8"/><circle cx="237.35" cy="308.82" r="0.8"/><circle cx="237.94" cy="308.79" r="0.8"/><circle cx="239.33" cy="308.53" r="0.8"/><circle cx="232.85" cy="310.00" r="0.8"/><circle cx="234.15" cy="309.82" r="0.8"/><circle cx="235.17" cy="309.43" r="0.8"/><circle cx="236.12" cy="309.90" r="0.8"/><circle cx="237.37" cy="309.78" r="0.8"/><circle cx="237.81" cy="309.38" r="0.8"/><circle cx="239.00" cy="309.51" r="0.8"/><circle cx="239.88" cy="309.96" r="0.8"/><circle cx="232.90" cy="310.62" r="0.8"/><circle cx="236.20" cy="310.43" r="0.8"/><circle cx="236.92" cy="310.46" r="0.8"/><circle cx="238.42" cy="310.96" r="0.8"/><circle cx="239.98" cy="310.39" r="0.8"/><circle cx="240.91" cy="310.74" r="0.8"/><circle cx="232.95" cy="311.82" r="0.8"/><circle cx="233.73" cy="311.94" r="0.8"/><circle cx="235.07" cy="311.75" r="0.8"/><circle cx="235.83" cy="311.45" r="0.8"/><circle cx="237.11" cy="311.56" r="0.8"/><circle cx="241.22" cy="311.55" r="0.8"/><circle cx="232.99" cy="313.16" r="0.8"/><circle cx="233.53" cy="312.72" r="0.8"/><circle cx="234.99" cy="312.55" r="0.8"/><circle cx="235.86" cy="313.11" r="0.8"/><circle cx="236.89" cy="312.60" r="0.8"/><circle cx="239.35" cy="312.52" r="0.8"/><circle cx="240.34" cy="313.16" r="0.8"/><circle cx="232.74" cy="314.22" r="0.8"/><circle cx="234.19" cy="313.70" r="0.8"/><circle cx="235.24" cy="313.71" r="0.8"/><circle cx="235.88" cy="313.93" r="0.8"/><circle cx="240.40" cy="313.54" r="0.8"/><circle cx="241.54" cy="313.70" r="0.8"/><circle cx="232.88" cy="314.74" r="0.8"/><circle cx="233.98" cy="314.64" r="0.8"/><circle cx="236.11" cy="314.82" r="0.8"/><circle cx="236.73" cy="315.27" r="0.8"/><circle cx="238.05" cy="315.13" r="0.8"/><circle cx="241.07" cy="314.94" r="0.8"/><circle cx="243.59" cy="305.57" r="0.8"/><circle cx="244.57" cy="305.57" r="0.8"/><circle cx="244.30" cy="306.31" r="0.8"/><circle cx="243.69" cy="307.68" r="0.8"/><circle cx="245.23" cy="307.60" r="0.8"/><circle cx="243.29" cy="308.54" r="0.8"/><circle cx="245.28" cy="308.61" r="0.8"/><circle cx="242.23" cy="309.48" r="0.8"/><circle cx="244.40" cy="309.51" r="0.8"/><circle cx="245.51" cy="309.67" r="0.8"/><circle cx="242.63" cy="310.35" r="0.8"/><circle cx="243.56" cy="310.54" r="0.8"/><circle cx="242.16" cy="311.70" r="0.8"/><circle cx="243.46" cy="311.61" r="0.8"/><circle cx="244.60" cy="311.57" r="0.8"/><circle cx="245.55" cy="311.66" r="0.8"/><circle cx="244.40" cy="312.48" r="0.8"/><circle cx="245.74" cy="312.50" r="0.8"/><circle cx="242.77" cy="313.65" r="0.8"/><circle cx="244.63" cy="313.98" r="0.8"/><circle cx="245.47" cy="314.06" r="0.8"/><circle cx="242.29" cy="314.76" r="0.8"/><circle cx="243.57" cy="315.08" r="0.8"/><circle cx="244.18" cy="314.47" r="0.8"/><circle cx="245.53" cy="314.44" r="0.8"/><circle cx="249.31" cy="312.63" r="0.75"/><circle cx="247.27" cy="313.77" r="0.75"/><circle cx="248.61" cy="314.30" r="0.75"/><circle cx="248.25" cy="312.56" r="0.75"/><circle cx="249.41" cy="310.74" r="0.75"/><circle cx="250.91" cy="309.42" r="0.75"/><circle cx="247.57" cy="311.04" r="0.75"/><circle cx="251.56" cy="311.95" r="0.75"/><circle cx="246.23" cy="310.93" r="0.75"/><circle cx="249.84" cy="313.52" r="0.75"/><circle cx="247.4" cy="306.9" r="0.8"/><circle cx="257.73" cy="296.72" r="0.8"/><circle cx="256.90" cy="297.48" r="0.8"/><circle cx="256.15" cy="298.68" r="0.8"/><circle cx="256.91" cy="299.22" r="0.8"/><circle cx="258.03" cy="298.61" r="0.8"/><circle cx="255.07" cy="300.20" r="0.8"/><circle cx="256.22" cy="300.09" r="0.8"/><circle cx="256.96" cy="299.97" r="0.8"/><circle cx="257.79" cy="299.79" r="0.8"/><circle cx="258.81" cy="300.08" r="0.8"/><circle cx="254.10" cy="301.06" r="0.8"/><circle cx="254.97" cy="300.90" r="0.8"/><circle cx="255.73" cy="301.23" r="0.8"/><circle cx="257.33" cy="300.75" r="0.8"/><circle cx="258.08" cy="300.67" r="0.8"/><circle cx="259.15" cy="300.96" r="0.8"/><circle cx="253.97" cy="302.08" r="0.8"/><circle cx="254.83" cy="301.68" r="0.8"/><circle cx="256.76" cy="301.75" r="0.8"/><circle cx="258.19" cy="301.77" r="0.8"/><circle cx="259.12" cy="301.68" r="0.8"/><circle cx="253.71" cy="302.90" r="0.8"/><circle cx="254.87" cy="302.98" r="0.8"/><circle cx="255.64" cy="303.31" r="0.8"/><circle cx="257.02" cy="302.73" r="0.8"/><circle cx="258.36" cy="303.05" r="0.8"/><circle cx="259.35" cy="303.35" r="0.8"/><circle cx="253.75" cy="304.21" r="0.8"/><circle cx="255.01" cy="304.21" r="0.8"/><circle cx="255.67" cy="303.79" r="0.8"/><circle cx="257.28" cy="304.41" r="0.8"/><circle cx="258.26" cy="303.90" r="0.8"/><circle cx="258.92" cy="304.38" r="0.8"/><circle cx="253.06" cy="305.09" r="0.8"/><circle cx="254.98" cy="305.30" r="0.8"/><circle cx="255.89" cy="304.90" r="0.8"/><circle cx="256.80" cy="304.92" r="0.8"/><circle cx="258.17" cy="305.27" r="0.8"/><circle cx="259.37" cy="305.35" r="0.8"/><circle cx="252.85" cy="305.99" r="0.8"/><circle cx="253.63" cy="305.93" r="0.8"/><circle cx="255.20" cy="306.33" r="0.8"/><circle cx="255.78" cy="306.29" r="0.8"/><circle cx="256.69" cy="305.94" r="0.8"/><circle cx="258.15" cy="305.93" r="0.8"/><circle cx="258.94" cy="306.29" r="0.8"/><circle cx="252.71" cy="307.59" r="0.8"/><circle cx="253.82" cy="307.30" r="0.8"/><circle cx="255.27" cy="307.46" r="0.8"/><circle cx="256.13" cy="307.37" r="0.8"/><circle cx="258.93" cy="307.32" r="0.8"/><circle cx="252.64" cy="308.52" r="0.8"/><circle cx="254.02" cy="308.32" r="0.8"/><circle cx="255.07" cy="308.48" r="0.8"/><circle cx="257.91" cy="308.44" r="0.8"/><circle cx="259.43" cy="308.29" r="0.8"/><circle cx="253.74" cy="309.10" r="0.8"/><circle cx="254.62" cy="309.15" r="0.8"/><circle cx="255.87" cy="309.38" r="0.8"/><circle cx="256.95" cy="309.12" r="0.8"/><circle cx="258.12" cy="309.70" r="0.8"/><circle cx="259.02" cy="309.25" r="0.8"/><circle cx="252.82" cy="310.63" r="0.8"/><circle cx="253.62" cy="310.22" r="0.8"/><circle cx="254.85" cy="310.34" r="0.8"/><circle cx="257.08" cy="310.75" r="0.8"/><circle cx="258.14" cy="310.65" r="0.8"/><circle cx="258.80" cy="310.75" r="0.8"/><circle cx="252.88" cy="311.17" r="0.8"/><circle cx="253.79" cy="311.58" r="0.8"/><circle cx="255.22" cy="311.38" r="0.8"/><circle cx="256.25" cy="311.28" r="0.8"/><circle cx="257.02" cy="311.81" r="0.8"/><circle cx="257.87" cy="311.68" r="0.8"/><circle cx="259.07" cy="311.67" r="0.8"/><circle cx="253.03" cy="312.26" r="0.8"/><circle cx="255.14" cy="312.51" r="0.8"/><circle cx="256.86" cy="312.28" r="0.8"/><circle cx="257.76" cy="312.29" r="0.8"/><circle cx="253.08" cy="313.33" r="0.8"/><circle cx="253.85" cy="313.30" r="0.8"/><circle cx="255.22" cy="313.73" r="0.8"/><circle cx="256.05" cy="313.83" r="0.8"/><circle cx="257.76" cy="313.84" r="0.8"/><circle cx="258.94" cy="313.32" r="0.8"/><circle cx="252.88" cy="314.60" r="0.8"/><circle cx="253.62" cy="314.78" r="0.8"/><circle cx="254.79" cy="314.86" r="0.8"/><circle cx="259.05" cy="314.59" r="0.8"/><polyline points="256.20,299.30 257.60,297.50" fill="none" stroke="#fff" stroke-width="0.9" stroke-linecap="round" stroke-linejoin="round"/><circle cx="272.58" cy="299.05" r="0.8"/><circle cx="272.91" cy="299.43" r="0.8"/><circle cx="273.34" cy="299.95" r="0.8"/><circle cx="272.26" cy="300.54" r="0.8"/><circle cx="273.55" cy="301.16" r="0.8"/><circle cx="272.54" cy="301.75" r="0.8"/><circle cx="271.73" cy="304.16" r="0.8"/><circle cx="272.92" cy="304.04" r="0.8"/><circle cx="273.43" cy="303.72" r="0.8"/><circle cx="272.41" cy="305.28" r="0.8"/><circle cx="273.83" cy="305.30" r="0.8"/><circle cx="271.60" cy="306.26" r="0.8"/><circle cx="272.30" cy="305.88" r="0.8"/><circle cx="273.33" cy="305.80" r="0.8"/><circle cx="271.85" cy="307.18" r="0.8"/><circle cx="272.62" cy="307.37" r="0.8"/><circle cx="273.58" cy="307.18" r="0.8"/><circle cx="271.30" cy="308.23" r="0.8"/><circle cx="272.56" cy="308.32" r="0.8"/><circle cx="273.63" cy="308.04" r="0.8"/><circle cx="271.38" cy="309.05" r="0.8"/><circle cx="272.60" cy="309.03" r="0.8"/><circle cx="273.62" cy="309.12" r="0.8"/><circle cx="272.27" cy="310.37" r="0.8"/><circle cx="273.87" cy="310.40" r="0.8"/><circle cx="271.43" cy="311.53" r="0.8"/><circle cx="272.63" cy="311.05" r="0.8"/><circle cx="273.45" cy="311.00" r="0.8"/><circle cx="271.82" cy="312.35" r="0.8"/><circle cx="272.42" cy="312.35" r="0.8"/><circle cx="274.33" cy="312.27" r="0.8"/><circle cx="271.61" cy="313.43" r="0.8"/><circle cx="272.87" cy="313.61" r="0.8"/><circle cx="273.30" cy="313.57" r="0.8"/><circle cx="271.49" cy="314.71" r="0.8"/><circle cx="272.26" cy="314.21" r="0.8"/><circle cx="274.44" cy="314.62" r="0.8"/><circle cx="286.48" cy="295.87" r="0.8"/><circle cx="286.97" cy="295.77" r="0.8"/><circle cx="285.28" cy="297.06" r="0.8"/><circle cx="285.93" cy="297.03" r="0.8"/><circle cx="287.58" cy="296.77" r="0.8"/><circle cx="285.02" cy="297.77" r="0.8"/><circle cx="286.03" cy="297.59" r="0.8"/><circle cx="287.39" cy="297.52" r="0.8"/><circle cx="284.27" cy="298.96" r="0.8"/><circle cx="285.29" cy="298.89" r="0.8"/><circle cx="286.36" cy="298.62" r="0.8"/><circle cx="287.52" cy="298.92" r="0.8"/><circle cx="288.47" cy="298.87" r="0.8"/><circle cx="284.94" cy="300.17" r="0.8"/><circle cx="286.44" cy="300.03" r="0.8"/><circle cx="287.44" cy="299.76" r="0.8"/><circle cx="288.35" cy="300.10" r="0.8"/><circle cx="284.12" cy="301.01" r="0.8"/><circle cx="286.13" cy="301.11" r="0.8"/><circle cx="287.27" cy="300.81" r="0.8"/><circle cx="288.44" cy="300.86" r="0.8"/><circle cx="285.19" cy="301.75" r="0.8"/><circle cx="285.93" cy="302.03" r="0.8"/><circle cx="288.23" cy="301.87" r="0.8"/><circle cx="283.32" cy="303.32" r="0.8"/><circle cx="284.44" cy="303.18" r="0.8"/><circle cx="285.12" cy="303.15" r="0.8"/><circle cx="286.48" cy="303.35" r="0.8"/><circle cx="286.93" cy="303.27" r="0.8"/><circle cx="288.43" cy="302.78" r="0.8"/><circle cx="282.30" cy="304.03" r="0.8"/><circle cx="283.41" cy="303.91" r="0.8"/><circle cx="283.82" cy="304.17" r="0.8"/><circle cx="284.94" cy="304.31" r="0.8"/><circle cx="287.48" cy="304.44" r="0.8"/><circle cx="288.36" cy="304.35" r="0.8"/><circle cx="282.12" cy="305.29" r="0.8"/><circle cx="282.96" cy="305.05" r="0.8"/><circle cx="284.32" cy="305.03" r="0.8"/><circle cx="285.92" cy="305.05" r="0.8"/><circle cx="287.59" cy="305.08" r="0.8"/><circle cx="288.57" cy="305.20" r="0.8"/><circle cx="281.98" cy="306.20" r="0.8"/><circle cx="284.14" cy="306.21" r="0.8"/><circle cx="284.93" cy="306.23" r="0.8"/><circle cx="286.18" cy="305.92" r="0.8"/><circle cx="288.59" cy="305.91" r="0.8"/><circle cx="281.78" cy="307.11" r="0.8"/><circle cx="283.25" cy="307.23" r="0.8"/><circle cx="284.06" cy="307.29" r="0.8"/><circle cx="285.49" cy="307.06" r="0.8"/><circle cx="286.26" cy="307.17" r="0.8"/><circle cx="286.95" cy="307.40" r="0.8"/><circle cx="288.62" cy="307.14" r="0.8"/><circle cx="281.90" cy="308.35" r="0.8"/><circle cx="283.19" cy="308.26" r="0.8"/><circle cx="283.98" cy="308.29" r="0.8"/><circle cx="285.33" cy="308.43" r="0.8"/><circle cx="285.94" cy="308.05" r="0.8"/><circle cx="287.05" cy="308.10" r="0.8"/><circle cx="288.21" cy="308.61" r="0.8"/><circle cx="281.85" cy="309.15" r="0.8"/><circle cx="283.20" cy="309.43" r="0.8"/><circle cx="284.34" cy="309.50" r="0.8"/><circle cx="285.25" cy="309.48" r="0.8"/><circle cx="285.94" cy="309.28" r="0.8"/><circle cx="288.42" cy="309.09" r="0.8"/><circle cx="282.28" cy="310.34" r="0.8"/><circle cx="283.08" cy="310.25" r="0.8"/><circle cx="283.87" cy="310.56" r="0.8"/><circle cx="285.49" cy="310.75" r="0.8"/><circle cx="287.99" cy="310.17" r="0.8"/><circle cx="284.21" cy="311.43" r="0.8"/><circle cx="284.93" cy="311.51" r="0.8"/><circle cx="285.96" cy="311.73" r="0.8"/><circle cx="287.54" cy="311.33" r="0.8"/><circle cx="288.17" cy="311.71" r="0.8"/><circle cx="282.13" cy="312.56" r="0.8"/><circle cx="282.78" cy="312.52" r="0.8"/><circle cx="284.35" cy="312.32" r="0.8"/><circle cx="285.04" cy="312.74" r="0.8"/><circle cx="286.32" cy="312.20" r="0.8"/><circle cx="287.42" cy="312.52" r="0.8"/><circle cx="288.31" cy="312.83" r="0.8"/><circle cx="282.06" cy="313.52" r="0.8"/><circle cx="282.76" cy="313.84" r="0.8"/><circle cx="284.02" cy="313.42" r="0.8"/><circle cx="285.48" cy="313.81" r="0.8"/><circle cx="286.30" cy="313.61" r="0.8"/><circle cx="286.95" cy="313.74" r="0.8"/><circle cx="288.37" cy="313.24" r="0.8"/><circle cx="281.79" cy="314.73" r="0.8"/><circle cx="283.42" cy="314.74" r="0.8"/><circle cx="283.78" cy="314.95" r="0.8"/><circle cx="285.43" cy="314.30" r="0.8"/><circle cx="286.21" cy="314.43" r="0.8"/><circle cx="286.98" cy="314.68" r="0.8"/><circle cx="288.47" cy="314.40" r="0.8"/><circle cx="292.55" cy="293.95" r="0.8"/><circle cx="291.34" cy="296.05" r="0.8"/><circle cx="292.53" cy="296.15" r="0.8"/><circle cx="292.17" cy="297.35" r="0.8"/><circle cx="293.41" cy="297.24" r="0.8"/><circle cx="291.10" cy="298.36" r="0.8"/><circle cx="293.51" cy="298.12" r="0.8"/><circle cx="294.24" cy="298.25" r="0.8"/><circle cx="292.60" cy="299.49" r="0.8"/><circle cx="293.73" cy="299.06" r="0.8"/><circle cx="294.53" cy="299.43" r="0.8"/><circle cx="291.32" cy="300.13" r="0.8"/><circle cx="292.57" cy="300.23" r="0.8"/><circle cx="293.47" cy="299.98" r="0.8"/><circle cx="290.36" cy="301.70" r="0.8"/><circle cx="291.07" cy="301.17" r="0.8"/><circle cx="292.67" cy="301.39" r="0.8"/><circle cx="293.32" cy="301.38" r="0.8"/><circle cx="294.39" cy="301.66" r="0.8"/><circle cx="290.14" cy="302.49" r="0.8"/><circle cx="291.39" cy="302.53" r="0.8"/><circle cx="292.46" cy="302.29" r="0.8"/><circle cx="293.56" cy="302.71" r="0.8"/><circle cx="294.30" cy="302.20" r="0.8"/><circle cx="290.54" cy="303.17" r="0.8"/><circle cx="291.22" cy="303.45" r="0.8"/><circle cx="293.65" cy="303.66" r="0.8"/><circle cx="294.61" cy="303.39" r="0.8"/><circle cx="290.35" cy="304.64" r="0.8"/><circle cx="291.61" cy="304.29" r="0.8"/><circle cx="292.67" cy="304.86" r="0.8"/><circle cx="293.79" cy="304.20" r="0.8"/><circle cx="290.00" cy="305.76" r="0.8"/><circle cx="291.55" cy="305.23" r="0.8"/><circle cx="292.33" cy="305.28" r="0.8"/><circle cx="293.37" cy="305.74" r="0.8"/><circle cx="290.62" cy="306.90" r="0.8"/><circle cx="291.39" cy="306.39" r="0.8"/><circle cx="292.23" cy="306.41" r="0.8"/><circle cx="293.35" cy="306.81" r="0.8"/><circle cx="291.47" cy="307.49" r="0.8"/><circle cx="292.36" cy="307.83" r="0.8"/><circle cx="293.22" cy="307.54" r="0.8"/><circle cx="294.19" cy="307.77" r="0.8"/><circle cx="290.48" cy="308.61" r="0.8"/><circle cx="291.36" cy="308.90" r="0.8"/><circle cx="292.43" cy="308.56" r="0.8"/><circle cx="293.31" cy="308.52" r="0.8"/><circle cx="294.80" cy="308.63" r="0.8"/><circle cx="291.21" cy="309.81" r="0.8"/><circle cx="292.73" cy="309.87" r="0.8"/><circle cx="293.49" cy="309.77" r="0.8"/><circle cx="294.38" cy="310.06" r="0.8"/><circle cx="290.03" cy="311.05" r="0.8"/><circle cx="292.57" cy="311.08" r="0.8"/><circle cx="294.76" cy="310.65" r="0.8"/><circle cx="290.46" cy="311.85" r="0.8"/><circle cx="292.77" cy="312.20" r="0.8"/><circle cx="293.64" cy="311.99" r="0.8"/><circle cx="294.52" cy="311.88" r="0.8"/><circle cx="290.16" cy="313.17" r="0.8"/><circle cx="292.56" cy="312.93" r="0.8"/><circle cx="293.59" cy="312.58" r="0.8"/><circle cx="294.85" cy="312.72" r="0.8"/><circle cx="290.03" cy="313.80" r="0.8"/><circle cx="292.63" cy="314.18" r="0.8"/><circle cx="294.83" cy="313.89" r="0.8"/><circle cx="290.64" cy="315.06" r="0.8"/><circle cx="291.10" cy="314.68" r="0.8"/><circle cx="292.15" cy="315.25" r="0.8"/><circle cx="293.80" cy="315.15" r="0.8"/><circle cx="294.67" cy="314.90" r="0.8"/><circle cx="298.16" cy="298.00" r="0.8"/><circle cx="297.30" cy="300.56" r="0.8"/><circle cx="298.74" cy="300.09" r="0.8"/><circle cx="299.35" cy="300.33" r="0.8"/><circle cx="297.15" cy="301.62" r="0.8"/><circle cx="298.43" cy="301.52" r="0.8"/><circle cx="299.54" cy="301.48" r="0.8"/><circle cx="297.21" cy="302.40" r="0.8"/><circle cx="298.39" cy="302.35" r="0.8"/><circle cx="299.75" cy="302.17" r="0.8"/><circle cx="299.38" cy="303.66" r="0.8"/><circle cx="299.17" cy="304.25" r="0.8"/><circle cx="297.50" cy="305.23" r="0.8"/><circle cx="298.31" cy="305.19" r="0.8"/><circle cx="299.20" cy="305.68" r="0.8"/><circle cx="297.59" cy="306.77" r="0.8"/><circle cx="298.28" cy="306.75" r="0.8"/><circle cx="299.16" cy="306.84" r="0.8"/><circle cx="296.62" cy="307.75" r="0.8"/><circle cx="297.09" cy="307.68" r="0.8"/><circle cx="298.54" cy="307.70" r="0.8"/><circle cx="299.46" cy="307.37" r="0.8"/><circle cx="297.51" cy="308.71" r="0.8"/><circle cx="298.70" cy="308.82" r="0.8"/><circle cx="299.54" cy="308.62" r="0.8"/><circle cx="296.35" cy="309.52" r="0.8"/><circle cx="297.17" cy="309.33" r="0.8"/><circle cx="298.68" cy="309.83" r="0.8"/><circle cx="299.48" cy="309.73" r="0.8"/><circle cx="296.30" cy="310.73" r="0.8"/><circle cx="297.64" cy="310.74" r="0.8"/><circle cx="298.55" cy="310.46" r="0.8"/><circle cx="299.34" cy="310.62" r="0.8"/><circle cx="296.18" cy="312.12" r="0.8"/><circle cx="297.28" cy="311.91" r="0.8"/><circle cx="299.57" cy="312.10" r="0.8"/><circle cx="296.59" cy="313.04" r="0.8"/><circle cx="297.13" cy="313.04" r="0.8"/><circle cx="298.32" cy="312.80" r="0.8"/><circle cx="299.75" cy="313.12" r="0.8"/><circle cx="296.10" cy="313.78" r="0.8"/><circle cx="297.17" cy="313.76" r="0.8"/><circle cx="298.41" cy="313.62" r="0.8"/><circle cx="299.41" cy="313.70" r="0.8"/><circle cx="296.20" cy="314.59" r="0.8"/><circle cx="298.69" cy="314.78" r="0.8"/><circle cx="299.61" cy="314.68" r="0.8"/><circle cx="303.1" cy="312.1" r="0.9"/><polygon points="233.00,315.20 240.00,314.80 250.00,315.40 260.00,315.00 270.00,315.20 280.00,314.80 290.00,315.00 304.00,315.20 304.00,319.50 290.00,319.80 280.00,319.60 270.00,320.10 260.00,320.30 250.00,319.80 240.00,320.20 233.00,320.40" fill="url(#bH24)"/><g fill="#fff"><circle cx="300.69" cy="318.63" r="0.45"/><circle cx="271.84" cy="317.13" r="0.45"/><circle cx="253.55" cy="318.06" r="0.45"/><circle cx="301.67" cy="317.36" r="0.45"/><circle cx="274.83" cy="317.19" r="0.45"/><circle cx="301.02" cy="318.87" r="0.45"/><circle cx="290.06" cy="318.87" r="0.45"/><circle cx="246.40" cy="317.60" r="0.45"/><circle cx="236.71" cy="318.38" r="0.45"/><circle cx="239.60" cy="317.47" r="0.45"/><circle cx="246.01" cy="319.30" r="0.45"/><circle cx="288.48" cy="317.71" r="0.45"/><circle cx="300.99" cy="317.40" r="0.45"/><circle cx="243.70" cy="317.95" r="0.45"/><circle cx="289.58" cy="317.25" r="0.45"/><circle cx="288.43" cy="318.36" r="0.45"/><circle cx="289.09" cy="317.84" r="0.45"/><circle cx="236.91" cy="317.25" r="0.45"/><circle cx="283.90" cy="318.27" r="0.45"/><circle cx="286.70" cy="317.50" r="0.45"/><circle cx="253.27" cy="317.53" r="0.45"/><circle cx="292.70" cy="318.76" r="0.45"/></g></g><rect x="229.4" y="293.3" width="77.90" height="28.00" fill="none" stroke="#9a9a9a" stroke-width="1"/><line x1="226.80" y1="296.2" x2="229.4" y2="296.2" stroke="#333" stroke-width="0.9"/><line x1="226.80" y1="301.2" x2="229.4" y2="301.2" stroke="#333" stroke-width="0.9"/><line x1="226.80" y1="306.2" x2="229.4" y2="306.2" stroke="#333" stroke-width="0.9"/><line x1="226.80" y1="311.3" x2="229.4" y2="311.3" stroke="#333" stroke-width="0.9"/><line x1="226.80" y1="316.3" x2="229.4" y2="316.3" stroke="#333" stroke-width="0.9"/><line x1="226.80" y1="321.3" x2="229.4" y2="321.3" stroke="#333" stroke-width="0.9"/><line x1="233.0" y1="321.3" x2="233.0" y2="323.90" stroke="#333" stroke-width="0.9"/><line x1="252.6" y1="321.3" x2="252.6" y2="323.90" stroke="#333" stroke-width="0.9"/><line x1="271.8" y1="321.3" x2="271.8" y2="323.90" stroke="#333" stroke-width="0.9"/><line x1="291.5" y1="321.3" x2="291.5" y2="323.90" stroke="#333" stroke-width="0.9"/><g style="font-family:&quot;Liberation Sans&quot;,sans-serif;font-size:8.5px" fill="#5c5c5c" stroke="#5c5c5c" stroke-width="0.08"><text x="225.1" y="299.20" text-anchor="end" textLength="17.20" lengthAdjust="spacingAndGlyphs">1990</text><text x="225.1" y="304.20" text-anchor="end" textLength="17.20" lengthAdjust="spacingAndGlyphs">1985</text><text x="225.1" y="309.20" text-anchor="end" textLength="17.20" lengthAdjust="spacingAndGlyphs">1980</text><text x="225.1" y="314.30" text-anchor="end" textLength="17.20" lengthAdjust="spacingAndGlyphs">1975</text><text x="225.1" y="319.30" text-anchor="end" textLength="17.20" lengthAdjust="spacingAndGlyphs">1970</text><text x="225.1" y="324.30" text-anchor="end" textLength="17.20" lengthAdjust="spacingAndGlyphs">1965</text><text x="233.0" y="332.00" text-anchor="middle" textLength="4.30" lengthAdjust="spacingAndGlyphs">0</text><text x="252.6" y="332.00" text-anchor="middle" textLength="8.60" lengthAdjust="spacingAndGlyphs">20</text><text x="271.8" y="332.00" text-anchor="middle" textLength="8.60" lengthAdjust="spacingAndGlyphs">40</text><text x="291.5" y="332.00" text-anchor="middle" textLength="8.60" lengthAdjust="spacingAndGlyphs">60</text></g><text transform="translate(202.80,307.30) rotate(-90)" x="0" y="0" text-anchor="middle" textLength="41.8" lengthAdjust="spacingAndGlyphs" style="font-family:&quot;Liberation Sans&quot;,sans-serif;font-size:10.3px" fill="#1a1a1a">Elevation</text><text x="268.75" y="343.60" text-anchor="middle" style="font-family:&quot;Liberation Sans&quot;,sans-serif;font-size:10.4px" fill="#000">X</text><rect x="322.4" y="287.3" width="10.50" height="53.90" fill="url(#cH)"/><g style="font-family:&quot;Liberation Sans&quot;,sans-serif;font-size:8.7px" fill="#1a1a1a" stroke="#1a1a1a" stroke-width="0.08"><text x="338.4" y="294.20" textLength="17.60" lengthAdjust="spacingAndGlyphs">1990</text><text x="338.4" y="304.60" textLength="17.60" lengthAdjust="spacingAndGlyphs">1985</text><text x="338.4" y="315.00" textLength="17.60" lengthAdjust="spacingAndGlyphs">1980</text><text x="338.4" y="325.40" textLength="17.60" lengthAdjust="spacingAndGlyphs">1975</text><text x="338.4" y="335.70" textLength="17.60" lengthAdjust="spacingAndGlyphs">1970</text></g><text x="322.4" y="281.80" style="font-family:&quot;Liberation Sans&quot;,sans-serif;font-size:10.4px" fill="#000">Z</text><text x="426.4" y="262.20000000000005" textLength="82.7" lengthAdjust="spacingAndGlyphs" style="font-family:&quot;Liberation Serif&quot;,serif;font-size:11.6px" fill="#000">(<tspan font-weight="bold">c</tspan>) CS ratio = 0.50</text><line x1="432.30" y1="292.3" x2="432.30" y2="321.2" stroke="#f2f2f2" stroke-width="0.6"/><line x1="451.95" y1="292.3" x2="451.95" y2="321.2" stroke="#f2f2f2" stroke-width="0.6"/><line x1="471.50" y1="292.3" x2="471.50" y2="321.2" stroke="#f2f2f2" stroke-width="0.6"/><line x1="491.40" y1="292.3" x2="491.40" y2="321.2" stroke="#f2f2f2" stroke-width="0.6"/><line x1="419.3" y1="297.80" x2="496.6" y2="297.80" stroke="#f2f2f2" stroke-width="0.6"/><line x1="419.3" y1="308.00" x2="496.6" y2="308.00" stroke="#f2f2f2" stroke-width="0.6"/><line x1="419.3" y1="318.20" x2="496.6" y2="318.20" stroke="#f2f2f2" stroke-width="0.6"/><line x1="422.30" y1="292.3" x2="422.30" y2="321.2" stroke="#e6e6e6" stroke-width="0.8"/><line x1="442.30" y1="292.3" x2="442.30" y2="321.2" stroke="#e6e6e6" stroke-width="0.8"/><line x1="461.60" y1="292.3" x2="461.60" y2="321.2" stroke="#e6e6e6" stroke-width="0.8"/><line x1="481.40" y1="292.3" x2="481.40" y2="321.2" stroke="#e6e6e6" stroke-width="0.8"/><line x1="419.3" y1="292.70" x2="496.6" y2="292.70" stroke="#e6e6e6" stroke-width="0.8"/><line x1="419.3" y1="302.90" x2="496.6" y2="302.90" stroke="#e6e6e6" stroke-width="0.8"/><line x1="419.3" y1="313.10" x2="496.6" y2="313.10" stroke="#e6e6e6" stroke-width="0.8"/><g clip-path="url(#kI)" fill="url(#gI)" stroke="none"><circle cx="427.16" cy="300.30" r="0.8"/><circle cx="425.74" cy="301.25" r="0.8"/><circle cx="427.10" cy="302.17" r="0.8"/><circle cx="427.72" cy="302.47" r="0.8"/><circle cx="424.92" cy="303.46" r="0.8"/><circle cx="426.07" cy="302.83" r="0.8"/><circle cx="426.95" cy="302.88" r="0.8"/><circle cx="428.09" cy="303.43" r="0.8"/><circle cx="424.77" cy="304.37" r="0.8"/><circle cx="427.24" cy="304.17" r="0.8"/><circle cx="427.63" cy="304.17" r="0.8"/><circle cx="424.76" cy="304.99" r="0.8"/><circle cx="425.79" cy="305.62" r="0.8"/><circle cx="426.70" cy="304.98" r="0.8"/><circle cx="428.30" cy="305.47" r="0.8"/><circle cx="423.85" cy="306.15" r="0.8"/><circle cx="424.84" cy="306.24" r="0.8"/><circle cx="425.59" cy="306.27" r="0.8"/><circle cx="427.98" cy="306.50" r="0.8"/><circle cx="423.56" cy="307.15" r="0.8"/><circle cx="424.99" cy="307.04" r="0.8"/><circle cx="427.24" cy="307.69" r="0.8"/><circle cx="428.21" cy="307.68" r="0.8"/><circle cx="422.83" cy="308.62" r="0.8"/><circle cx="423.48" cy="308.44" r="0.8"/><circle cx="424.96" cy="308.20" r="0.8"/><circle cx="426.20" cy="308.25" r="0.8"/><circle cx="427.25" cy="308.55" r="0.8"/><circle cx="427.92" cy="308.40" r="0.8"/><circle cx="428.73" cy="308.27" r="0.8"/><circle cx="423.00" cy="309.38" r="0.8"/><circle cx="425.10" cy="309.75" r="0.8"/><circle cx="425.84" cy="309.30" r="0.8"/><circle cx="426.79" cy="309.70" r="0.8"/><circle cx="428.07" cy="309.36" r="0.8"/><circle cx="429.05" cy="309.81" r="0.8"/><circle cx="424.10" cy="310.84" r="0.8"/><circle cx="424.87" cy="310.31" r="0.8"/><circle cx="425.86" cy="310.71" r="0.8"/><circle cx="428.11" cy="310.56" r="0.8"/><circle cx="429.00" cy="310.22" r="0.8"/><circle cx="423.06" cy="311.49" r="0.8"/><circle cx="423.73" cy="311.27" r="0.8"/><circle cx="424.63" cy="311.38" r="0.8"/><circle cx="426.17" cy="311.23" r="0.8"/><circle cx="426.98" cy="311.57" r="0.8"/><circle cx="427.63" cy="311.47" r="0.8"/><circle cx="428.91" cy="311.92" r="0.8"/><circle cx="422.97" cy="312.84" r="0.8"/><circle cx="423.77" cy="312.62" r="0.8"/><circle cx="424.56" cy="312.43" r="0.8"/><circle cx="425.87" cy="312.59" r="0.8"/><circle cx="429.02" cy="312.35" r="0.8"/><circle cx="422.74" cy="313.44" r="0.8"/><circle cx="424.61" cy="313.66" r="0.8"/><circle cx="426.76" cy="313.88" r="0.8"/><circle cx="428.28" cy="313.34" r="0.8"/><circle cx="428.89" cy="313.92" r="0.8"/><circle cx="422.85" cy="315.00" r="0.8"/><circle cx="424.51" cy="314.71" r="0.8"/><circle cx="425.61" cy="314.55" r="0.8"/><circle cx="426.98" cy="314.47" r="0.8"/><circle cx="427.67" cy="315.02" r="0.8"/><circle cx="429.01" cy="315.05" r="0.8"/><circle cx="423.60" cy="315.56" r="0.8"/><circle cx="424.89" cy="315.79" r="0.8"/><circle cx="425.90" cy="315.65" r="0.8"/><circle cx="427.24" cy="315.46" r="0.8"/><circle cx="427.72" cy="315.95" r="0.8"/><circle cx="429.26" cy="315.89" r="0.8"/><circle cx="432.84" cy="302.26" r="0.8"/><circle cx="433.09" cy="303.05" r="0.8"/><circle cx="433.89" cy="302.78" r="0.8"/><circle cx="433.04" cy="304.11" r="0.8"/><circle cx="434.05" cy="303.98" r="0.8"/><circle cx="431.99" cy="304.93" r="0.8"/><circle cx="432.58" cy="304.73" r="0.8"/><circle cx="434.02" cy="304.96" r="0.8"/><circle cx="434.11" cy="306.08" r="0.8"/><circle cx="434.79" cy="306.14" r="0.8"/><circle cx="431.58" cy="306.87" r="0.8"/><circle cx="432.93" cy="307.31" r="0.8"/><circle cx="434.08" cy="306.84" r="0.8"/><circle cx="434.54" cy="307.21" r="0.8"/><circle cx="431.53" cy="308.24" r="0.8"/><circle cx="432.45" cy="308.55" r="0.8"/><circle cx="434.98" cy="308.23" r="0.8"/><circle cx="431.96" cy="309.37" r="0.8"/><circle cx="434.12" cy="309.01" r="0.8"/><circle cx="432.02" cy="310.53" r="0.8"/><circle cx="433.75" cy="310.34" r="0.8"/><circle cx="434.57" cy="310.35" r="0.8"/><circle cx="431.88" cy="311.26" r="0.8"/><circle cx="432.94" cy="311.29" r="0.8"/><circle cx="434.11" cy="311.28" r="0.8"/><circle cx="434.86" cy="311.61" r="0.8"/><circle cx="431.58" cy="312.35" r="0.8"/><circle cx="432.53" cy="312.76" r="0.8"/><circle cx="433.99" cy="312.36" r="0.8"/><circle cx="434.79" cy="312.48" r="0.8"/><circle cx="432.06" cy="313.54" r="0.8"/><circle cx="432.45" cy="313.30" r="0.8"/><circle cx="433.93" cy="313.25" r="0.8"/><circle cx="434.71" cy="313.52" r="0.8"/><circle cx="431.74" cy="314.70" r="0.8"/><circle cx="432.48" cy="314.63" r="0.8"/><circle cx="434.01" cy="314.83" r="0.8"/><circle cx="435.12" cy="314.34" r="0.8"/><circle cx="431.38" cy="315.80" r="0.8"/><circle cx="432.74" cy="315.57" r="0.8"/><circle cx="433.64" cy="315.71" r="0.8"/><circle cx="434.56" cy="315.41" r="0.8"/><circle cx="437.7" cy="304.9" r="0.8"/><circle cx="439.81" cy="313.84" r="0.75"/><circle cx="439.24" cy="314.45" r="0.75"/><circle cx="440.66" cy="314.83" r="0.75"/><circle cx="447.26" cy="297.25" r="0.8"/><circle cx="447.91" cy="297.22" r="0.8"/><circle cx="445.77" cy="297.98" r="0.8"/><circle cx="448.28" cy="297.99" r="0.8"/><circle cx="445.04" cy="299.37" r="0.8"/><circle cx="445.86" cy="299.54" r="0.8"/><circle cx="446.81" cy="299.57" r="0.8"/><circle cx="448.10" cy="299.29" r="0.8"/><circle cx="444.90" cy="300.10" r="0.8"/><circle cx="446.17" cy="300.12" r="0.8"/><circle cx="448.32" cy="300.58" r="0.8"/><circle cx="449.20" cy="300.37" r="0.8"/><circle cx="444.73" cy="301.47" r="0.8"/><circle cx="446.21" cy="301.56" r="0.8"/><circle cx="449.21" cy="301.39" r="0.8"/><circle cx="443.90" cy="302.43" r="0.8"/><circle cx="444.82" cy="302.63" r="0.8"/><circle cx="446.58" cy="302.80" r="0.8"/><circle cx="448.08" cy="302.76" r="0.8"/><circle cx="444.01" cy="303.48" r="0.8"/><circle cx="444.73" cy="303.46" r="0.8"/><circle cx="446.12" cy="303.27" r="0.8"/><circle cx="448.02" cy="303.67" r="0.8"/><circle cx="449.21" cy="303.84" r="0.8"/><circle cx="444.02" cy="304.72" r="0.8"/><circle cx="444.92" cy="304.40" r="0.8"/><circle cx="445.78" cy="304.68" r="0.8"/><circle cx="446.95" cy="304.50" r="0.8"/><circle cx="448.14" cy="304.53" r="0.8"/><circle cx="449.20" cy="304.54" r="0.8"/><circle cx="442.96" cy="305.71" r="0.8"/><circle cx="443.90" cy="305.71" r="0.8"/><circle cx="446.20" cy="305.76" r="0.8"/><circle cx="447.21" cy="305.95" r="0.8"/><circle cx="447.63" cy="305.76" r="0.8"/><circle cx="449.08" cy="305.91" r="0.8"/><circle cx="442.97" cy="306.59" r="0.8"/><circle cx="443.45" cy="306.45" r="0.8"/><circle cx="444.85" cy="307.03" r="0.8"/><circle cx="445.73" cy="306.64" r="0.8"/><circle cx="446.82" cy="306.84" r="0.8"/><circle cx="447.66" cy="306.78" r="0.8"/><circle cx="448.77" cy="306.41" r="0.8"/><circle cx="443.54" cy="307.71" r="0.8"/><circle cx="444.54" cy="307.67" r="0.8"/><circle cx="448.07" cy="307.83" r="0.8"/><circle cx="449.13" cy="307.77" r="0.8"/><circle cx="442.96" cy="308.69" r="0.8"/><circle cx="443.90" cy="309.15" r="0.8"/><circle cx="444.78" cy="308.76" r="0.8"/><circle cx="445.77" cy="309.03" r="0.8"/><circle cx="446.91" cy="308.67" r="0.8"/><circle cx="448.17" cy="308.56" r="0.8"/><circle cx="448.81" cy="308.93" r="0.8"/><circle cx="442.53" cy="309.69" r="0.8"/><circle cx="443.65" cy="310.15" r="0.8"/><circle cx="445.80" cy="309.85" r="0.8"/><circle cx="446.90" cy="310.19" r="0.8"/><circle cx="447.90" cy="309.66" r="0.8"/><circle cx="448.89" cy="309.87" r="0.8"/><circle cx="442.86" cy="310.93" r="0.8"/><circle cx="443.93" cy="311.10" r="0.8"/><circle cx="444.65" cy="310.99" r="0.8"/><circle cx="446.18" cy="311.08" r="0.8"/><circle cx="446.83" cy="310.63" r="0.8"/><circle cx="448.17" cy="310.66" r="0.8"/><circle cx="449.15" cy="310.90" r="0.8"/><circle cx="442.66" cy="312.31" r="0.8"/><circle cx="444.85" cy="312.04" r="0.8"/><circle cx="446.10" cy="312.12" r="0.8"/><circle cx="446.75" cy="311.98" r="0.8"/><circle cx="448.03" cy="311.64" r="0.8"/><circle cx="448.99" cy="311.74" r="0.8"/><circle cx="442.76" cy="313.19" r="0.8"/><circle cx="443.86" cy="313.31" r="0.8"/><circle cx="444.71" cy="312.79" r="0.8"/><circle cx="445.68" cy="312.69" r="0.8"/><circle cx="446.70" cy="313.05" r="0.8"/><circle cx="447.95" cy="312.68" r="0.8"/><circle cx="448.85" cy="312.74" r="0.8"/><circle cx="442.48" cy="314.01" r="0.8"/><circle cx="443.75" cy="313.84" r="0.8"/><circle cx="445.09" cy="313.95" r="0.8"/><circle cx="446.20" cy="313.78" r="0.8"/><circle cx="447.10" cy="314.06" r="0.8"/><circle cx="449.18" cy="314.36" r="0.8"/><circle cx="443.73" cy="315.13" r="0.8"/><circle cx="444.74" cy="314.95" r="0.8"/><circle cx="445.67" cy="314.87" r="0.8"/><circle cx="447.87" cy="315.46" r="0.8"/><circle cx="448.98" cy="314.85" r="0.8"/><circle cx="462.31" cy="301.55" r="0.8"/><circle cx="461.48" cy="303.15" r="0.8"/><circle cx="461.94" cy="302.99" r="0.8"/><circle cx="463.43" cy="303.09" r="0.8"/><circle cx="462.58" cy="303.77" r="0.8"/><circle cx="463.33" cy="304.23" r="0.8"/><circle cx="461.26" cy="304.66" r="0.8"/><circle cx="462.38" cy="304.71" r="0.8"/><circle cx="463.22" cy="304.90" r="0.8"/><circle cx="461.19" cy="306.05" r="0.8"/><circle cx="461.40" cy="307.21" r="0.8"/><circle cx="462.56" cy="307.42" r="0.8"/><circle cx="463.66" cy="307.29" r="0.8"/><circle cx="461.13" cy="307.89" r="0.8"/><circle cx="462.02" cy="308.11" r="0.8"/><circle cx="463.48" cy="307.92" r="0.8"/><circle cx="461.31" cy="309.21" r="0.8"/><circle cx="462.05" cy="309.16" r="0.8"/><circle cx="464.20" cy="309.06" r="0.8"/><circle cx="461.21" cy="310.23" r="0.8"/><circle cx="461.93" cy="309.95" r="0.8"/><circle cx="464.23" cy="310.19" r="0.8"/><circle cx="461.01" cy="311.15" r="0.8"/><circle cx="462.15" cy="311.29" r="0.8"/><circle cx="463.33" cy="311.52" r="0.8"/><circle cx="460.97" cy="312.60" r="0.8"/><circle cx="461.96" cy="312.67" r="0.8"/><circle cx="463.36" cy="312.39" r="0.8"/><circle cx="464.26" cy="312.23" r="0.8"/><circle cx="461.20" cy="313.67" r="0.8"/><circle cx="462.17" cy="313.46" r="0.8"/><circle cx="464.51" cy="313.35" r="0.8"/><circle cx="461.10" cy="314.60" r="0.8"/><circle cx="462.22" cy="314.18" r="0.8"/><circle cx="463.47" cy="314.47" r="0.8"/><circle cx="464.69" cy="314.25" r="0.8"/><circle cx="462.59" cy="315.53" r="0.8"/><circle cx="465.33" cy="315.45" r="0.8"/><circle cx="476.81" cy="294.85" r="0.8"/><circle cx="477.71" cy="294.39" r="0.8"/><circle cx="475.60" cy="295.79" r="0.8"/><circle cx="476.49" cy="296.05" r="0.8"/><circle cx="477.89" cy="295.71" r="0.8"/><circle cx="478.81" cy="295.93" r="0.8"/><circle cx="475.41" cy="296.48" r="0.8"/><circle cx="477.04" cy="297.00" r="0.8"/><circle cx="477.76" cy="296.77" r="0.8"/><circle cx="478.72" cy="296.72" r="0.8"/><circle cx="474.72" cy="297.78" r="0.8"/><circle cx="475.99" cy="297.57" r="0.8"/><circle cx="477.86" cy="297.91" r="0.8"/><circle cx="478.96" cy="298.14" r="0.8"/><circle cx="473.50" cy="299.06" r="0.8"/><circle cx="474.96" cy="298.69" r="0.8"/><circle cx="475.86" cy="299.21" r="0.8"/><circle cx="476.98" cy="298.65" r="0.8"/><circle cx="477.71" cy="299.06" r="0.8"/><circle cx="478.66" cy="298.76" r="0.8"/><circle cx="473.78" cy="299.97" r="0.8"/><circle cx="474.35" cy="299.78" r="0.8"/><circle cx="475.70" cy="300.24" r="0.8"/><circle cx="476.80" cy="300.31" r="0.8"/><circle cx="477.76" cy="300.00" r="0.8"/><circle cx="479.13" cy="299.73" r="0.8"/><circle cx="472.43" cy="300.79" r="0.8"/><circle cx="473.71" cy="300.73" r="0.8"/><circle cx="475.53" cy="300.87" r="0.8"/><circle cx="476.77" cy="301.31" r="0.8"/><circle cx="477.88" cy="301.11" r="0.8"/><circle cx="478.77" cy="300.99" r="0.8"/><circle cx="472.56" cy="301.77" r="0.8"/><circle cx="473.85" cy="302.03" r="0.8"/><circle cx="474.77" cy="301.75" r="0.8"/><circle cx="475.85" cy="301.80" r="0.8"/><circle cx="477.02" cy="301.91" r="0.8"/><circle cx="477.72" cy="302.11" r="0.8"/><circle cx="478.77" cy="302.37" r="0.8"/><circle cx="471.87" cy="303.01" r="0.8"/><circle cx="472.48" cy="303.38" r="0.8"/><circle cx="473.75" cy="302.90" r="0.8"/><circle cx="474.51" cy="303.41" r="0.8"/><circle cx="476.04" cy="303.17" r="0.8"/><circle cx="476.81" cy="303.43" r="0.8"/><circle cx="478.05" cy="303.17" r="0.8"/><circle cx="478.62" cy="303.36" r="0.8"/><circle cx="471.63" cy="304.04" r="0.8"/><circle cx="472.59" cy="304.05" r="0.8"/><circle cx="474.80" cy="304.41" r="0.8"/><circle cx="475.64" cy="304.49" r="0.8"/><circle cx="477.78" cy="304.18" r="0.8"/><circle cx="479.15" cy="304.41" r="0.8"/><circle cx="471.50" cy="305.44" r="0.8"/><circle cx="472.51" cy="305.05" r="0.8"/><circle cx="473.52" cy="305.30" r="0.8"/><circle cx="475.46" cy="304.88" r="0.8"/><circle cx="476.75" cy="305.18" r="0.8"/><circle cx="477.55" cy="304.88" r="0.8"/><circle cx="471.40" cy="306.26" r="0.8"/><circle cx="472.38" cy="306.38" r="0.8"/><circle cx="473.96" cy="305.99" r="0.8"/><circle cx="474.40" cy="306.13" r="0.8"/><circle cx="475.40" cy="306.49" r="0.8"/><circle cx="476.95" cy="306.49" r="0.8"/><circle cx="477.49" cy="306.34" r="0.8"/><circle cx="478.97" cy="306.35" r="0.8"/><circle cx="471.75" cy="307.35" r="0.8"/><circle cx="472.57" cy="307.31" r="0.8"/><circle cx="473.75" cy="307.56" r="0.8"/><circle cx="474.33" cy="307.26" r="0.8"/><circle cx="475.47" cy="307.33" r="0.8"/><circle cx="476.80" cy="307.21" r="0.8"/><circle cx="477.97" cy="307.09" r="0.8"/><circle cx="478.89" cy="307.48" r="0.8"/><circle cx="471.86" cy="308.55" r="0.8"/><circle cx="472.35" cy="308.53" r="0.8"/><circle cx="473.77" cy="308.51" r="0.8"/><circle cx="474.99" cy="308.33" r="0.8"/><circle cx="475.88" cy="308.13" r="0.8"/><circle cx="478.10" cy="308.13" r="0.8"/><circle cx="478.94" cy="308.19" r="0.8"/><circle cx="471.32" cy="309.58" r="0.8"/><circle cx="472.71" cy="309.17" r="0.8"/><circle cx="473.68" cy="309.13" r="0.8"/><circle cx="474.71" cy="309.73" r="0.8"/><circle cx="475.83" cy="309.65" r="0.8"/><circle cx="476.63" cy="309.12" r="0.8"/><circle cx="477.94" cy="309.52" r="0.8"/><circle cx="478.84" cy="309.72" r="0.8"/><circle cx="471.27" cy="310.79" r="0.8"/><circle cx="472.85" cy="310.81" r="0.8"/><circle cx="473.38" cy="310.47" r="0.8"/><circle cx="474.60" cy="310.68" r="0.8"/><circle cx="476.05" cy="310.27" r="0.8"/><circle cx="477.01" cy="310.29" r="0.8"/><circle cx="477.67" cy="310.41" r="0.8"/><circle cx="478.70" cy="310.70" r="0.8"/><circle cx="473.29" cy="311.48" r="0.8"/><circle cx="474.71" cy="311.85" r="0.8"/><circle cx="476.61" cy="311.46" r="0.8"/><circle cx="477.75" cy="311.70" r="0.8"/><circle cx="478.65" cy="311.55" r="0.8"/><circle cx="472.30" cy="312.53" r="0.8"/><circle cx="473.84" cy="312.52" r="0.8"/><circle cx="474.94" cy="312.43" r="0.8"/><circle cx="476.06" cy="312.44" r="0.8"/><circle cx="476.88" cy="312.46" r="0.8"/><circle cx="477.77" cy="312.81" r="0.8"/><circle cx="479.03" cy="312.63" r="0.8"/><circle cx="482.70" cy="294.53" r="0.8"/><circle cx="482.38" cy="295.49" r="0.8"/><circle cx="482.42" cy="296.10" r="0.8"/><circle cx="483.73" cy="296.19" r="0.8"/><circle cx="481.39" cy="297.62" r="0.8"/><circle cx="482.61" cy="297.44" r="0.8"/><circle cx="483.29" cy="297.46" r="0.8"/><circle cx="484.25" cy="297.12" r="0.8"/><circle cx="481.42" cy="298.41" r="0.8"/><circle cx="482.53" cy="298.38" r="0.8"/><circle cx="483.18" cy="298.55" r="0.8"/><circle cx="484.29" cy="298.59" r="0.8"/><circle cx="481.66" cy="299.56" r="0.8"/><circle cx="483.23" cy="299.69" r="0.8"/><circle cx="484.39" cy="299.66" r="0.8"/><circle cx="481.45" cy="300.38" r="0.8"/><circle cx="481.11" cy="301.45" r="0.8"/><circle cx="482.13" cy="301.44" r="0.8"/><circle cx="483.09" cy="301.70" r="0.8"/><circle cx="481.12" cy="302.34" r="0.8"/><circle cx="483.28" cy="302.98" r="0.8"/><circle cx="484.50" cy="302.42" r="0.8"/><circle cx="481.59" cy="303.95" r="0.8"/><circle cx="482.67" cy="303.54" r="0.8"/><circle cx="483.17" cy="303.83" r="0.8"/><circle cx="484.38" cy="303.87" r="0.8"/><circle cx="481.40" cy="304.72" r="0.8"/><circle cx="482.57" cy="304.55" r="0.8"/><circle cx="483.61" cy="304.73" r="0.8"/><circle cx="484.27" cy="304.52" r="0.8"/><circle cx="481.23" cy="305.87" r="0.8"/><circle cx="482.21" cy="305.59" r="0.8"/><circle cx="483.38" cy="305.58" r="0.8"/><circle cx="481.14" cy="306.64" r="0.8"/><circle cx="482.57" cy="306.55" r="0.8"/><circle cx="481.04" cy="307.76" r="0.8"/><circle cx="483.71" cy="308.16" r="0.8"/><circle cx="481.27" cy="309.21" r="0.8"/><circle cx="482.20" cy="308.64" r="0.8"/><circle cx="483.46" cy="308.77" r="0.8"/><circle cx="484.57" cy="308.75" r="0.8"/><circle cx="481.59" cy="309.97" r="0.8"/><circle cx="482.42" cy="309.88" r="0.8"/><circle cx="483.57" cy="310.07" r="0.8"/><circle cx="484.30" cy="310.18" r="0.8"/><circle cx="482.43" cy="310.88" r="0.8"/><circle cx="483.48" cy="310.94" r="0.8"/><circle cx="484.50" cy="310.76" r="0.8"/><circle cx="481.26" cy="311.88" r="0.8"/><circle cx="482.44" cy="312.21" r="0.8"/><circle cx="484.67" cy="311.86" r="0.8"/><circle cx="486.93" cy="298.05" r="0.8"/><circle cx="488.09" cy="297.69" r="0.8"/><circle cx="488.77" cy="297.80" r="0.8"/><circle cx="487.52" cy="298.84" r="0.8"/><circle cx="488.63" cy="299.14" r="0.8"/><circle cx="486.80" cy="300.17" r="0.8"/><circle cx="487.46" cy="299.90" r="0.8"/><circle cx="488.75" cy="299.80" r="0.8"/><circle cx="486.86" cy="300.97" r="0.8"/><circle cx="488.06" cy="300.75" r="0.8"/><circle cx="488.61" cy="301.07" r="0.8"/><circle cx="486.61" cy="302.01" r="0.8"/><circle cx="487.43" cy="301.66" r="0.8"/><circle cx="489.08" cy="301.69" r="0.8"/><circle cx="489.82" cy="302.21" r="0.8"/><circle cx="487.04" cy="302.74" r="0.8"/><circle cx="488.90" cy="303.36" r="0.8"/><circle cx="489.02" cy="304.37" r="0.8"/><circle cx="489.80" cy="304.26" r="0.8"/><circle cx="487.02" cy="305.08" r="0.8"/><circle cx="487.54" cy="304.97" r="0.8"/><circle cx="486.59" cy="305.83" r="0.8"/><circle cx="488.00" cy="306.50" r="0.8"/><circle cx="487.01" cy="307.45" r="0.8"/><circle cx="487.63" cy="306.95" r="0.8"/><circle cx="488.66" cy="307.01" r="0.8"/><circle cx="489.75" cy="307.03" r="0.8"/><circle cx="487.43" cy="307.93" r="0.8"/><circle cx="488.50" cy="308.32" r="0.8"/><circle cx="489.85" cy="308.36" r="0.8"/><circle cx="486.53" cy="309.56" r="0.8"/><circle cx="489.13" cy="309.66" r="0.8"/><circle cx="489.91" cy="309.26" r="0.8"/><circle cx="486.49" cy="310.18" r="0.8"/><circle cx="487.81" cy="310.72" r="0.8"/><circle cx="488.48" cy="310.30" r="0.8"/><circle cx="486.74" cy="311.49" r="0.8"/><circle cx="487.65" cy="311.50" r="0.8"/><circle cx="486.61" cy="312.58" r="0.8"/><circle cx="487.90" cy="312.60" r="0.8"/><circle cx="488.98" cy="312.37" r="0.8"/><circle cx="489.59" cy="312.51" r="0.8"/><circle cx="479.97" cy="300.38" r="0.8"/><circle cx="480.07" cy="301.91" r="0.8"/><circle cx="480.16" cy="302.56" r="0.8"/><circle cx="480.34" cy="303.69" r="0.8"/><circle cx="480.02" cy="304.50" r="0.8"/><circle cx="479.84" cy="305.62" r="0.8"/><circle cx="480.07" cy="306.88" r="0.8"/><circle cx="480.30" cy="307.84" r="0.8"/><circle cx="480.33" cy="310.10" r="0.8"/><circle cx="480.16" cy="310.86" r="0.8"/><circle cx="485.03" cy="303.20" r="0.8"/><circle cx="485.05" cy="305.93" r="0.8"/><circle cx="485.16" cy="306.63" r="0.8"/><circle cx="484.93" cy="310.68" r="0.8"/><circle cx="485.06" cy="312.01" r="0.8"/><circle cx="472.89" cy="312.67" r="0.8"/><circle cx="487.90" cy="313.47" r="0.8"/><circle cx="478.59" cy="312.18" r="0.8"/><circle cx="472.07" cy="312.54" r="0.8"/><circle cx="482.71" cy="312.14" r="0.8"/><circle cx="480.55" cy="314.04" r="0.8"/><circle cx="471.04" cy="312.72" r="0.8"/><circle cx="478.86" cy="313.52" r="0.8"/><circle cx="484.98" cy="313.70" r="0.8"/><circle cx="479.25" cy="312.85" r="0.8"/><circle cx="482.90" cy="313.15" r="0.8"/><circle cx="488.65" cy="313.32" r="0.8"/><circle cx="492.7" cy="311.9" r="0.9"/><circle cx="450.69" cy="314.00" r="0.75"/><circle cx="445.64" cy="313.22" r="0.75"/><circle cx="454.52" cy="313.70" r="0.75"/><circle cx="470.93" cy="312.37" r="0.75"/><circle cx="446.23" cy="315.39" r="0.75"/><circle cx="461.91" cy="313.49" r="0.75"/><circle cx="436.91" cy="311.80" r="0.75"/><circle cx="442.38" cy="312.92" r="0.75"/><circle cx="443.19" cy="312.15" r="0.75"/><circle cx="445.55" cy="313.58" r="0.75"/><circle cx="427.00" cy="313.96" r="0.75"/><circle cx="456.79" cy="311.88" r="0.75"/><circle cx="434.19" cy="311.17" r="0.75"/><circle cx="445.11" cy="314.04" r="0.75"/><circle cx="442.18" cy="313.65" r="0.75"/><circle cx="451.65" cy="311.20" r="0.75"/><circle cx="424.63" cy="313.28" r="0.75"/><circle cx="467.31" cy="314.18" r="0.75"/><circle cx="443.84" cy="312.17" r="0.75"/><circle cx="428.46" cy="313.91" r="0.75"/><circle cx="459.46" cy="312.77" r="0.75"/><circle cx="426.18" cy="312.25" r="0.75"/><circle cx="456.65" cy="314.47" r="0.75"/><circle cx="441.61" cy="314.99" r="0.75"/><circle cx="441.10" cy="311.11" r="0.75"/><circle cx="432.03" cy="315.01" r="0.75"/><circle cx="456.57" cy="311.39" r="0.75"/><circle cx="436.03" cy="312.78" r="0.75"/><circle cx="445.58" cy="311.11" r="0.75"/><circle cx="467.17" cy="313.39" r="0.75"/><circle cx="472.65" cy="312.60" r="0.75"/><circle cx="481.56" cy="315.58" r="0.75"/><circle cx="485.84" cy="315.33" r="0.75"/><circle cx="490.33" cy="314.69" r="0.75"/><circle cx="466.66" cy="313.53" r="0.75"/><circle cx="481.87" cy="313.87" r="0.75"/><circle cx="471.30" cy="312.72" r="0.75"/><circle cx="490.10" cy="314.70" r="0.75"/><circle cx="473.67" cy="314.05" r="0.75"/><circle cx="490.30" cy="312.98" r="0.75"/><circle cx="483.24" cy="313.27" r="0.75"/><circle cx="491.24" cy="315.14" r="0.75"/><circle cx="492.49" cy="313.76" r="0.75"/><circle cx="479.72" cy="313.56" r="0.75"/><polygon points="422.00,315.30 430.00,315.00 440.00,315.80 448.80,316.20 460.00,316.10 470.00,315.90 480.00,316.20 494.00,316.00 494.00,320.00 480.00,320.30 470.00,320.60 460.00,320.20 448.00,320.70 440.00,320.20 430.00,320.70 422.00,320.40" fill="url(#bI28)"/><g fill="#fff"><circle cx="447.59" cy="319.90" r="0.45"/><circle cx="490.88" cy="319.99" r="0.45"/><circle cx="486.58" cy="318.88" r="0.45"/><circle cx="469.23" cy="319.80" r="0.45"/><circle cx="453.16" cy="319.82" r="0.45"/><circle cx="478.81" cy="318.42" r="0.45"/><circle cx="448.17" cy="319.32" r="0.45"/><circle cx="434.48" cy="318.36" r="0.45"/><circle cx="436.56" cy="318.03" r="0.45"/><circle cx="486.58" cy="319.99" r="0.45"/><circle cx="480.43" cy="318.91" r="0.45"/><circle cx="475.23" cy="319.31" r="0.45"/><circle cx="453.89" cy="318.94" r="0.45"/><circle cx="431.94" cy="318.33" r="0.45"/><circle cx="447.07" cy="318.59" r="0.45"/><circle cx="469.14" cy="318.33" r="0.45"/><circle cx="439.64" cy="319.72" r="0.45"/><circle cx="477.74" cy="319.85" r="0.45"/></g></g><rect x="419.3" y="292.3" width="77.30" height="28.90" fill="none" stroke="#9a9a9a" stroke-width="1"/><line x1="416.70" y1="292.7" x2="419.3" y2="292.7" stroke="#333" stroke-width="0.9"/><line x1="416.70" y1="302.9" x2="419.3" y2="302.9" stroke="#333" stroke-width="0.9"/><line x1="416.70" y1="313.1" x2="419.3" y2="313.1" stroke="#333" stroke-width="0.9"/><line x1="422.3" y1="321.2" x2="422.3" y2="323.80" stroke="#333" stroke-width="0.9"/><line x1="442.3" y1="321.2" x2="442.3" y2="323.80" stroke="#333" stroke-width="0.9"/><line x1="461.6" y1="321.2" x2="461.6" y2="323.80" stroke="#333" stroke-width="0.9"/><line x1="481.4" y1="321.2" x2="481.4" y2="323.80" stroke="#333" stroke-width="0.9"/><g style="font-family:&quot;Liberation Sans&quot;,sans-serif;font-size:8.5px" fill="#5c5c5c" stroke="#5c5c5c" stroke-width="0.08"><text x="414.3" y="295.70" text-anchor="end" textLength="17.20" lengthAdjust="spacingAndGlyphs">1990</text><text x="414.3" y="305.90" text-anchor="end" textLength="17.20" lengthAdjust="spacingAndGlyphs">1980</text><text x="414.3" y="316.10" text-anchor="end" textLength="17.20" lengthAdjust="spacingAndGlyphs">1970</text><text x="422.3" y="333.00" text-anchor="middle" textLength="4.30" lengthAdjust="spacingAndGlyphs">0</text><text x="442.3" y="333.00" text-anchor="middle" textLength="8.60" lengthAdjust="spacingAndGlyphs">20</text><text x="461.6" y="333.00" text-anchor="middle" textLength="8.60" lengthAdjust="spacingAndGlyphs">40</text><text x="481.4" y="333.00" text-anchor="middle" textLength="8.60" lengthAdjust="spacingAndGlyphs">60</text></g><text transform="translate(392.70,307.00) rotate(-90)" x="0" y="0" text-anchor="middle" textLength="41.0" lengthAdjust="spacingAndGlyphs" style="font-family:&quot;Liberation Sans&quot;,sans-serif;font-size:10.3px" fill="#1a1a1a">Elevation</text><text x="458.3" y="344.40" text-anchor="middle" style="font-family:&quot;Liberation Sans&quot;,sans-serif;font-size:10.4px" fill="#000">X</text><rect x="512" y="286.6" width="10.40" height="55.40" fill="url(#cI)"/><g style="font-family:&quot;Liberation Sans&quot;,sans-serif;font-size:8.7px" fill="#1a1a1a" stroke="#1a1a1a" stroke-width="0.08"><text x="528.0" y="308.60" textLength="17.60" lengthAdjust="spacingAndGlyphs">1980</text><text x="528.0" y="329.20" textLength="17.60" lengthAdjust="spacingAndGlyphs">1970</text></g><text x="512.4" y="280.40" style="font-family:&quot;Liberation Sans&quot;,sans-serif;font-size:10.4px" fill="#000">Z</text><text x="46" y="363.20000000000005" textLength="84.4" lengthAdjust="spacingAndGlyphs" style="font-family:&quot;Liberation Serif&quot;,serif;font-size:11.6px" fill="#000">(<tspan font-weight="bold">d</tspan>) CS ratio = 0.25</text><line x1="52.90" y1="391.3" x2="52.90" y2="421.8" stroke="#f2f2f2" stroke-width="0.6"/><line x1="72.55" y1="391.3" x2="72.55" y2="421.8" stroke="#f2f2f2" stroke-width="0.6"/><line x1="92.30" y1="391.3" x2="92.30" y2="421.8" stroke="#f2f2f2" stroke-width="0.6"/><line x1="111.80" y1="391.3" x2="111.80" y2="421.8" stroke="#f2f2f2" stroke-width="0.6"/><line x1="40.3" y1="394.00" x2="117.3" y2="394.00" stroke="#f2f2f2" stroke-width="0.6"/><line x1="40.3" y1="399.00" x2="117.3" y2="399.00" stroke="#f2f2f2" stroke-width="0.6"/><line x1="40.3" y1="403.95" x2="117.3" y2="403.95" stroke="#f2f2f2" stroke-width="0.6"/><line x1="40.3" y1="408.90" x2="117.3" y2="408.90" stroke="#f2f2f2" stroke-width="0.6"/><line x1="40.3" y1="413.85" x2="117.3" y2="413.85" stroke="#f2f2f2" stroke-width="0.6"/><line x1="40.3" y1="418.80" x2="117.3" y2="418.80" stroke="#f2f2f2" stroke-width="0.6"/><line x1="43.20" y1="391.3" x2="43.20" y2="421.8" stroke="#e6e6e6" stroke-width="0.8"/><line x1="62.60" y1="391.3" x2="62.60" y2="421.8" stroke="#e6e6e6" stroke-width="0.8"/><line x1="82.50" y1="391.3" x2="82.50" y2="421.8" stroke="#e6e6e6" stroke-width="0.8"/><line x1="102.10" y1="391.3" x2="102.10" y2="421.8" stroke="#e6e6e6" stroke-width="0.8"/><line x1="40.3" y1="391.50" x2="117.3" y2="391.50" stroke="#e6e6e6" stroke-width="0.8"/><line x1="40.3" y1="396.50" x2="117.3" y2="396.50" stroke="#e6e6e6" stroke-width="0.8"/><line x1="40.3" y1="401.50" x2="117.3" y2="401.50" stroke="#e6e6e6" stroke-width="0.8"/><line x1="40.3" y1="406.40" x2="117.3" y2="406.40" stroke="#e6e6e6" stroke-width="0.8"/><line x1="40.3" y1="411.40" x2="117.3" y2="411.40" stroke="#e6e6e6" stroke-width="0.8"/><line x1="40.3" y1="416.30" x2="117.3" y2="416.30" stroke="#e6e6e6" stroke-width="0.8"/><line x1="40.3" y1="421.30" x2="117.3" y2="421.30" stroke="#e6e6e6" stroke-width="0.8"/><g clip-path="url(#kJ)" fill="url(#gJ)" stroke="none"><circle cx="46.84" cy="397.84" r="0.8"/><circle cx="46.39" cy="398.94" r="0.8"/><circle cx="47.64" cy="398.62" r="0.8"/><circle cx="45.47" cy="399.69" r="0.8"/><circle cx="46.90" cy="400.15" r="0.8"/><circle cx="47.73" cy="399.75" r="0.8"/><circle cx="45.80" cy="401.06" r="0.8"/><circle cx="46.74" cy="400.70" r="0.8"/><circle cx="47.78" cy="401.20" r="0.8"/><circle cx="48.67" cy="401.16" r="0.8"/><circle cx="44.39" cy="402.14" r="0.8"/><circle cx="45.55" cy="401.84" r="0.8"/><circle cx="46.47" cy="402.06" r="0.8"/><circle cx="47.45" cy="401.85" r="0.8"/><circle cx="49.12" cy="401.84" r="0.8"/><circle cx="44.56" cy="402.75" r="0.8"/><circle cx="45.52" cy="403.09" r="0.8"/><circle cx="46.61" cy="402.89" r="0.8"/><circle cx="47.52" cy="403.06" r="0.8"/><circle cx="48.52" cy="403.31" r="0.8"/><circle cx="44.53" cy="404.07" r="0.8"/><circle cx="45.60" cy="403.88" r="0.8"/><circle cx="46.69" cy="404.17" r="0.8"/><circle cx="47.72" cy="404.14" r="0.8"/><circle cx="49.11" cy="403.82" r="0.8"/><circle cx="43.73" cy="405.33" r="0.8"/><circle cx="44.62" cy="405.05" r="0.8"/><circle cx="45.79" cy="405.10" r="0.8"/><circle cx="49.55" cy="405.29" r="0.8"/><circle cx="43.21" cy="405.84" r="0.8"/><circle cx="44.59" cy="406.09" r="0.8"/><circle cx="46.48" cy="406.27" r="0.8"/><circle cx="47.70" cy="405.99" r="0.8"/><circle cx="48.64" cy="405.97" r="0.8"/><circle cx="50.09" cy="406.04" r="0.8"/><circle cx="43.84" cy="407.48" r="0.8"/><circle cx="44.46" cy="407.41" r="0.8"/><circle cx="45.30" cy="407.09" r="0.8"/><circle cx="46.71" cy="407.49" r="0.8"/><circle cx="47.96" cy="407.51" r="0.8"/><circle cx="49.06" cy="406.83" r="0.8"/><circle cx="49.54" cy="407.17" r="0.8"/><circle cx="43.33" cy="408.05" r="0.8"/><circle cx="44.59" cy="407.89" r="0.8"/><circle cx="45.94" cy="408.07" r="0.8"/><circle cx="46.64" cy="408.50" r="0.8"/><circle cx="47.64" cy="408.34" r="0.8"/><circle cx="48.47" cy="408.14" r="0.8"/><circle cx="49.57" cy="407.91" r="0.8"/><circle cx="43.23" cy="409.13" r="0.8"/><circle cx="44.68" cy="409.13" r="0.8"/><circle cx="45.51" cy="409.33" r="0.8"/><circle cx="46.76" cy="408.93" r="0.8"/><circle cx="48.81" cy="409.06" r="0.8"/><circle cx="49.66" cy="409.37" r="0.8"/><circle cx="43.56" cy="410.22" r="0.8"/><circle cx="44.58" cy="410.66" r="0.8"/><circle cx="45.80" cy="410.20" r="0.8"/><circle cx="46.51" cy="410.48" r="0.8"/><circle cx="47.59" cy="410.29" r="0.8"/><circle cx="48.49" cy="410.61" r="0.8"/><circle cx="49.75" cy="410.44" r="0.8"/><circle cx="44.64" cy="411.45" r="0.8"/><circle cx="45.63" cy="411.55" r="0.8"/><circle cx="46.84" cy="411.50" r="0.8"/><circle cx="47.66" cy="411.38" r="0.8"/><circle cx="48.96" cy="411.10" r="0.8"/><circle cx="49.66" cy="411.14" r="0.8"/><circle cx="43.69" cy="412.50" r="0.8"/><circle cx="44.84" cy="412.12" r="0.8"/><circle cx="45.43" cy="412.49" r="0.8"/><circle cx="46.97" cy="412.24" r="0.8"/><circle cx="48.02" cy="412.58" r="0.8"/><circle cx="48.69" cy="412.59" r="0.8"/><circle cx="49.98" cy="412.23" r="0.8"/><circle cx="50.58" cy="412.71" r="0.8"/><circle cx="43.19" cy="413.24" r="0.8"/><circle cx="45.48" cy="413.69" r="0.8"/><circle cx="46.50" cy="413.61" r="0.8"/><circle cx="47.47" cy="413.72" r="0.8"/><circle cx="48.60" cy="413.42" r="0.8"/><circle cx="49.73" cy="413.31" r="0.8"/><circle cx="53.65" cy="400.51" r="0.8"/><circle cx="54.71" cy="400.22" r="0.8"/><circle cx="53.41" cy="401.76" r="0.8"/><circle cx="54.71" cy="401.17" r="0.8"/><circle cx="53.37" cy="402.14" r="0.8"/><circle cx="54.37" cy="402.29" r="0.8"/><circle cx="55.22" cy="402.71" r="0.8"/><circle cx="53.26" cy="403.28" r="0.8"/><circle cx="54.27" cy="403.61" r="0.8"/><circle cx="53.38" cy="404.28" r="0.8"/><circle cx="54.66" cy="404.64" r="0.8"/><circle cx="55.57" cy="404.28" r="0.8"/><circle cx="54.55" cy="405.84" r="0.8"/><circle cx="55.53" cy="405.51" r="0.8"/><circle cx="53.36" cy="406.78" r="0.8"/><circle cx="54.30" cy="406.36" r="0.8"/><circle cx="55.77" cy="406.71" r="0.8"/><circle cx="54.64" cy="407.47" r="0.8"/><circle cx="55.62" cy="407.78" r="0.8"/><circle cx="52.21" cy="408.54" r="0.8"/><circle cx="53.10" cy="408.77" r="0.8"/><circle cx="54.36" cy="408.88" r="0.8"/><circle cx="55.56" cy="408.47" r="0.8"/><circle cx="52.61" cy="409.90" r="0.8"/><circle cx="53.65" cy="410.00" r="0.8"/><circle cx="54.10" cy="409.49" r="0.8"/><circle cx="55.72" cy="409.75" r="0.8"/><circle cx="56.48" cy="410.06" r="0.8"/><circle cx="52.07" cy="410.67" r="0.8"/><circle cx="53.55" cy="410.70" r="0.8"/><circle cx="55.26" cy="410.82" r="0.8"/><circle cx="52.24" cy="411.60" r="0.8"/><circle cx="53.72" cy="412.18" r="0.8"/><circle cx="54.69" cy="412.21" r="0.8"/><circle cx="55.63" cy="411.97" r="0.8"/><circle cx="56.68" cy="412.00" r="0.8"/><circle cx="53.65" cy="413.15" r="0.8"/><circle cx="54.67" cy="412.83" r="0.8"/><circle cx="55.53" cy="413.30" r="0.8"/><circle cx="56.77" cy="413.09" r="0.8"/><circle cx="58.2" cy="406.8" r="0.8"/><circle cx="67.42" cy="393.90" r="0.8"/><circle cx="69.10" cy="393.66" r="0.8"/><circle cx="69.50" cy="394.08" r="0.8"/><circle cx="66.38" cy="394.93" r="0.8"/><circle cx="67.54" cy="394.51" r="0.8"/><circle cx="68.95" cy="394.66" r="0.8"/><circle cx="65.92" cy="395.90" r="0.8"/><circle cx="66.39" cy="395.70" r="0.8"/><circle cx="68.62" cy="395.89" r="0.8"/><circle cx="66.35" cy="397.26" r="0.8"/><circle cx="67.50" cy="397.20" r="0.8"/><circle cx="68.87" cy="396.59" r="0.8"/><circle cx="64.77" cy="397.94" r="0.8"/><circle cx="65.91" cy="398.31" r="0.8"/><circle cx="66.58" cy="398.18" r="0.8"/><circle cx="68.03" cy="397.86" r="0.8"/><circle cx="68.60" cy="398.13" r="0.8"/><circle cx="69.77" cy="398.13" r="0.8"/><circle cx="64.76" cy="399.15" r="0.8"/><circle cx="65.84" cy="398.84" r="0.8"/><circle cx="66.33" cy="398.92" r="0.8"/><circle cx="67.56" cy="399.23" r="0.8"/><circle cx="68.73" cy="399.15" r="0.8"/><circle cx="69.94" cy="398.96" r="0.8"/><circle cx="64.70" cy="400.33" r="0.8"/><circle cx="65.82" cy="400.31" r="0.8"/><circle cx="66.70" cy="399.84" r="0.8"/><circle cx="67.44" cy="399.80" r="0.8"/><circle cx="68.63" cy="400.12" r="0.8"/><circle cx="69.66" cy="400.35" r="0.8"/><circle cx="64.27" cy="400.93" r="0.8"/><circle cx="65.28" cy="400.79" r="0.8"/><circle cx="66.93" cy="401.38" r="0.8"/><circle cx="67.39" cy="401.38" r="0.8"/><circle cx="68.67" cy="401.27" r="0.8"/><circle cx="69.71" cy="400.88" r="0.8"/><circle cx="63.67" cy="402.46" r="0.8"/><circle cx="64.38" cy="402.19" r="0.8"/><circle cx="65.62" cy="402.18" r="0.8"/><circle cx="66.41" cy="402.12" r="0.8"/><circle cx="67.47" cy="402.20" r="0.8"/><circle cx="68.82" cy="402.07" r="0.8"/><circle cx="63.87" cy="403.08" r="0.8"/><circle cx="64.54" cy="403.46" r="0.8"/><circle cx="65.66" cy="403.24" r="0.8"/><circle cx="67.47" cy="403.00" r="0.8"/><circle cx="68.49" cy="403.56" r="0.8"/><circle cx="70.03" cy="403.19" r="0.8"/><circle cx="63.33" cy="404.55" r="0.8"/><circle cx="64.51" cy="404.44" r="0.8"/><circle cx="65.97" cy="404.26" r="0.8"/><circle cx="66.90" cy="404.22" r="0.8"/><circle cx="67.71" cy="404.14" r="0.8"/><circle cx="68.97" cy="404.17" r="0.8"/><circle cx="69.69" cy="404.00" r="0.8"/><circle cx="63.72" cy="405.47" r="0.8"/><circle cx="64.35" cy="405.33" r="0.8"/><circle cx="65.82" cy="405.39" r="0.8"/><circle cx="66.44" cy="405.01" r="0.8"/><circle cx="67.39" cy="405.15" r="0.8"/><circle cx="68.92" cy="405.46" r="0.8"/><circle cx="70.13" cy="405.17" r="0.8"/><circle cx="63.26" cy="406.26" r="0.8"/><circle cx="64.90" cy="406.43" r="0.8"/><circle cx="65.32" cy="406.66" r="0.8"/><circle cx="66.86" cy="406.17" r="0.8"/><circle cx="67.47" cy="406.40" r="0.8"/><circle cx="68.83" cy="406.53" r="0.8"/><circle cx="69.57" cy="406.39" r="0.8"/><circle cx="63.49" cy="407.33" r="0.8"/><circle cx="64.31" cy="407.58" r="0.8"/><circle cx="65.76" cy="407.52" r="0.8"/><circle cx="66.46" cy="407.71" r="0.8"/><circle cx="67.70" cy="407.26" r="0.8"/><circle cx="69.11" cy="407.36" r="0.8"/><circle cx="69.56" cy="407.49" r="0.8"/><circle cx="63.34" cy="408.34" r="0.8"/><circle cx="64.68" cy="408.41" r="0.8"/><circle cx="65.38" cy="408.72" r="0.8"/><circle cx="66.88" cy="408.40" r="0.8"/><circle cx="68.00" cy="408.57" r="0.8"/><circle cx="68.79" cy="408.62" r="0.8"/><circle cx="63.85" cy="409.42" r="0.8"/><circle cx="64.84" cy="409.76" r="0.8"/><circle cx="66.61" cy="409.84" r="0.8"/><circle cx="67.49" cy="409.30" r="0.8"/><circle cx="68.72" cy="409.44" r="0.8"/><circle cx="69.50" cy="409.41" r="0.8"/><circle cx="63.21" cy="410.56" r="0.8"/><circle cx="65.94" cy="410.83" r="0.8"/><circle cx="66.34" cy="410.27" r="0.8"/><circle cx="67.96" cy="410.46" r="0.8"/><circle cx="68.96" cy="410.60" r="0.8"/><circle cx="69.56" cy="410.61" r="0.8"/><circle cx="63.67" cy="411.91" r="0.8"/><circle cx="64.81" cy="411.50" r="0.8"/><circle cx="65.52" cy="411.84" r="0.8"/><circle cx="66.37" cy="411.61" r="0.8"/><circle cx="67.39" cy="411.31" r="0.8"/><circle cx="68.74" cy="411.28" r="0.8"/><circle cx="70.11" cy="411.66" r="0.8"/><circle cx="64.89" cy="412.81" r="0.8"/><circle cx="65.31" cy="412.43" r="0.8"/><circle cx="66.79" cy="412.53" r="0.8"/><circle cx="67.82" cy="412.98" r="0.8"/><circle cx="69.12" cy="412.70" r="0.8"/><circle cx="69.60" cy="412.82" r="0.8"/><circle cx="64.39" cy="413.48" r="0.8"/><circle cx="65.43" cy="413.67" r="0.8"/><circle cx="66.79" cy="413.54" r="0.8"/><circle cx="67.67" cy="413.49" r="0.8"/><circle cx="68.49" cy="413.38" r="0.8"/><circle cx="69.51" cy="413.71" r="0.8"/><circle cx="73.4" cy="401.6" r="0.8"/><circle cx="82.94" cy="396.46" r="0.8"/><circle cx="82.80" cy="397.66" r="0.8"/><circle cx="82.87" cy="398.30" r="0.8"/><circle cx="83.32" cy="399.92" r="0.8"/><circle cx="83.02" cy="401.05" r="0.8"/><circle cx="82.88" cy="401.46" r="0.8"/><circle cx="84.11" cy="404.10" r="0.8"/><circle cx="82.30" cy="404.83" r="0.8"/><circle cx="83.08" cy="405.23" r="0.8"/><circle cx="82.32" cy="406.02" r="0.8"/><circle cx="83.29" cy="405.93" r="0.8"/><circle cx="84.26" cy="405.93" r="0.8"/><circle cx="82.24" cy="407.29" r="0.8"/><circle cx="84.25" cy="407.06" r="0.8"/><circle cx="81.84" cy="408.05" r="0.8"/><circle cx="83.29" cy="408.22" r="0.8"/><circle cx="83.85" cy="407.82" r="0.8"/><circle cx="82.22" cy="409.02" r="0.8"/><circle cx="83.13" cy="409.21" r="0.8"/><circle cx="83.96" cy="409.02" r="0.8"/><circle cx="82.24" cy="410.09" r="0.8"/><circle cx="83.11" cy="409.99" r="0.8"/><circle cx="84.24" cy="410.43" r="0.8"/><circle cx="82.91" cy="410.94" r="0.8"/><circle cx="84.05" cy="411.38" r="0.8"/><circle cx="82.83" cy="412.19" r="0.8"/><circle cx="83.97" cy="412.33" r="0.8"/><circle cx="81.80" cy="413.17" r="0.8"/><circle cx="84.20" cy="413.20" r="0.8"/><circle cx="96.98" cy="392.95" r="0.8"/><circle cx="96.37" cy="394.21" r="0.8"/><circle cx="97.02" cy="394.10" r="0.8"/><circle cx="97.83" cy="393.57" r="0.8"/><circle cx="96.03" cy="395.16" r="0.8"/><circle cx="96.82" cy="394.72" r="0.8"/><circle cx="98.34" cy="395.07" r="0.8"/><circle cx="95.79" cy="395.96" r="0.8"/><circle cx="97.37" cy="395.63" r="0.8"/><circle cx="97.88" cy="396.01" r="0.8"/><circle cx="99.11" cy="396.30" r="0.8"/><circle cx="95.13" cy="397.27" r="0.8"/><circle cx="95.86" cy="397.03" r="0.8"/><circle cx="97.13" cy="397.37" r="0.8"/><circle cx="98.12" cy="396.82" r="0.8"/><circle cx="99.29" cy="397.34" r="0.8"/><circle cx="94.78" cy="398.28" r="0.8"/><circle cx="95.82" cy="397.81" r="0.8"/><circle cx="97.07" cy="398.19" r="0.8"/><circle cx="99.28" cy="398.01" r="0.8"/><circle cx="94.84" cy="399.47" r="0.8"/><circle cx="96.01" cy="399.15" r="0.8"/><circle cx="96.98" cy="399.07" r="0.8"/><circle cx="98.45" cy="399.40" r="0.8"/><circle cx="99.19" cy="398.93" r="0.8"/><circle cx="93.95" cy="399.84" r="0.8"/><circle cx="95.02" cy="400.16" r="0.8"/><circle cx="95.76" cy="400.05" r="0.8"/><circle cx="96.85" cy="400.24" r="0.8"/><circle cx="98.20" cy="400.32" r="0.8"/><circle cx="99.22" cy="400.27" r="0.8"/><circle cx="93.97" cy="401.52" r="0.8"/><circle cx="95.31" cy="401.13" r="0.8"/><circle cx="96.28" cy="400.99" r="0.8"/><circle cx="96.79" cy="400.90" r="0.8"/><circle cx="99.17" cy="400.96" r="0.8"/><circle cx="93.80" cy="402.34" r="0.8"/><circle cx="95.08" cy="402.33" r="0.8"/><circle cx="96.39" cy="401.94" r="0.8"/><circle cx="97.24" cy="402.61" r="0.8"/><circle cx="98.00" cy="402.59" r="0.8"/><circle cx="99.27" cy="402.38" r="0.8"/><circle cx="93.20" cy="403.20" r="0.8"/><circle cx="93.74" cy="403.42" r="0.8"/><circle cx="95.37" cy="403.44" r="0.8"/><circle cx="96.40" cy="403.06" r="0.8"/><circle cx="97.23" cy="402.99" r="0.8"/><circle cx="97.91" cy="403.67" r="0.8"/><circle cx="99.32" cy="403.36" r="0.8"/><circle cx="93.65" cy="404.17" r="0.8"/><circle cx="94.95" cy="404.56" r="0.8"/><circle cx="95.87" cy="404.39" r="0.8"/><circle cx="97.00" cy="404.17" r="0.8"/><circle cx="98.08" cy="404.29" r="0.8"/><circle cx="99.04" cy="404.26" r="0.8"/><circle cx="100.07" cy="404.05" r="0.8"/><circle cx="94.87" cy="405.40" r="0.8"/><circle cx="96.28" cy="405.69" r="0.8"/><circle cx="97.05" cy="405.66" r="0.8"/><circle cx="99.34" cy="405.20" r="0.8"/><circle cx="92.86" cy="406.64" r="0.8"/><circle cx="93.67" cy="406.48" r="0.8"/><circle cx="94.99" cy="406.72" r="0.8"/><circle cx="95.91" cy="406.27" r="0.8"/><circle cx="97.13" cy="406.76" r="0.8"/><circle cx="98.15" cy="406.44" r="0.8"/><circle cx="99.01" cy="406.39" r="0.8"/><circle cx="100.06" cy="406.35" r="0.8"/><circle cx="93.23" cy="407.51" r="0.8"/><circle cx="93.65" cy="407.54" r="0.8"/><circle cx="94.76" cy="407.51" r="0.8"/><circle cx="95.97" cy="407.69" r="0.8"/><circle cx="96.82" cy="407.21" r="0.8"/><circle cx="98.25" cy="407.56" r="0.8"/><circle cx="99.12" cy="407.68" r="0.8"/><circle cx="100.30" cy="407.33" r="0.8"/><circle cx="92.91" cy="408.23" r="0.8"/><circle cx="94.19" cy="408.92" r="0.8"/><circle cx="96.05" cy="408.41" r="0.8"/><circle cx="97.07" cy="408.45" r="0.8"/><circle cx="98.25" cy="408.72" r="0.8"/><circle cx="98.98" cy="408.37" r="0.8"/><circle cx="100.02" cy="408.85" r="0.8"/><circle cx="93.81" cy="409.67" r="0.8"/><circle cx="94.92" cy="409.73" r="0.8"/><circle cx="96.36" cy="409.82" r="0.8"/><circle cx="97.16" cy="409.90" r="0.8"/><circle cx="98.31" cy="409.49" r="0.8"/><circle cx="99.27" cy="409.43" r="0.8"/><circle cx="93.20" cy="410.56" r="0.8"/><circle cx="94.03" cy="410.55" r="0.8"/><circle cx="95.80" cy="410.54" r="0.8"/><circle cx="97.12" cy="410.69" r="0.8"/><circle cx="98.30" cy="410.64" r="0.8"/><circle cx="99.35" cy="410.51" r="0.8"/><circle cx="99.95" cy="410.49" r="0.8"/><circle cx="93.24" cy="411.75" r="0.8"/><circle cx="94.32" cy="411.44" r="0.8"/><circle cx="96.22" cy="411.93" r="0.8"/><circle cx="97.40" cy="411.91" r="0.8"/><circle cx="98.02" cy="411.49" r="0.8"/><circle cx="99.25" cy="411.74" r="0.8"/><circle cx="100.30" cy="411.43" r="0.8"/><circle cx="93.04" cy="412.53" r="0.8"/><circle cx="93.72" cy="413.04" r="0.8"/><circle cx="95.33" cy="413.07" r="0.8"/><circle cx="97.25" cy="412.47" r="0.8"/><circle cx="98.90" cy="412.52" r="0.8"/><circle cx="100.17" cy="413.08" r="0.8"/><circle cx="94.01" cy="413.75" r="0.8"/><circle cx="95.32" cy="413.94" r="0.8"/><circle cx="97.21" cy="413.56" r="0.8"/><circle cx="98.45" cy="413.87" r="0.8"/><circle cx="99.20" cy="413.73" r="0.8"/><circle cx="100.08" cy="413.61" r="0.8"/><circle cx="103.36" cy="396.92" r="0.8"/><circle cx="102.41" cy="398.28" r="0.8"/><circle cx="103.10" cy="398.24" r="0.8"/><circle cx="102.06" cy="398.88" r="0.8"/><circle cx="102.86" cy="399.06" r="0.8"/><circle cx="101.93" cy="400.30" r="0.8"/><circle cx="103.17" cy="399.97" r="0.8"/><circle cx="104.25" cy="400.06" r="0.8"/><circle cx="101.04" cy="401.50" r="0.8"/><circle cx="102.22" cy="401.24" r="0.8"/><circle cx="103.29" cy="401.38" r="0.8"/><circle cx="104.09" cy="401.22" r="0.8"/><circle cx="100.88" cy="402.46" r="0.8"/><circle cx="103.23" cy="402.40" r="0.8"/><circle cx="104.29" cy="402.31" r="0.8"/><circle cx="101.32" cy="403.54" r="0.8"/><circle cx="101.97" cy="403.63" r="0.8"/><circle cx="103.39" cy="403.42" r="0.8"/><circle cx="104.31" cy="403.45" r="0.8"/><circle cx="100.72" cy="404.54" r="0.8"/><circle cx="101.88" cy="404.82" r="0.8"/><circle cx="102.98" cy="404.38" r="0.8"/><circle cx="104.00" cy="404.22" r="0.8"/><circle cx="100.93" cy="405.25" r="0.8"/><circle cx="104.43" cy="405.56" r="0.8"/><circle cx="100.98" cy="406.23" r="0.8"/><circle cx="101.89" cy="406.84" r="0.8"/><circle cx="103.39" cy="406.46" r="0.8"/><circle cx="104.32" cy="406.88" r="0.8"/><circle cx="100.75" cy="407.48" r="0.8"/><circle cx="102.30" cy="407.28" r="0.8"/><circle cx="103.13" cy="407.39" r="0.8"/><circle cx="103.97" cy="407.80" r="0.8"/><circle cx="100.78" cy="408.47" r="0.8"/><circle cx="101.94" cy="409.00" r="0.8"/><circle cx="103.05" cy="408.85" r="0.8"/><circle cx="103.89" cy="408.93" r="0.8"/><circle cx="105.00" cy="408.45" r="0.8"/><circle cx="101.36" cy="409.65" r="0.8"/><circle cx="102.05" cy="409.52" r="0.8"/><circle cx="103.01" cy="409.55" r="0.8"/><circle cx="103.89" cy="409.65" r="0.8"/><circle cx="104.90" cy="410.05" r="0.8"/><circle cx="101.13" cy="410.56" r="0.8"/><circle cx="102.32" cy="411.11" r="0.8"/><circle cx="103.35" cy="410.56" r="0.8"/><circle cx="104.24" cy="410.49" r="0.8"/><circle cx="101.03" cy="412.00" r="0.8"/><circle cx="102.22" cy="411.56" r="0.8"/><circle cx="102.89" cy="411.53" r="0.8"/><circle cx="104.03" cy="412.11" r="0.8"/><circle cx="101.03" cy="412.98" r="0.8"/><circle cx="102.05" cy="412.91" r="0.8"/><circle cx="103.09" cy="413.12" r="0.8"/><circle cx="100.83" cy="413.92" r="0.8"/><circle cx="102.98" cy="413.61" r="0.8"/><circle cx="109.32" cy="394.27" r="0.8"/><circle cx="107.66" cy="395.77" r="0.8"/><circle cx="109.23" cy="395.32" r="0.8"/><circle cx="109.81" cy="395.65" r="0.8"/><circle cx="108.06" cy="396.53" r="0.8"/><circle cx="108.74" cy="396.92" r="0.8"/><circle cx="107.90" cy="397.53" r="0.8"/><circle cx="109.02" cy="398.07" r="0.8"/><circle cx="106.83" cy="398.61" r="0.8"/><circle cx="108.16" cy="398.95" r="0.8"/><circle cx="109.03" cy="398.65" r="0.8"/><circle cx="110.05" cy="398.53" r="0.8"/><circle cx="107.02" cy="399.89" r="0.8"/><circle cx="107.93" cy="400.08" r="0.8"/><circle cx="109.22" cy="399.92" r="0.8"/><circle cx="106.56" cy="401.15" r="0.8"/><circle cx="106.90" cy="402.15" r="0.8"/><circle cx="107.90" cy="401.69" r="0.8"/><circle cx="110.02" cy="401.61" r="0.8"/><circle cx="111.01" cy="401.85" r="0.8"/><circle cx="105.87" cy="403.09" r="0.8"/><circle cx="107.05" cy="402.88" r="0.8"/><circle cx="107.98" cy="402.80" r="0.8"/><circle cx="109.06" cy="403.22" r="0.8"/><circle cx="111.30" cy="403.04" r="0.8"/><circle cx="106.02" cy="403.74" r="0.8"/><circle cx="107.22" cy="403.79" r="0.8"/><circle cx="107.99" cy="404.29" r="0.8"/><circle cx="108.69" cy="404.21" r="0.8"/><circle cx="109.70" cy="404.33" r="0.8"/><circle cx="111.05" cy="404.04" r="0.8"/><circle cx="106.00" cy="404.84" r="0.8"/><circle cx="107.20" cy="405.16" r="0.8"/><circle cx="108.00" cy="404.90" r="0.8"/><circle cx="109.09" cy="404.80" r="0.8"/><circle cx="110.15" cy="405.40" r="0.8"/><circle cx="111.25" cy="404.82" r="0.8"/><circle cx="111.79" cy="404.74" r="0.8"/><circle cx="105.61" cy="406.35" r="0.8"/><circle cx="106.97" cy="405.88" r="0.8"/><circle cx="107.67" cy="405.91" r="0.8"/><circle cx="109.99" cy="406.24" r="0.8"/><circle cx="111.86" cy="406.24" r="0.8"/><circle cx="106.12" cy="407.37" r="0.8"/><circle cx="106.79" cy="407.24" r="0.8"/><circle cx="107.62" cy="407.52" r="0.8"/><circle cx="108.72" cy="406.93" r="0.8"/><circle cx="110.31" cy="406.92" r="0.8"/><circle cx="111.39" cy="407.36" r="0.8"/><circle cx="111.97" cy="407.30" r="0.8"/><circle cx="112.97" cy="406.98" r="0.8"/><circle cx="105.66" cy="408.38" r="0.8"/><circle cx="106.60" cy="407.88" r="0.8"/><circle cx="107.98" cy="408.20" r="0.8"/><circle cx="108.76" cy="408.02" r="0.8"/><circle cx="109.96" cy="408.22" r="0.8"/><circle cx="112.30" cy="407.92" r="0.8"/><circle cx="112.86" cy="408.01" r="0.8"/><circle cx="114.14" cy="407.99" r="0.8"/><circle cx="106.74" cy="408.97" r="0.8"/><circle cx="108.12" cy="409.31" r="0.8"/><circle cx="110.13" cy="409.22" r="0.8"/><circle cx="111.04" cy="409.02" r="0.8"/><circle cx="112.33" cy="408.97" r="0.8"/><circle cx="113.26" cy="409.40" r="0.8"/><circle cx="114.33" cy="409.22" r="0.8"/><circle cx="105.50" cy="410.26" r="0.8"/><circle cx="107.81" cy="410.41" r="0.8"/><circle cx="109.97" cy="410.55" r="0.8"/><circle cx="110.88" cy="410.44" r="0.8"/><circle cx="112.02" cy="410.54" r="0.8"/><circle cx="113.47" cy="410.32" r="0.8"/><circle cx="113.97" cy="410.26" r="0.8"/><circle cx="106.08" cy="411.65" r="0.8"/><circle cx="106.85" cy="411.70" r="0.8"/><circle cx="107.79" cy="411.12" r="0.8"/><circle cx="110.04" cy="411.54" r="0.8"/><circle cx="111.19" cy="411.10" r="0.8"/><circle cx="112.39" cy="411.36" r="0.8"/><circle cx="113.28" cy="411.16" r="0.8"/><circle cx="114.35" cy="411.72" r="0.8"/><circle cx="105.94" cy="412.43" r="0.8"/><circle cx="106.64" cy="412.29" r="0.8"/><circle cx="107.67" cy="412.34" r="0.8"/><circle cx="109.15" cy="412.77" r="0.8"/><circle cx="109.81" cy="412.47" r="0.8"/><circle cx="111.11" cy="412.49" r="0.8"/><circle cx="111.94" cy="412.54" r="0.8"/><circle cx="113.30" cy="412.54" r="0.8"/><circle cx="105.88" cy="413.70" r="0.8"/><circle cx="106.53" cy="413.48" r="0.8"/><circle cx="107.72" cy="413.40" r="0.8"/><circle cx="110.06" cy="413.54" r="0.8"/><circle cx="111.04" cy="413.75" r="0.8"/><circle cx="112.06" cy="413.56" r="0.8"/><circle cx="112.86" cy="413.46" r="0.8"/><circle cx="114.08" cy="413.72" r="0.8"/><polygon points="43.00,413.40 50.00,413.10 60.00,413.60 70.00,413.30 80.00,413.50 90.00,413.10 100.00,413.40 114.80,413.20 114.80,420.10 105.00,420.40 95.00,420.00 85.00,420.50 75.00,420.10 65.00,420.50 55.00,420.20 43.00,420.40" fill="url(#bJ32)"/><circle cx="112.68" cy="411.80" r="0.7"/><circle cx="54.91" cy="412.11" r="0.7"/><circle cx="75.35" cy="411.68" r="0.7"/><circle cx="100.92" cy="411.71" r="0.7"/><circle cx="81.73" cy="411.94" r="0.7"/><circle cx="89.43" cy="411.63" r="0.7"/><circle cx="78.47" cy="413.10" r="0.7"/><circle cx="44.20" cy="411.79" r="0.7"/><circle cx="48.18" cy="413.07" r="0.7"/><circle cx="91.16" cy="411.88" r="0.7"/><circle cx="107.62" cy="411.75" r="0.7"/><circle cx="78.08" cy="412.86" r="0.7"/><circle cx="86.15" cy="411.53" r="0.7"/><circle cx="46.39" cy="411.77" r="0.7"/><circle cx="110.90" cy="413.20" r="0.7"/><circle cx="64.57" cy="411.50" r="0.7"/><circle cx="88.58" cy="411.80" r="0.7"/><circle cx="107.05" cy="413.24" r="0.7"/><circle cx="99.15" cy="412.95" r="0.7"/><circle cx="98.90" cy="413.06" r="0.7"/><circle cx="70.26" cy="412.84" r="0.7"/><circle cx="43.91" cy="412.79" r="0.7"/><circle cx="74.94" cy="413.37" r="0.7"/><circle cx="99.40" cy="412.31" r="0.7"/><circle cx="93.76" cy="412.57" r="0.7"/><circle cx="87.29" cy="411.42" r="0.7"/><circle cx="59.14" cy="411.91" r="0.7"/><circle cx="93.50" cy="413.23" r="0.7"/><circle cx="88.12" cy="412.92" r="0.7"/><circle cx="88.67" cy="411.69" r="0.7"/><circle cx="61.33" cy="412.56" r="0.7"/><circle cx="97.13" cy="412.24" r="0.7"/><circle cx="92.89" cy="412.07" r="0.7"/><circle cx="65.61" cy="411.74" r="0.7"/><circle cx="72.72" cy="412.56" r="0.7"/><g fill="#fff"><circle cx="51.69" cy="419.76" r="0.45"/><circle cx="44.59" cy="419.06" r="0.45"/><circle cx="68.28" cy="419.78" r="0.45"/><circle cx="64.06" cy="416.59" r="0.45"/><circle cx="92.34" cy="417.82" r="0.45"/><circle cx="101.27" cy="418.83" r="0.45"/><circle cx="74.88" cy="418.81" r="0.45"/><circle cx="91.69" cy="417.65" r="0.45"/><circle cx="57.64" cy="418.79" r="0.45"/><circle cx="83.83" cy="416.67" r="0.45"/><circle cx="55.33" cy="418.01" r="0.45"/><circle cx="50.30" cy="418.34" r="0.45"/><circle cx="71.67" cy="417.53" r="0.45"/><circle cx="96.55" cy="419.08" r="0.45"/><circle cx="48.69" cy="418.59" r="0.45"/><circle cx="113.48" cy="418.62" r="0.45"/><circle cx="112.94" cy="417.31" r="0.45"/><circle cx="59.46" cy="417.64" r="0.45"/><circle cx="60.42" cy="417.06" r="0.45"/><circle cx="61.83" cy="418.25" r="0.45"/><circle cx="100.81" cy="419.20" r="0.45"/><circle cx="46.78" cy="419.18" r="0.45"/><circle cx="88.67" cy="417.43" r="0.45"/><circle cx="44.48" cy="419.51" r="0.45"/><circle cx="53.42" cy="417.39" r="0.45"/><circle cx="65.29" cy="419.29" r="0.45"/><circle cx="110.17" cy="419.70" r="0.45"/><circle cx="103.46" cy="419.46" r="0.45"/><circle cx="77.05" cy="416.70" r="0.45"/><circle cx="60.44" cy="416.99" r="0.45"/></g></g><rect x="40.3" y="391.3" width="77.00" height="30.50" fill="none" stroke="#9a9a9a" stroke-width="1"/><line x1="37.70" y1="391.5" x2="40.3" y2="391.5" stroke="#333" stroke-width="0.9"/><line x1="37.70" y1="396.5" x2="40.3" y2="396.5" stroke="#333" stroke-width="0.9"/><line x1="37.70" y1="401.5" x2="40.3" y2="401.5" stroke="#333" stroke-width="0.9"/><line x1="37.70" y1="406.4" x2="40.3" y2="406.4" stroke="#333" stroke-width="0.9"/><line x1="37.70" y1="411.4" x2="40.3" y2="411.4" stroke="#333" stroke-width="0.9"/><line x1="37.70" y1="416.3" x2="40.3" y2="416.3" stroke="#333" stroke-width="0.9"/><line x1="37.70" y1="421.3" x2="40.3" y2="421.3" stroke="#333" stroke-width="0.9"/><line x1="43.2" y1="421.8" x2="43.2" y2="424.40" stroke="#333" stroke-width="0.9"/><line x1="62.6" y1="421.8" x2="62.6" y2="424.40" stroke="#333" stroke-width="0.9"/><line x1="82.5" y1="421.8" x2="82.5" y2="424.40" stroke="#333" stroke-width="0.9"/><line x1="102.1" y1="421.8" x2="102.1" y2="424.40" stroke="#333" stroke-width="0.9"/><g style="font-family:&quot;Liberation Sans&quot;,sans-serif;font-size:8.5px" fill="#5c5c5c" stroke="#5c5c5c" stroke-width="0.08"><text x="34.5" y="394.50" text-anchor="end" textLength="17.20" lengthAdjust="spacingAndGlyphs">1975</text><text x="34.5" y="399.50" text-anchor="end" textLength="17.20" lengthAdjust="spacingAndGlyphs">1970</text><text x="34.5" y="404.50" text-anchor="end" textLength="17.20" lengthAdjust="spacingAndGlyphs">1965</text><text x="34.5" y="409.40" text-anchor="end" textLength="17.20" lengthAdjust="spacingAndGlyphs">1960</text><text x="34.5" y="414.40" text-anchor="end" textLength="17.20" lengthAdjust="spacingAndGlyphs">1955</text><text x="34.5" y="419.30" text-anchor="end" textLength="17.20" lengthAdjust="spacingAndGlyphs">1950</text><text x="34.5" y="424.30" text-anchor="end" textLength="17.20" lengthAdjust="spacingAndGlyphs">1945</text><text x="43.2" y="433.00" text-anchor="middle" textLength="4.30" lengthAdjust="spacingAndGlyphs">0</text><text x="62.6" y="433.00" text-anchor="middle" textLength="8.60" lengthAdjust="spacingAndGlyphs">20</text><text x="82.5" y="433.00" text-anchor="middle" textLength="8.60" lengthAdjust="spacingAndGlyphs">40</text><text x="102.1" y="433.00" text-anchor="middle" textLength="8.60" lengthAdjust="spacingAndGlyphs">60</text></g><text transform="translate(13.75,407.05) rotate(-90)" x="0" y="0" text-anchor="middle" textLength="39.5" lengthAdjust="spacingAndGlyphs" style="font-family:&quot;Liberation Sans&quot;,sans-serif;font-size:10.3px" fill="#1a1a1a">Elevation</text><text x="79.15" y="444.00" text-anchor="middle" style="font-family:&quot;Liberation Sans&quot;,sans-serif;font-size:10.4px" fill="#000">X</text><rect x="132.7" y="387.3" width="10.70" height="53.60" fill="url(#cJ)"/><g style="font-family:&quot;Liberation Sans&quot;,sans-serif;font-size:8.7px" fill="#1a1a1a" stroke="#1a1a1a" stroke-width="0.08"><text x="148.4" y="397.10" textLength="17.60" lengthAdjust="spacingAndGlyphs">1970</text><text x="148.4" y="406.60" textLength="17.60" lengthAdjust="spacingAndGlyphs">1965</text><text x="148.4" y="416.10" textLength="17.60" lengthAdjust="spacingAndGlyphs">1960</text><text x="148.4" y="425.60" textLength="17.60" lengthAdjust="spacingAndGlyphs">1955</text><text x="148.4" y="435.20" textLength="17.60" lengthAdjust="spacingAndGlyphs">1950</text></g><text x="133.1" y="381.80" style="font-family:&quot;Liberation Sans&quot;,sans-serif;font-size:10.4px" fill="#000">Z</text><text x="236.4" y="363.5" textLength="83.6" lengthAdjust="spacingAndGlyphs" style="font-family:&quot;Liberation Serif&quot;,serif;font-size:11.6px" fill="#000">(<tspan font-weight="bold">e</tspan>) CS ratio = 0.10</text><line x1="242.80" y1="393.7" x2="242.80" y2="422.1" stroke="#f2f2f2" stroke-width="0.6"/><line x1="262.55" y1="393.7" x2="262.55" y2="422.1" stroke="#f2f2f2" stroke-width="0.6"/><line x1="282.00" y1="393.7" x2="282.00" y2="422.1" stroke="#f2f2f2" stroke-width="0.6"/><line x1="301.30" y1="393.7" x2="301.30" y2="422.1" stroke="#f2f2f2" stroke-width="0.6"/><line x1="229.4" y1="399.52" x2="307.3" y2="399.52" stroke="#f2f2f2" stroke-width="0.6"/><line x1="229.4" y1="409.38" x2="307.3" y2="409.38" stroke="#f2f2f2" stroke-width="0.6"/><line x1="229.4" y1="419.23" x2="307.3" y2="419.23" stroke="#f2f2f2" stroke-width="0.6"/><line x1="233.00" y1="393.7" x2="233.00" y2="422.1" stroke="#e6e6e6" stroke-width="0.8"/><line x1="252.60" y1="393.7" x2="252.60" y2="422.1" stroke="#e6e6e6" stroke-width="0.8"/><line x1="272.50" y1="393.7" x2="272.50" y2="422.1" stroke="#e6e6e6" stroke-width="0.8"/><line x1="291.50" y1="393.7" x2="291.50" y2="422.1" stroke="#e6e6e6" stroke-width="0.8"/><line x1="229.4" y1="394.60" x2="307.3" y2="394.60" stroke="#e6e6e6" stroke-width="0.8"/><line x1="229.4" y1="404.45" x2="307.3" y2="404.45" stroke="#e6e6e6" stroke-width="0.8"/><line x1="229.4" y1="414.30" x2="307.3" y2="414.30" stroke="#e6e6e6" stroke-width="0.8"/><g clip-path="url(#kK)" fill="url(#gK)" stroke="none"><circle cx="235.23" cy="400.57" r="0.8"/><circle cx="236.43" cy="400.36" r="0.8"/><circle cx="237.60" cy="400.53" r="0.8"/><circle cx="235.48" cy="401.42" r="0.8"/><circle cx="236.41" cy="401.53" r="0.8"/><circle cx="237.64" cy="401.36" r="0.8"/><circle cx="238.06" cy="401.24" r="0.8"/><circle cx="235.44" cy="402.59" r="0.8"/><circle cx="236.04" cy="402.60" r="0.8"/><circle cx="238.32" cy="402.46" r="0.8"/><circle cx="234.29" cy="403.33" r="0.8"/><circle cx="235.14" cy="403.69" r="0.8"/><circle cx="236.12" cy="403.76" r="0.8"/><circle cx="237.66" cy="403.58" r="0.8"/><circle cx="238.27" cy="403.82" r="0.8"/><circle cx="234.35" cy="404.29" r="0.8"/><circle cx="235.33" cy="404.51" r="0.8"/><circle cx="237.28" cy="404.76" r="0.8"/><circle cx="238.27" cy="404.54" r="0.8"/><circle cx="239.08" cy="404.23" r="0.8"/><circle cx="233.39" cy="405.36" r="0.8"/><circle cx="234.22" cy="405.71" r="0.8"/><circle cx="235.09" cy="405.46" r="0.8"/><circle cx="236.48" cy="405.49" r="0.8"/><circle cx="237.12" cy="405.57" r="0.8"/><circle cx="238.25" cy="405.30" r="0.8"/><circle cx="239.44" cy="405.45" r="0.8"/><circle cx="233.39" cy="406.32" r="0.8"/><circle cx="234.03" cy="406.32" r="0.8"/><circle cx="235.18" cy="406.76" r="0.8"/><circle cx="236.19" cy="406.91" r="0.8"/><circle cx="237.29" cy="406.42" r="0.8"/><circle cx="238.68" cy="406.44" r="0.8"/><circle cx="233.11" cy="407.34" r="0.8"/><circle cx="233.99" cy="407.47" r="0.8"/><circle cx="237.54" cy="407.54" r="0.8"/><circle cx="238.16" cy="407.96" r="0.8"/><circle cx="239.49" cy="407.88" r="0.8"/><circle cx="233.12" cy="408.87" r="0.8"/><circle cx="234.23" cy="408.58" r="0.8"/><circle cx="235.03" cy="409.05" r="0.8"/><circle cx="235.94" cy="408.51" r="0.8"/><circle cx="237.33" cy="409.07" r="0.8"/><circle cx="239.64" cy="409.06" r="0.8"/><circle cx="233.44" cy="409.69" r="0.8"/><circle cx="234.30" cy="409.98" r="0.8"/><circle cx="235.45" cy="409.66" r="0.8"/><circle cx="236.34" cy="410.10" r="0.8"/><circle cx="237.41" cy="410.03" r="0.8"/><circle cx="238.51" cy="409.53" r="0.8"/><circle cx="239.30" cy="409.88" r="0.8"/><circle cx="233.24" cy="410.56" r="0.8"/><circle cx="234.02" cy="410.86" r="0.8"/><circle cx="235.54" cy="410.63" r="0.8"/><circle cx="236.53" cy="410.89" r="0.8"/><circle cx="238.12" cy="410.73" r="0.8"/><circle cx="239.39" cy="410.67" r="0.8"/><circle cx="235.57" cy="412.20" r="0.8"/><circle cx="236.54" cy="412.19" r="0.8"/><circle cx="237.23" cy="411.97" r="0.8"/><circle cx="238.26" cy="411.86" r="0.8"/><circle cx="239.18" cy="412.08" r="0.8"/><circle cx="243.85" cy="399.82" r="0.8"/><circle cx="243.28" cy="401.15" r="0.8"/><circle cx="244.35" cy="401.28" r="0.8"/><circle cx="244.98" cy="400.75" r="0.8"/><circle cx="242.65" cy="402.19" r="0.8"/><circle cx="244.04" cy="402.32" r="0.8"/><circle cx="245.03" cy="402.15" r="0.8"/><circle cx="245.13" cy="403.11" r="0.8"/><circle cx="245.95" cy="403.28" r="0.8"/><circle cx="242.25" cy="404.07" r="0.8"/><circle cx="243.29" cy="403.97" r="0.8"/><circle cx="244.01" cy="404.09" r="0.8"/><circle cx="245.13" cy="404.54" r="0.8"/><circle cx="245.81" cy="404.14" r="0.8"/><circle cx="242.67" cy="405.10" r="0.8"/><circle cx="243.92" cy="405.15" r="0.8"/><circle cx="245.23" cy="404.96" r="0.8"/><circle cx="246.35" cy="405.54" r="0.8"/><circle cx="243.10" cy="406.13" r="0.8"/><circle cx="246.28" cy="406.64" r="0.8"/><circle cx="243.06" cy="407.27" r="0.8"/><circle cx="243.77" cy="407.35" r="0.8"/><circle cx="244.79" cy="407.49" r="0.8"/><circle cx="245.92" cy="407.69" r="0.8"/><circle cx="241.95" cy="408.42" r="0.8"/><circle cx="243.32" cy="408.61" r="0.8"/><circle cx="245.36" cy="408.71" r="0.8"/><circle cx="241.68" cy="409.18" r="0.8"/><circle cx="243.12" cy="409.16" r="0.8"/><circle cx="243.92" cy="409.63" r="0.8"/><circle cx="245.23" cy="409.80" r="0.8"/><circle cx="246.06" cy="409.64" r="0.8"/><circle cx="242.17" cy="410.87" r="0.8"/><circle cx="242.95" cy="410.28" r="0.8"/><circle cx="243.95" cy="410.86" r="0.8"/><circle cx="245.42" cy="410.74" r="0.8"/><circle cx="242.04" cy="411.30" r="0.8"/><circle cx="243.27" cy="411.91" r="0.8"/><circle cx="244.02" cy="411.51" r="0.8"/><circle cx="245.14" cy="411.41" r="0.8"/><circle cx="247.9" cy="407.6" r="0.8"/><circle cx="257.90" cy="395.44" r="0.8"/><circle cx="256.95" cy="396.09" r="0.8"/><circle cx="257.79" cy="396.09" r="0.8"/><circle cx="258.59" cy="396.30" r="0.8"/><circle cx="255.46" cy="397.48" r="0.8"/><circle cx="257.89" cy="397.21" r="0.8"/><circle cx="255.66" cy="398.49" r="0.8"/><circle cx="256.94" cy="398.21" r="0.8"/><circle cx="257.53" cy="398.50" r="0.8"/><circle cx="258.83" cy="398.31" r="0.8"/><circle cx="259.54" cy="398.71" r="0.8"/><circle cx="254.78" cy="399.37" r="0.8"/><circle cx="255.68" cy="399.27" r="0.8"/><circle cx="257.02" cy="399.73" r="0.8"/><circle cx="257.94" cy="399.54" r="0.8"/><circle cx="258.52" cy="399.48" r="0.8"/><circle cx="254.90" cy="400.44" r="0.8"/><circle cx="255.60" cy="400.37" r="0.8"/><circle cx="258.05" cy="400.24" r="0.8"/><circle cx="258.43" cy="400.16" r="0.8"/><circle cx="259.50" cy="400.28" r="0.8"/><circle cx="254.72" cy="401.66" r="0.8"/><circle cx="255.92" cy="401.78" r="0.8"/><circle cx="258.92" cy="401.26" r="0.8"/><circle cx="259.72" cy="401.41" r="0.8"/><circle cx="254.23" cy="402.58" r="0.8"/><circle cx="255.66" cy="402.34" r="0.8"/><circle cx="257.74" cy="402.41" r="0.8"/><circle cx="259.69" cy="402.38" r="0.8"/><circle cx="253.44" cy="403.88" r="0.8"/><circle cx="254.31" cy="403.59" r="0.8"/><circle cx="255.38" cy="403.64" r="0.8"/><circle cx="256.47" cy="403.40" r="0.8"/><circle cx="257.69" cy="403.61" r="0.8"/><circle cx="258.52" cy="403.28" r="0.8"/><circle cx="260.03" cy="403.77" r="0.8"/><circle cx="253.41" cy="404.54" r="0.8"/><circle cx="255.77" cy="404.39" r="0.8"/><circle cx="256.48" cy="404.77" r="0.8"/><circle cx="257.99" cy="404.90" r="0.8"/><circle cx="259.12" cy="405.00" r="0.8"/><circle cx="253.45" cy="405.48" r="0.8"/><circle cx="254.58" cy="405.44" r="0.8"/><circle cx="255.60" cy="405.81" r="0.8"/><circle cx="256.66" cy="405.82" r="0.8"/><circle cx="257.87" cy="405.67" r="0.8"/><circle cx="259.03" cy="405.40" r="0.8"/><circle cx="259.61" cy="405.79" r="0.8"/><circle cx="253.24" cy="406.79" r="0.8"/><circle cx="254.71" cy="406.48" r="0.8"/><circle cx="255.46" cy="406.69" r="0.8"/><circle cx="256.91" cy="406.86" r="0.8"/><circle cx="257.74" cy="406.50" r="0.8"/><circle cx="258.48" cy="406.49" r="0.8"/><circle cx="259.48" cy="406.70" r="0.8"/><circle cx="253.71" cy="408.17" r="0.8"/><circle cx="254.48" cy="408.16" r="0.8"/><circle cx="255.49" cy="408.17" r="0.8"/><circle cx="257.84" cy="408.03" r="0.8"/><circle cx="258.43" cy="407.74" r="0.8"/><circle cx="260.15" cy="407.78" r="0.8"/><circle cx="253.44" cy="408.95" r="0.8"/><circle cx="254.86" cy="409.19" r="0.8"/><circle cx="255.28" cy="408.74" r="0.8"/><circle cx="256.86" cy="409.13" r="0.8"/><circle cx="258.04" cy="408.68" r="0.8"/><circle cx="258.69" cy="408.84" r="0.8"/><circle cx="260.12" cy="409.05" r="0.8"/><circle cx="253.33" cy="409.77" r="0.8"/><circle cx="254.68" cy="410.12" r="0.8"/><circle cx="256.46" cy="409.84" r="0.8"/><circle cx="258.93" cy="410.16" r="0.8"/><circle cx="259.74" cy="410.12" r="0.8"/><circle cx="253.87" cy="410.81" r="0.8"/><circle cx="255.88" cy="411.07" r="0.8"/><circle cx="256.92" cy="410.68" r="0.8"/><circle cx="257.72" cy="411.20" r="0.8"/><circle cx="258.97" cy="410.69" r="0.8"/><circle cx="259.80" cy="411.13" r="0.8"/><circle cx="253.77" cy="412.16" r="0.8"/><circle cx="254.59" cy="411.95" r="0.8"/><circle cx="256.45" cy="411.85" r="0.8"/><circle cx="257.94" cy="412.16" r="0.8"/><circle cx="258.72" cy="412.30" r="0.8"/><circle cx="272.63" cy="401.19" r="0.8"/><circle cx="272.77" cy="402.50" r="0.8"/><circle cx="273.72" cy="402.68" r="0.8"/><circle cx="271.92" cy="403.41" r="0.8"/><circle cx="273.14" cy="403.65" r="0.8"/><circle cx="273.59" cy="403.69" r="0.8"/><circle cx="273.13" cy="404.55" r="0.8"/><circle cx="271.66" cy="405.80" r="0.8"/><circle cx="272.68" cy="405.62" r="0.8"/><circle cx="274.09" cy="405.50" r="0.8"/><circle cx="272.01" cy="406.76" r="0.8"/><circle cx="273.02" cy="406.46" r="0.8"/><circle cx="273.71" cy="406.52" r="0.8"/><circle cx="271.54" cy="407.54" r="0.8"/><circle cx="272.75" cy="407.68" r="0.8"/><circle cx="272.62" cy="408.44" r="0.8"/><circle cx="271.99" cy="410.06" r="0.8"/><circle cx="272.64" cy="409.49" r="0.8"/><circle cx="274.11" cy="409.48" r="0.8"/><circle cx="271.53" cy="410.62" r="0.8"/><circle cx="272.98" cy="411.13" r="0.8"/><circle cx="273.74" cy="410.52" r="0.8"/><circle cx="271.50" cy="411.53" r="0.8"/><circle cx="272.90" cy="411.84" r="0.8"/><circle cx="286.79" cy="396.06" r="0.8"/><circle cx="286.27" cy="397.07" r="0.8"/><circle cx="287.54" cy="396.56" r="0.8"/><circle cx="284.50" cy="398.13" r="0.8"/><circle cx="286.38" cy="397.89" r="0.8"/><circle cx="287.57" cy="398.02" r="0.8"/><circle cx="283.36" cy="399.08" r="0.8"/><circle cx="284.34" cy="399.02" r="0.8"/><circle cx="285.25" cy="398.57" r="0.8"/><circle cx="286.53" cy="398.90" r="0.8"/><circle cx="287.76" cy="398.81" r="0.8"/><circle cx="288.92" cy="398.58" r="0.8"/><circle cx="283.07" cy="400.20" r="0.8"/><circle cx="285.23" cy="399.78" r="0.8"/><circle cx="286.52" cy="400.17" r="0.8"/><circle cx="287.58" cy="400.26" r="0.8"/><circle cx="288.50" cy="399.76" r="0.8"/><circle cx="282.65" cy="401.24" r="0.8"/><circle cx="283.63" cy="400.97" r="0.8"/><circle cx="284.56" cy="400.77" r="0.8"/><circle cx="285.48" cy="400.83" r="0.8"/><circle cx="286.30" cy="401.07" r="0.8"/><circle cx="287.54" cy="400.66" r="0.8"/><circle cx="288.34" cy="401.20" r="0.8"/><circle cx="283.13" cy="402.14" r="0.8"/><circle cx="284.64" cy="402.01" r="0.8"/><circle cx="285.54" cy="401.83" r="0.8"/><circle cx="286.23" cy="401.84" r="0.8"/><circle cx="287.34" cy="401.97" r="0.8"/><circle cx="288.69" cy="402.06" r="0.8"/><circle cx="283.22" cy="402.73" r="0.8"/><circle cx="286.76" cy="403.12" r="0.8"/><circle cx="289.52" cy="403.02" r="0.8"/><circle cx="283.28" cy="403.79" r="0.8"/><circle cx="284.72" cy="404.07" r="0.8"/><circle cx="285.75" cy="404.43" r="0.8"/><circle cx="286.52" cy="403.98" r="0.8"/><circle cx="288.80" cy="403.81" r="0.8"/><circle cx="282.29" cy="405.00" r="0.8"/><circle cx="283.13" cy="405.15" r="0.8"/><circle cx="284.63" cy="405.12" r="0.8"/><circle cx="285.30" cy="405.05" r="0.8"/><circle cx="286.68" cy="405.13" r="0.8"/><circle cx="287.63" cy="405.39" r="0.8"/><circle cx="288.81" cy="404.84" r="0.8"/><circle cx="289.41" cy="405.41" r="0.8"/><circle cx="282.62" cy="406.12" r="0.8"/><circle cx="283.51" cy="406.00" r="0.8"/><circle cx="284.38" cy="406.32" r="0.8"/><circle cx="285.59" cy="406.43" r="0.8"/><circle cx="287.52" cy="406.22" r="0.8"/><circle cx="288.86" cy="406.26" r="0.8"/><circle cx="283.51" cy="407.54" r="0.8"/><circle cx="284.65" cy="407.12" r="0.8"/><circle cx="285.72" cy="407.31" r="0.8"/><circle cx="287.41" cy="407.01" r="0.8"/><circle cx="289.44" cy="407.29" r="0.8"/><circle cx="282.38" cy="408.01" r="0.8"/><circle cx="283.50" cy="408.20" r="0.8"/><circle cx="285.66" cy="408.04" r="0.8"/><circle cx="286.70" cy="408.45" r="0.8"/><circle cx="287.71" cy="407.99" r="0.8"/><circle cx="289.49" cy="408.19" r="0.8"/><circle cx="282.04" cy="409.32" r="0.8"/><circle cx="283.26" cy="409.27" r="0.8"/><circle cx="284.64" cy="409.05" r="0.8"/><circle cx="285.75" cy="409.31" r="0.8"/><circle cx="287.59" cy="409.39" r="0.8"/><circle cx="288.97" cy="409.31" r="0.8"/><circle cx="289.68" cy="409.27" r="0.8"/><circle cx="284.49" cy="410.60" r="0.8"/><circle cx="285.41" cy="410.58" r="0.8"/><circle cx="286.51" cy="410.22" r="0.8"/><circle cx="288.55" cy="410.63" r="0.8"/><circle cx="282.43" cy="411.82" r="0.8"/><circle cx="283.31" cy="411.67" r="0.8"/><circle cx="284.61" cy="411.72" r="0.8"/><circle cx="285.63" cy="411.33" r="0.8"/><circle cx="286.42" cy="411.67" r="0.8"/><circle cx="287.49" cy="411.60" r="0.8"/><circle cx="288.41" cy="411.73" r="0.8"/><circle cx="289.77" cy="411.73" r="0.8"/><circle cx="283.30" cy="412.55" r="0.8"/><circle cx="285.63" cy="412.37" r="0.8"/><circle cx="286.50" cy="412.27" r="0.8"/><circle cx="287.34" cy="412.49" r="0.8"/><circle cx="288.97" cy="412.32" r="0.8"/><circle cx="292.58" cy="395.19" r="0.8"/><circle cx="292.20" cy="396.44" r="0.8"/><circle cx="293.24" cy="396.32" r="0.8"/><circle cx="291.66" cy="397.48" r="0.8"/><circle cx="292.41" cy="397.63" r="0.8"/><circle cx="292.71" cy="398.39" r="0.8"/><circle cx="293.44" cy="398.66" r="0.8"/><circle cx="294.53" cy="398.29" r="0.8"/><circle cx="291.51" cy="399.28" r="0.8"/><circle cx="292.76" cy="399.62" r="0.8"/><circle cx="293.73" cy="399.71" r="0.8"/><circle cx="294.85" cy="399.55" r="0.8"/><circle cx="291.41" cy="400.81" r="0.8"/><circle cx="292.12" cy="400.29" r="0.8"/><circle cx="293.78" cy="400.77" r="0.8"/><circle cx="294.59" cy="400.35" r="0.8"/><circle cx="292.47" cy="401.79" r="0.8"/><circle cx="293.14" cy="401.68" r="0.8"/><circle cx="294.32" cy="401.56" r="0.8"/><circle cx="291.53" cy="402.36" r="0.8"/><circle cx="292.56" cy="402.93" r="0.8"/><circle cx="293.16" cy="403.02" r="0.8"/><circle cx="294.71" cy="402.65" r="0.8"/><circle cx="292.13" cy="403.83" r="0.8"/><circle cx="293.42" cy="403.47" r="0.8"/><circle cx="294.21" cy="403.75" r="0.8"/><circle cx="290.15" cy="404.97" r="0.8"/><circle cx="291.43" cy="405.03" r="0.8"/><circle cx="292.65" cy="405.08" r="0.8"/><circle cx="293.26" cy="405.12" r="0.8"/><circle cx="290.62" cy="405.54" r="0.8"/><circle cx="291.63" cy="405.55" r="0.8"/><circle cx="293.66" cy="405.56" r="0.8"/><circle cx="294.58" cy="405.87" r="0.8"/><circle cx="291.52" cy="407.12" r="0.8"/><circle cx="292.24" cy="407.08" r="0.8"/><circle cx="293.31" cy="407.07" r="0.8"/><circle cx="294.75" cy="406.87" r="0.8"/><circle cx="289.99" cy="407.96" r="0.8"/><circle cx="291.46" cy="407.67" r="0.8"/><circle cx="292.09" cy="408.06" r="0.8"/><circle cx="293.82" cy="407.91" r="0.8"/><circle cx="294.77" cy="407.77" r="0.8"/><circle cx="291.05" cy="408.82" r="0.8"/><circle cx="292.49" cy="408.67" r="0.8"/><circle cx="294.70" cy="409.32" r="0.8"/><circle cx="290.46" cy="410.27" r="0.8"/><circle cx="291.31" cy="409.81" r="0.8"/><circle cx="293.71" cy="409.85" r="0.8"/><circle cx="294.70" cy="409.91" r="0.8"/><circle cx="290.03" cy="411.16" r="0.8"/><circle cx="291.17" cy="410.95" r="0.8"/><circle cx="292.16" cy="411.14" r="0.8"/><circle cx="293.28" cy="410.98" r="0.8"/><circle cx="290.12" cy="412.37" r="0.8"/><circle cx="292.63" cy="412.22" r="0.8"/><circle cx="293.76" cy="412.24" r="0.8"/><circle cx="294.83" cy="412.09" r="0.8"/><circle cx="297.40" cy="399.63" r="0.8"/><circle cx="297.85" cy="400.79" r="0.8"/><circle cx="298.56" cy="400.73" r="0.8"/><circle cx="298.35" cy="401.45" r="0.8"/><circle cx="299.54" cy="401.94" r="0.8"/><circle cx="297.39" cy="402.78" r="0.8"/><circle cx="298.41" cy="402.43" r="0.8"/><circle cx="299.38" cy="402.38" r="0.8"/><circle cx="296.78" cy="403.65" r="0.8"/><circle cx="297.77" cy="403.86" r="0.8"/><circle cx="298.42" cy="403.69" r="0.8"/><circle cx="299.68" cy="403.55" r="0.8"/><circle cx="298.58" cy="404.88" r="0.8"/><circle cx="299.66" cy="405.04" r="0.8"/><circle cx="295.52" cy="406.03" r="0.8"/><circle cx="296.38" cy="405.88" r="0.8"/><circle cx="297.48" cy="406.04" r="0.8"/><circle cx="298.75" cy="405.83" r="0.8"/><circle cx="299.40" cy="405.73" r="0.8"/><circle cx="295.12" cy="406.79" r="0.8"/><circle cx="296.50" cy="406.72" r="0.8"/><circle cx="298.47" cy="407.10" r="0.8"/><circle cx="295.73" cy="408.24" r="0.8"/><circle cx="296.36" cy="407.76" r="0.8"/><circle cx="297.22" cy="408.08" r="0.8"/><circle cx="298.36" cy="408.06" r="0.8"/><circle cx="299.31" cy="407.73" r="0.8"/><circle cx="295.35" cy="409.22" r="0.8"/><circle cx="296.13" cy="408.91" r="0.8"/><circle cx="297.35" cy="408.77" r="0.8"/><circle cx="299.74" cy="408.98" r="0.8"/><circle cx="296.15" cy="410.18" r="0.8"/><circle cx="297.76" cy="409.80" r="0.8"/><circle cx="298.56" cy="409.92" r="0.8"/><circle cx="299.37" cy="409.76" r="0.8"/><circle cx="295.17" cy="410.80" r="0.8"/><circle cx="296.62" cy="411.23" r="0.8"/><circle cx="297.74" cy="410.81" r="0.8"/><circle cx="298.88" cy="410.81" r="0.8"/><circle cx="299.61" cy="411.02" r="0.8"/><circle cx="295.66" cy="412.38" r="0.8"/><circle cx="296.42" cy="412.21" r="0.8"/><circle cx="297.57" cy="412.05" r="0.8"/><circle cx="299.44" cy="412.23" r="0.8"/><circle cx="303.53" cy="409.50" r="0.8"/><circle cx="301.77" cy="409.63" r="0.8"/><circle cx="303.19" cy="408.55" r="0.8"/><circle cx="303.96" cy="409.23" r="0.8"/><circle cx="302.13" cy="409.56" r="0.8"/><circle cx="303.46" cy="408.51" r="0.8"/><polyline points="232.50,413.20 240.00,413.40 250.00,413.00 260.00,413.40 270.00,413.10 280.00,413.40 290.00,413.10 304.00,413.20" fill="none" stroke="url(#gK)" stroke-width="2.2" stroke-linecap="round" stroke-linejoin="round"/><circle cx="246.04" cy="411.68" r="0.75"/><circle cx="234.12" cy="411.58" r="0.75"/><circle cx="242.10" cy="411.16" r="0.75"/><circle cx="258.95" cy="412.41" r="0.75"/><circle cx="276.44" cy="411.30" r="0.75"/><circle cx="278.29" cy="411.72" r="0.75"/><circle cx="233.14" cy="411.59" r="0.75"/><circle cx="282.86" cy="412.25" r="0.75"/><circle cx="301.56" cy="410.83" r="0.75"/><circle cx="269.49" cy="411.48" r="0.75"/><circle cx="264.60" cy="412.28" r="0.75"/><circle cx="264.03" cy="411.78" r="0.75"/><circle cx="286.89" cy="412.36" r="0.75"/><circle cx="274.45" cy="411.75" r="0.75"/><circle cx="240.18" cy="411.48" r="0.75"/><circle cx="246.53" cy="412.19" r="0.75"/><circle cx="280.66" cy="411.04" r="0.75"/><circle cx="274.13" cy="412.37" r="0.75"/><circle cx="293.22" cy="411.48" r="0.75"/><circle cx="259.01" cy="411.76" r="0.75"/><circle cx="262.68" cy="412.55" r="0.75"/><circle cx="293.47" cy="412.41" r="0.75"/><circle cx="303.99" cy="410.99" r="0.75"/><circle cx="300.18" cy="411.45" r="0.75"/><circle cx="251.55" cy="411.88" r="0.75"/><circle cx="261.31" cy="411.18" r="0.75"/><circle cx="302.22" cy="411.13" r="0.75"/><circle cx="238.97" cy="411.51" r="0.75"/><circle cx="291.56" cy="412.25" r="0.75"/><circle cx="265.24" cy="411.53" r="0.75"/><circle cx="242.90" cy="412.24" r="0.75"/><circle cx="286.80" cy="411.19" r="0.75"/><circle cx="280.49" cy="412.41" r="0.75"/><circle cx="258.51" cy="411.22" r="0.75"/><circle cx="285.86" cy="411.92" r="0.75"/><polygon points="232.50,415.00 304.00,415.00 304.00,419.40 232.50,419.40" fill="url(#bK36)"/><polyline points="240.00,414.80 250.00,415.20" fill="none" stroke="#fff" stroke-width="0.8" stroke-linecap="round" stroke-linejoin="round"/><polyline points="262.00,414.90 275.00,415.30" fill="none" stroke="#fff" stroke-width="0.7" stroke-linecap="round" stroke-linejoin="round"/><polyline points="281.00,414.80 292.00,415.10" fill="none" stroke="#fff" stroke-width="0.7" stroke-linecap="round" stroke-linejoin="round"/><polyline points="252.00,415.20 258.00,417.50" fill="none" stroke="#fff" stroke-width="0.6" stroke-linecap="round" stroke-linejoin="round"/><circle cx="261.02" cy="419.31" r="0.7"/><circle cx="255.99" cy="420.22" r="0.7"/><circle cx="246.28" cy="419.93" r="0.7"/><circle cx="287.69" cy="419.75" r="0.7"/><circle cx="241.89" cy="420.18" r="0.7"/><circle cx="281.66" cy="420.09" r="0.7"/><circle cx="297.43" cy="419.78" r="0.7"/><circle cx="269.22" cy="419.89" r="0.7"/><circle cx="293.75" cy="419.73" r="0.7"/><circle cx="250.10" cy="419.78" r="0.7"/><circle cx="291.50" cy="420.27" r="0.7"/><circle cx="246.29" cy="420.36" r="0.7"/><circle cx="303.10" cy="419.74" r="0.7"/><circle cx="289.04" cy="420.20" r="0.7"/><circle cx="276.76" cy="419.60" r="0.7"/><circle cx="233.07" cy="420.43" r="0.7"/><circle cx="256.55" cy="420.37" r="0.7"/><circle cx="293.66" cy="420.41" r="0.7"/><circle cx="285.04" cy="420.24" r="0.7"/><circle cx="291.23" cy="420.52" r="0.7"/><circle cx="298.29" cy="420.44" r="0.7"/><circle cx="255.84" cy="420.50" r="0.7"/><circle cx="239.51" cy="419.54" r="0.7"/><circle cx="294.56" cy="420.01" r="0.7"/><circle cx="300.73" cy="419.73" r="0.7"/><circle cx="237.70" cy="419.49" r="0.7"/><circle cx="295.71" cy="420.35" r="0.7"/><circle cx="263.42" cy="420.15" r="0.7"/><circle cx="235.57" cy="420.52" r="0.7"/><circle cx="253.11" cy="419.56" r="0.7"/><g fill="#fff"><circle cx="267.05" cy="417.17" r="0.5"/><circle cx="267.14" cy="418.02" r="0.5"/><circle cx="245.90" cy="418.28" r="0.5"/><circle cx="255.78" cy="416.90" r="0.5"/><circle cx="295.79" cy="418.09" r="0.5"/><circle cx="283.98" cy="418.28" r="0.5"/><circle cx="262.62" cy="416.71" r="0.5"/><circle cx="269.58" cy="418.47" r="0.5"/><circle cx="245.19" cy="417.96" r="0.5"/><circle cx="266.24" cy="418.80" r="0.5"/><circle cx="282.67" cy="418.73" r="0.5"/><circle cx="261.94" cy="417.12" r="0.5"/><circle cx="250.46" cy="416.23" r="0.5"/><circle cx="254.91" cy="416.25" r="0.5"/><circle cx="276.81" cy="417.49" r="0.5"/><circle cx="284.60" cy="418.13" r="0.5"/><circle cx="300.92" cy="417.35" r="0.5"/><circle cx="276.10" cy="417.35" r="0.5"/><circle cx="266.42" cy="416.69" r="0.5"/><circle cx="254.69" cy="416.66" r="0.5"/><circle cx="268.60" cy="417.06" r="0.5"/><circle cx="271.30" cy="417.84" r="0.5"/><circle cx="302.12" cy="417.54" r="0.5"/><circle cx="302.37" cy="416.61" r="0.5"/><circle cx="275.60" cy="417.54" r="0.5"/><circle cx="264.56" cy="417.11" r="0.5"/><circle cx="249.54" cy="418.94" r="0.5"/><circle cx="238.25" cy="418.32" r="0.5"/><circle cx="266.55" cy="416.71" r="0.5"/><circle cx="254.50" cy="418.81" r="0.5"/></g><circle cx="236.8" cy="420.7" r="0.9"/><circle cx="243.4" cy="420.4" r="0.9"/><circle cx="257" cy="421" r="0.9"/><circle cx="272.6" cy="420.4" r="0.9"/><circle cx="285.6" cy="420.8" r="0.9"/><circle cx="298.5" cy="420.8" r="0.9"/></g><rect x="229.4" y="393.7" width="77.90" height="28.40" fill="none" stroke="#9a9a9a" stroke-width="1"/><line x1="226.80" y1="394.6" x2="229.4" y2="394.6" stroke="#333" stroke-width="0.9"/><line x1="226.80" y1="404.45" x2="229.4" y2="404.45" stroke="#333" stroke-width="0.9"/><line x1="226.80" y1="414.3" x2="229.4" y2="414.3" stroke="#333" stroke-width="0.9"/><line x1="233.0" y1="422.1" x2="233.0" y2="424.70" stroke="#333" stroke-width="0.9"/><line x1="252.6" y1="422.1" x2="252.6" y2="424.70" stroke="#333" stroke-width="0.9"/><line x1="272.5" y1="422.1" x2="272.5" y2="424.70" stroke="#333" stroke-width="0.9"/><line x1="291.5" y1="422.1" x2="291.5" y2="424.70" stroke="#333" stroke-width="0.9"/><g style="font-family:&quot;Liberation Sans&quot;,sans-serif;font-size:8.5px" fill="#5c5c5c" stroke="#5c5c5c" stroke-width="0.08"><text x="224.6" y="397.60" text-anchor="end" textLength="17.20" lengthAdjust="spacingAndGlyphs">2000</text><text x="224.6" y="407.45" text-anchor="end" textLength="17.20" lengthAdjust="spacingAndGlyphs">1990</text><text x="224.6" y="417.30" text-anchor="end" textLength="17.20" lengthAdjust="spacingAndGlyphs">1980</text><text x="233.0" y="433.00" text-anchor="middle" textLength="4.30" lengthAdjust="spacingAndGlyphs">0</text><text x="252.6" y="433.00" text-anchor="middle" textLength="8.60" lengthAdjust="spacingAndGlyphs">20</text><text x="272.5" y="433.00" text-anchor="middle" textLength="8.60" lengthAdjust="spacingAndGlyphs">40</text><text x="291.5" y="433.00" text-anchor="middle" textLength="8.60" lengthAdjust="spacingAndGlyphs">60</text></g><text transform="translate(202.70,408.30) rotate(-90)" x="0" y="0" text-anchor="middle" textLength="40.0" lengthAdjust="spacingAndGlyphs" style="font-family:&quot;Liberation Sans&quot;,sans-serif;font-size:10.3px" fill="#1a1a1a">Elevation</text><text x="268.75" y="444.60" text-anchor="middle" style="font-family:&quot;Liberation Sans&quot;,sans-serif;font-size:10.4px" fill="#000">X</text><rect x="322.4" y="388.6" width="10.50" height="53.90" fill="url(#cK)"/><g style="font-family:&quot;Liberation Sans&quot;,sans-serif;font-size:8.7px" fill="#1a1a1a" stroke="#1a1a1a" stroke-width="0.08"><text x="338.4" y="401.40" textLength="17.60" lengthAdjust="spacingAndGlyphs">1995</text><text x="338.4" y="411.40" textLength="17.60" lengthAdjust="spacingAndGlyphs">1990</text><text x="338.4" y="421.40" textLength="17.60" lengthAdjust="spacingAndGlyphs">1985</text><text x="338.4" y="431.40" textLength="17.60" lengthAdjust="spacingAndGlyphs">1980</text><text x="338.4" y="441.40" textLength="17.60" lengthAdjust="spacingAndGlyphs">1975</text></g><text x="322.4" y="382.90" style="font-family:&quot;Liberation Sans&quot;,sans-serif;font-size:10.4px" fill="#000">Z</text><text x="426.9" y="363.5" textLength="82.2" lengthAdjust="spacingAndGlyphs" style="font-family:&quot;Liberation Serif&quot;,serif;font-size:11.6px" fill="#000">(<tspan font-weight="bold">f</tspan>) CS ratio = 0.04</text><line x1="435.25" y1="389.5" x2="435.25" y2="423.2" stroke="#f2f2f2" stroke-width="0.6"/><line x1="453.30" y1="389.5" x2="453.30" y2="423.2" stroke="#f2f2f2" stroke-width="0.6"/><line x1="471.50" y1="389.5" x2="471.50" y2="423.2" stroke="#f2f2f2" stroke-width="0.6"/><line x1="489.55" y1="389.5" x2="489.55" y2="423.2" stroke="#f2f2f2" stroke-width="0.6"/><line x1="423.1" y1="393.85" x2="494.7" y2="393.85" stroke="#f2f2f2" stroke-width="0.6"/><line x1="423.1" y1="403.15" x2="494.7" y2="403.15" stroke="#f2f2f2" stroke-width="0.6"/><line x1="423.1" y1="412.45" x2="494.7" y2="412.45" stroke="#f2f2f2" stroke-width="0.6"/><line x1="423.1" y1="421.75" x2="494.7" y2="421.75" stroke="#f2f2f2" stroke-width="0.6"/><line x1="426.30" y1="389.5" x2="426.30" y2="423.2" stroke="#e6e6e6" stroke-width="0.8"/><line x1="444.20" y1="389.5" x2="444.20" y2="423.2" stroke="#e6e6e6" stroke-width="0.8"/><line x1="462.40" y1="389.5" x2="462.40" y2="423.2" stroke="#e6e6e6" stroke-width="0.8"/><line x1="480.60" y1="389.5" x2="480.60" y2="423.2" stroke="#e6e6e6" stroke-width="0.8"/><line x1="423.1" y1="398.50" x2="494.7" y2="398.50" stroke="#e6e6e6" stroke-width="0.8"/><line x1="423.1" y1="407.80" x2="494.7" y2="407.80" stroke="#e6e6e6" stroke-width="0.8"/><line x1="423.1" y1="417.10" x2="494.7" y2="417.10" stroke="#e6e6e6" stroke-width="0.8"/><g clip-path="url(#kL)" fill="url(#gL)" stroke="none"><circle cx="426.2" cy="403" r="0.8"/><circle cx="430.04" cy="397.82" r="0.75"/><circle cx="430.67" cy="397.91" r="0.75"/><circle cx="429.88" cy="398.48" r="0.75"/><circle cx="430.88" cy="398.90" r="0.75"/><circle cx="429.23" cy="400.12" r="0.75"/><circle cx="429.68" cy="399.92" r="0.75"/><circle cx="431.00" cy="400.90" r="0.75"/><circle cx="428.90" cy="401.64" r="0.75"/><circle cx="429.87" cy="401.80" r="0.75"/><circle cx="431.04" cy="402.13" r="0.75"/><circle cx="428.80" cy="402.73" r="0.75"/><circle cx="428.77" cy="403.62" r="0.75"/><circle cx="430.13" cy="403.57" r="0.75"/><circle cx="431.26" cy="404.02" r="0.75"/><circle cx="429.22" cy="404.63" r="0.75"/><circle cx="430.93" cy="404.66" r="0.75"/><circle cx="430.02" cy="405.83" r="0.75"/><circle cx="431.06" cy="405.48" r="0.75"/><circle cx="429.32" cy="406.77" r="0.75"/><circle cx="430.06" cy="406.72" r="0.75"/><circle cx="428.99" cy="407.93" r="0.75"/><circle cx="429.86" cy="407.54" r="0.75"/><circle cx="430.74" cy="408.03" r="0.75"/><circle cx="429.27" cy="409.02" r="0.75"/><circle cx="430.27" cy="409.00" r="0.75"/><circle cx="430.83" cy="408.51" r="0.75"/><circle cx="428.72" cy="409.92" r="0.75"/><circle cx="430.31" cy="409.72" r="0.75"/><circle cx="436.42" cy="400.64" r="0.75"/><circle cx="436.24" cy="401.41" r="0.75"/><circle cx="435.32" cy="402.75" r="0.75"/><circle cx="435.91" cy="402.90" r="0.75"/><circle cx="435.40" cy="403.64" r="0.75"/><circle cx="437.01" cy="403.50" r="0.75"/><circle cx="436.09" cy="404.42" r="0.75"/><circle cx="435.11" cy="405.54" r="0.75"/><circle cx="436.39" cy="405.65" r="0.75"/><circle cx="436.25" cy="406.43" r="0.75"/><circle cx="436.81" cy="406.97" r="0.75"/><circle cx="436.83" cy="407.71" r="0.75"/><circle cx="435.75" cy="409.04" r="0.75"/><circle cx="434.77" cy="409.85" r="0.75"/><circle cx="435.75" cy="409.66" r="0.75"/><circle cx="436.79" cy="409.83" r="0.75"/><circle cx="442.66" cy="409.15" r="0.75"/><circle cx="439.19" cy="409.05" r="0.75"/><circle cx="439.60" cy="409.61" r="0.75"/><circle cx="439.86" cy="410.33" r="0.75"/><circle cx="438.39" cy="408.96" r="0.75"/><circle cx="441.86" cy="409.40" r="0.75"/><circle cx="438.77" cy="409.27" r="0.75"/><circle cx="439.90" cy="410.10" r="0.75"/><polygon points="445.30,395.40 449.10,390.30 450.90,397.50 448.50,396.00"/><polyline points="448.30,394.00 449.20,393.50" fill="none" stroke="#fff" stroke-width="0.9" stroke-linecap="round" stroke-linejoin="round"/><circle cx="445.3" cy="398.8" r="1.1"/><circle cx="444.40" cy="400.62" r="0.75"/><circle cx="444.98" cy="400.52" r="0.75"/><circle cx="446.12" cy="400.80" r="0.75"/><circle cx="444.62" cy="401.26" r="0.75"/><circle cx="444.97" cy="401.74" r="0.75"/><circle cx="444.19" cy="402.39" r="0.75"/><circle cx="445.16" cy="402.48" r="0.75"/><circle cx="446.14" cy="402.24" r="0.75"/><circle cx="444.41" cy="403.15" r="0.75"/><circle cx="445.54" cy="403.57" r="0.75"/><circle cx="444.05" cy="404.78" r="0.75"/><circle cx="445.56" cy="404.61" r="0.75"/><circle cx="446.45" cy="404.34" r="0.75"/><circle cx="444.39" cy="405.69" r="0.75"/><circle cx="445.48" cy="405.53" r="0.75"/><circle cx="446.02" cy="405.52" r="0.75"/><circle cx="444.39" cy="406.70" r="0.75"/><circle cx="445.25" cy="406.59" r="0.75"/><circle cx="444.19" cy="407.19" r="0.75"/><circle cx="445.11" cy="407.64" r="0.75"/><circle cx="446.55" cy="407.19" r="0.75"/><circle cx="444.19" cy="408.39" r="0.75"/><circle cx="445.53" cy="408.47" r="0.75"/><circle cx="446.03" cy="408.54" r="0.75"/><circle cx="444.04" cy="409.39" r="0.75"/><circle cx="445.34" cy="409.21" r="0.75"/><circle cx="449.20" cy="398.67" r="0.75"/><circle cx="448.81" cy="400.09" r="0.75"/><circle cx="449.72" cy="400.29" r="0.75"/><circle cx="450.90" cy="399.97" r="0.75"/><circle cx="450.77" cy="400.94" r="0.75"/><circle cx="448.84" cy="401.73" r="0.75"/><circle cx="449.78" cy="401.88" r="0.75"/><circle cx="450.73" cy="401.81" r="0.75"/><circle cx="449.93" cy="402.87" r="0.75"/><circle cx="448.67" cy="404.13" r="0.75"/><circle cx="450.25" cy="404.17" r="0.75"/><circle cx="450.85" cy="404.29" r="0.75"/><circle cx="450.69" cy="405.11" r="0.75"/><circle cx="448.66" cy="405.69" r="0.75"/><circle cx="450.19" cy="405.88" r="0.75"/><circle cx="450.62" cy="406.26" r="0.75"/><circle cx="450.05" cy="407.17" r="0.75"/><circle cx="448.63" cy="408.23" r="0.75"/><circle cx="448.84" cy="409.05" r="0.75"/><circle cx="449.77" cy="408.91" r="0.75"/><circle cx="450.99" cy="409.22" r="0.75"/><circle cx="462.79" cy="402.18" r="0.75"/><circle cx="462.89" cy="403.56" r="0.75"/><circle cx="461.91" cy="404.62" r="0.75"/><circle cx="463.42" cy="404.38" r="0.75"/><circle cx="463.15" cy="405.18" r="0.75"/><circle cx="462.05" cy="406.18" r="0.75"/><circle cx="463.33" cy="406.23" r="0.75"/><circle cx="461.92" cy="407.52" r="0.75"/><circle cx="462.94" cy="407.47" r="0.75"/><circle cx="462.41" cy="408.47" r="0.75"/><circle cx="463.27" cy="408.26" r="0.75"/><circle cx="462.29" cy="409.80" r="0.75"/><circle cx="463.27" cy="409.70" r="0.75"/><polygon points="473.60,395.00 475.20,390.80 478.00,395.60"/><circle cx="473.91" cy="395.74" r="0.8"/><circle cx="476.30" cy="395.71" r="0.8"/><circle cx="473.24" cy="396.81" r="0.8"/><circle cx="474.05" cy="396.70" r="0.8"/><circle cx="479.35" cy="396.84" r="0.8"/><circle cx="472.95" cy="397.35" r="0.8"/><circle cx="474.05" cy="397.43" r="0.8"/><circle cx="474.94" cy="397.50" r="0.8"/><circle cx="476.24" cy="397.78" r="0.8"/><circle cx="477.18" cy="397.36" r="0.8"/><circle cx="477.87" cy="397.25" r="0.8"/><circle cx="479.29" cy="397.60" r="0.8"/><circle cx="479.74" cy="397.69" r="0.8"/><circle cx="480.75" cy="397.85" r="0.8"/><circle cx="474.89" cy="398.53" r="0.8"/><circle cx="475.76" cy="398.34" r="0.8"/><circle cx="477.33" cy="398.48" r="0.8"/><circle cx="480.92" cy="398.61" r="0.8"/><circle cx="473.12" cy="399.17" r="0.8"/><circle cx="473.69" cy="399.51" r="0.8"/><circle cx="475.11" cy="399.44" r="0.8"/><circle cx="477.34" cy="399.23" r="0.8"/><circle cx="478.00" cy="399.50" r="0.8"/><circle cx="479.78" cy="399.32" r="0.8"/><circle cx="481.22" cy="399.61" r="0.8"/><circle cx="481.92" cy="399.69" r="0.8"/><circle cx="471.73" cy="400.40" r="0.8"/><circle cx="472.97" cy="400.31" r="0.8"/><circle cx="473.89" cy="400.76" r="0.8"/><circle cx="474.71" cy="400.24" r="0.8"/><circle cx="475.95" cy="400.80" r="0.8"/><circle cx="476.84" cy="400.24" r="0.8"/><circle cx="478.23" cy="400.31" r="0.8"/><circle cx="478.90" cy="400.82" r="0.8"/><circle cx="481.21" cy="400.56" r="0.8"/><circle cx="482.01" cy="400.78" r="0.8"/><circle cx="472.05" cy="401.50" r="0.8"/><circle cx="473.18" cy="401.22" r="0.8"/><circle cx="475.05" cy="401.33" r="0.8"/><circle cx="476.09" cy="401.67" r="0.8"/><circle cx="478.81" cy="401.49" r="0.8"/><circle cx="480.80" cy="401.52" r="0.8"/><circle cx="481.71" cy="401.72" r="0.8"/><circle cx="472.24" cy="402.22" r="0.8"/><circle cx="472.73" cy="402.74" r="0.8"/><circle cx="474.07" cy="402.19" r="0.8"/><circle cx="474.92" cy="402.64" r="0.8"/><circle cx="476.34" cy="402.38" r="0.8"/><circle cx="476.98" cy="402.39" r="0.8"/><circle cx="477.68" cy="402.79" r="0.8"/><circle cx="479.74" cy="402.29" r="0.8"/><circle cx="480.67" cy="402.39" r="0.8"/><circle cx="481.88" cy="402.74" r="0.8"/><circle cx="472.35" cy="403.36" r="0.8"/><circle cx="473.18" cy="403.66" r="0.8"/><circle cx="475.22" cy="403.22" r="0.8"/><circle cx="476.13" cy="403.55" r="0.8"/><circle cx="476.97" cy="403.45" r="0.8"/><circle cx="478.08" cy="403.74" r="0.8"/><circle cx="479.04" cy="403.42" r="0.8"/><circle cx="480.14" cy="403.15" r="0.8"/><circle cx="481.77" cy="403.67" r="0.8"/><circle cx="471.86" cy="404.49" r="0.8"/><circle cx="473.90" cy="404.81" r="0.8"/><circle cx="474.72" cy="404.66" r="0.8"/><circle cx="478.13" cy="404.30" r="0.8"/><circle cx="479.31" cy="404.75" r="0.8"/><circle cx="481.15" cy="404.40" r="0.8"/><circle cx="482.30" cy="404.67" r="0.8"/><circle cx="472.94" cy="405.79" r="0.8"/><circle cx="477.15" cy="405.22" r="0.8"/><circle cx="477.66" cy="405.45" r="0.8"/><circle cx="478.94" cy="405.62" r="0.8"/><circle cx="480.27" cy="405.80" r="0.8"/><circle cx="480.88" cy="405.44" r="0.8"/><circle cx="482.24" cy="405.71" r="0.8"/><circle cx="472.10" cy="406.36" r="0.8"/><circle cx="473.18" cy="406.21" r="0.8"/><circle cx="474.80" cy="406.68" r="0.8"/><circle cx="477.31" cy="406.51" r="0.8"/><circle cx="478.03" cy="406.31" r="0.8"/><circle cx="479.09" cy="406.73" r="0.8"/><circle cx="482.16" cy="406.76" r="0.8"/><circle cx="473.31" cy="407.82" r="0.8"/><circle cx="473.80" cy="407.58" r="0.8"/><circle cx="474.95" cy="407.50" r="0.8"/><circle cx="475.94" cy="407.57" r="0.8"/><circle cx="477.14" cy="407.22" r="0.8"/><circle cx="477.99" cy="407.69" r="0.8"/><circle cx="479.17" cy="407.31" r="0.8"/><circle cx="480.25" cy="407.29" r="0.8"/><circle cx="481.67" cy="407.48" r="0.8"/><circle cx="471.74" cy="408.41" r="0.8"/><circle cx="472.98" cy="408.79" r="0.8"/><circle cx="474.28" cy="408.35" r="0.8"/><circle cx="474.76" cy="408.56" r="0.8"/><circle cx="476.23" cy="408.19" r="0.8"/><circle cx="476.76" cy="408.83" r="0.8"/><circle cx="478.25" cy="408.27" r="0.8"/><circle cx="479.80" cy="408.79" r="0.8"/><circle cx="481.95" cy="408.31" r="0.8"/><circle cx="472.24" cy="409.67" r="0.8"/><circle cx="472.69" cy="409.47" r="0.8"/><circle cx="474.02" cy="409.62" r="0.8"/><circle cx="474.65" cy="409.36" r="0.8"/><circle cx="475.95" cy="409.35" r="0.8"/><circle cx="476.81" cy="409.49" r="0.8"/><circle cx="479.32" cy="409.61" r="0.8"/><circle cx="482.29" cy="409.29" r="0.8"/><circle cx="486.50" cy="400.24" r="0.75"/><circle cx="486.74" cy="401.26" r="0.75"/><circle cx="487.36" cy="401.66" r="0.75"/><circle cx="485.56" cy="402.22" r="0.75"/><circle cx="486.36" cy="404.39" r="0.75"/><circle cx="485.12" cy="405.33" r="0.75"/><circle cx="487.30" cy="405.76" r="0.75"/><circle cx="486.15" cy="406.37" r="0.75"/><circle cx="485.50" cy="407.74" r="0.75"/><circle cx="487.37" cy="407.60" r="0.75"/><circle cx="485.42" cy="408.47" r="0.75"/><circle cx="486.45" cy="408.43" r="0.75"/><circle cx="487.34" cy="408.70" r="0.75"/><circle cx="485.38" cy="409.31" r="0.75"/><circle cx="487.29" cy="409.82" r="0.75"/><circle cx="491.04" cy="407.13" r="0.75"/><circle cx="491.22" cy="407.88" r="0.75"/><circle cx="491.20" cy="408.60" r="0.75"/><circle cx="489.94" cy="409.73" r="0.75"/><circle cx="491.17" cy="409.48" r="0.75"/><circle cx="424.82" cy="409.86" r="0.7"/><circle cx="425.60" cy="409.74" r="0.7"/><circle cx="426.85" cy="409.77" r="0.7"/><circle cx="427.17" cy="409.59" r="0.7"/><circle cx="428.59" cy="409.83" r="0.7"/><circle cx="429.58" cy="409.44" r="0.7"/><circle cx="430.19" cy="409.61" r="0.7"/><circle cx="432.24" cy="409.80" r="0.7"/><circle cx="432.61" cy="409.79" r="0.7"/><circle cx="433.60" cy="409.36" r="0.7"/><circle cx="435.00" cy="409.89" r="0.7"/><circle cx="435.65" cy="409.74" r="0.7"/><circle cx="436.68" cy="409.97" r="0.7"/><circle cx="440.38" cy="409.86" r="0.7"/><circle cx="442.65" cy="409.55" r="0.7"/><circle cx="444.54" cy="409.73" r="0.7"/><circle cx="445.73" cy="409.84" r="0.7"/><circle cx="446.27" cy="409.90" r="0.7"/><circle cx="447.19" cy="409.70" r="0.7"/><circle cx="448.15" cy="409.36" r="0.7"/><circle cx="449.25" cy="409.39" r="0.7"/><circle cx="450.07" cy="409.68" r="0.7"/><circle cx="450.79" cy="409.46" r="0.7"/><circle cx="452.32" cy="409.47" r="0.7"/><circle cx="453.45" cy="409.71" r="0.7"/><circle cx="455.57" cy="409.69" r="0.7"/><circle cx="456.89" cy="409.78" r="0.7"/><circle cx="460.53" cy="409.79" r="0.7"/><circle cx="461.31" cy="409.96" r="0.7"/><circle cx="462.81" cy="409.99" r="0.7"/><circle cx="464.55" cy="409.79" r="0.7"/><circle cx="467.61" cy="409.80" r="0.7"/><circle cx="469.71" cy="409.72" r="0.7"/><circle cx="470.84" cy="409.53" r="0.7"/><circle cx="471.45" cy="409.85" r="0.7"/><circle cx="472.50" cy="409.93" r="0.7"/><circle cx="473.35" cy="409.54" r="0.7"/><circle cx="474.89" cy="409.85" r="0.7"/><circle cx="475.93" cy="409.64" r="0.7"/><circle cx="478.83" cy="409.63" r="0.7"/><circle cx="479.79" cy="409.70" r="0.7"/><circle cx="481.65" cy="409.65" r="0.7"/><circle cx="482.32" cy="409.93" r="0.7"/><circle cx="484.33" cy="409.53" r="0.7"/><circle cx="485.01" cy="409.99" r="0.7"/><circle cx="487.05" cy="409.69" r="0.7"/><circle cx="487.56" cy="409.67" r="0.7"/><circle cx="490.78" cy="409.73" r="0.7"/><circle cx="424.52" cy="410.85" r="0.7"/><circle cx="425.70" cy="410.21" r="0.7"/><circle cx="426.50" cy="410.26" r="0.7"/><circle cx="427.43" cy="410.34" r="0.7"/><circle cx="428.67" cy="410.81" r="0.7"/><circle cx="429.11" cy="410.36" r="0.7"/><circle cx="430.45" cy="410.35" r="0.7"/><circle cx="431.30" cy="410.21" r="0.7"/><circle cx="432.29" cy="410.60" r="0.7"/><circle cx="432.71" cy="410.73" r="0.7"/><circle cx="433.46" cy="410.52" r="0.7"/><circle cx="434.42" cy="410.29" r="0.7"/><circle cx="435.48" cy="410.87" r="0.7"/><circle cx="436.72" cy="410.21" r="0.7"/><circle cx="437.11" cy="410.24" r="0.7"/><circle cx="438.39" cy="410.62" r="0.7"/><circle cx="439.31" cy="410.69" r="0.7"/><circle cx="440.18" cy="410.26" r="0.7"/><circle cx="441.27" cy="410.81" r="0.7"/><circle cx="441.59" cy="410.81" r="0.7"/><circle cx="442.91" cy="410.85" r="0.7"/><circle cx="443.32" cy="410.86" r="0.7"/><circle cx="444.26" cy="410.52" r="0.7"/><circle cx="445.53" cy="410.57" r="0.7"/><circle cx="447.16" cy="410.31" r="0.7"/><circle cx="448.88" cy="410.81" r="0.7"/><circle cx="449.94" cy="410.87" r="0.7"/><circle cx="450.98" cy="410.90" r="0.7"/><circle cx="451.89" cy="410.78" r="0.7"/><circle cx="452.49" cy="410.47" r="0.7"/><circle cx="453.55" cy="410.80" r="0.7"/><circle cx="454.72" cy="410.39" r="0.7"/><circle cx="455.46" cy="410.77" r="0.7"/><circle cx="457.07" cy="410.73" r="0.7"/><circle cx="458.25" cy="410.39" r="0.7"/><circle cx="459.13" cy="410.61" r="0.7"/><circle cx="460.01" cy="410.25" r="0.7"/><circle cx="460.69" cy="410.73" r="0.7"/><circle cx="461.55" cy="410.42" r="0.7"/><circle cx="462.29" cy="410.38" r="0.7"/><circle cx="463.24" cy="410.84" r="0.7"/><circle cx="464.22" cy="410.32" r="0.7"/><circle cx="465.18" cy="410.30" r="0.7"/><circle cx="466.47" cy="410.86" r="0.7"/><circle cx="467.36" cy="410.69" r="0.7"/><circle cx="468.79" cy="410.32" r="0.7"/><circle cx="470.08" cy="410.86" r="0.7"/><circle cx="471.68" cy="410.90" r="0.7"/><circle cx="472.70" cy="410.81" r="0.7"/><circle cx="473.61" cy="410.45" r="0.7"/><circle cx="474.20" cy="410.35" r="0.7"/><circle cx="475.36" cy="410.65" r="0.7"/><circle cx="475.88" cy="410.79" r="0.7"/><circle cx="477.07" cy="410.77" r="0.7"/><circle cx="478.06" cy="410.80" r="0.7"/><circle cx="478.43" cy="410.81" r="0.7"/><circle cx="479.67" cy="410.85" r="0.7"/><circle cx="480.55" cy="410.24" r="0.7"/><circle cx="481.70" cy="410.51" r="0.7"/><circle cx="482.11" cy="410.76" r="0.7"/><circle cx="483.41" cy="410.22" r="0.7"/><circle cx="484.26" cy="410.78" r="0.7"/><circle cx="485.18" cy="410.52" r="0.7"/><circle cx="485.80" cy="410.34" r="0.7"/><circle cx="486.89" cy="410.42" r="0.7"/><circle cx="487.64" cy="410.56" r="0.7"/><circle cx="488.62" cy="410.45" r="0.7"/><circle cx="489.46" cy="410.23" r="0.7"/><circle cx="490.31" cy="410.72" r="0.7"/><circle cx="425.54" cy="411.57" r="0.7"/><circle cx="427.55" cy="411.18" r="0.7"/><circle cx="428.32" cy="411.56" r="0.7"/><circle cx="429.42" cy="411.69" r="0.7"/><circle cx="430.17" cy="411.17" r="0.7"/><circle cx="431.10" cy="411.68" r="0.7"/><circle cx="432.16" cy="411.56" r="0.7"/><circle cx="432.55" cy="411.46" r="0.7"/><circle cx="433.94" cy="411.57" r="0.7"/><circle cx="434.99" cy="411.73" r="0.7"/><circle cx="435.35" cy="411.64" r="0.7"/><circle cx="436.70" cy="411.29" r="0.7"/><circle cx="437.25" cy="411.51" r="0.7"/><circle cx="438.33" cy="411.14" r="0.7"/><circle cx="439.05" cy="411.51" r="0.7"/><circle cx="440.05" cy="411.77" r="0.7"/><circle cx="441.11" cy="411.38" r="0.7"/><circle cx="441.73" cy="411.36" r="0.7"/><circle cx="442.74" cy="411.65" r="0.7"/><circle cx="443.58" cy="411.64" r="0.7"/><circle cx="444.22" cy="411.68" r="0.7"/><circle cx="445.55" cy="411.45" r="0.7"/><circle cx="446.69" cy="411.51" r="0.7"/><circle cx="447.26" cy="411.24" r="0.7"/><circle cx="448.22" cy="411.25" r="0.7"/><circle cx="449.05" cy="411.58" r="0.7"/><circle cx="450.17" cy="411.80" r="0.7"/><circle cx="451.71" cy="411.50" r="0.7"/><circle cx="452.96" cy="411.64" r="0.7"/><circle cx="454.45" cy="411.46" r="0.7"/><circle cx="455.18" cy="411.56" r="0.7"/><circle cx="457.03" cy="411.46" r="0.7"/><circle cx="457.88" cy="411.22" r="0.7"/><circle cx="458.64" cy="411.30" r="0.7"/><circle cx="460.12" cy="411.55" r="0.7"/><circle cx="460.63" cy="411.58" r="0.7"/><circle cx="461.89" cy="411.69" r="0.7"/><circle cx="462.56" cy="411.35" r="0.7"/><circle cx="464.03" cy="411.26" r="0.7"/><circle cx="466.31" cy="411.44" r="0.7"/><circle cx="467.00" cy="411.47" r="0.7"/><circle cx="468.16" cy="411.76" r="0.7"/><circle cx="469.08" cy="411.21" r="0.7"/><circle cx="470.04" cy="411.15" r="0.7"/><circle cx="470.47" cy="411.48" r="0.7"/><circle cx="471.83" cy="411.17" r="0.7"/><circle cx="472.77" cy="411.38" r="0.7"/><circle cx="473.43" cy="411.26" r="0.7"/><circle cx="473.99" cy="411.32" r="0.7"/><circle cx="474.93" cy="411.72" r="0.7"/><circle cx="476.31" cy="411.42" r="0.7"/><circle cx="476.94" cy="411.35" r="0.7"/><circle cx="478.54" cy="411.25" r="0.7"/><circle cx="479.57" cy="411.18" r="0.7"/><circle cx="480.82" cy="411.48" r="0.7"/><circle cx="481.45" cy="411.27" r="0.7"/><circle cx="482.21" cy="411.37" r="0.7"/><circle cx="483.19" cy="411.71" r="0.7"/><circle cx="484.02" cy="411.22" r="0.7"/><circle cx="484.82" cy="411.49" r="0.7"/><circle cx="486.11" cy="411.47" r="0.7"/><circle cx="487.16" cy="411.44" r="0.7"/><circle cx="487.78" cy="411.46" r="0.7"/><circle cx="488.33" cy="411.45" r="0.7"/><circle cx="489.45" cy="411.55" r="0.7"/><circle cx="490.61" cy="411.66" r="0.7"/><circle cx="425.04" cy="412.29" r="0.7"/><circle cx="425.31" cy="412.26" r="0.7"/><circle cx="426.74" cy="412.30" r="0.7"/><circle cx="427.52" cy="412.04" r="0.7"/><circle cx="428.59" cy="412.09" r="0.7"/><circle cx="429.25" cy="412.43" r="0.7"/><circle cx="430.09" cy="412.65" r="0.7"/><circle cx="432.72" cy="412.19" r="0.7"/><circle cx="433.83" cy="412.39" r="0.7"/><circle cx="434.86" cy="412.68" r="0.7"/><circle cx="435.40" cy="412.01" r="0.7"/><circle cx="436.27" cy="412.12" r="0.7"/><circle cx="437.47" cy="412.31" r="0.7"/><circle cx="438.57" cy="412.24" r="0.7"/><circle cx="439.25" cy="412.27" r="0.7"/><circle cx="440.78" cy="412.16" r="0.7"/><circle cx="441.82" cy="412.65" r="0.7"/><circle cx="442.64" cy="412.21" r="0.7"/><circle cx="443.88" cy="412.22" r="0.7"/><circle cx="444.38" cy="412.57" r="0.7"/><circle cx="445.57" cy="412.47" r="0.7"/><circle cx="446.38" cy="412.02" r="0.7"/><circle cx="447.07" cy="412.60" r="0.7"/><circle cx="448.28" cy="412.48" r="0.7"/><circle cx="449.27" cy="412.64" r="0.7"/><circle cx="449.78" cy="412.52" r="0.7"/><circle cx="451.03" cy="412.39" r="0.7"/><circle cx="451.47" cy="412.13" r="0.7"/><circle cx="452.37" cy="412.61" r="0.7"/><circle cx="453.44" cy="412.32" r="0.7"/><circle cx="454.59" cy="412.06" r="0.7"/><circle cx="455.98" cy="412.51" r="0.7"/><circle cx="457.25" cy="412.39" r="0.7"/><circle cx="458.06" cy="412.57" r="0.7"/><circle cx="459.14" cy="412.41" r="0.7"/><circle cx="459.57" cy="412.21" r="0.7"/><circle cx="460.42" cy="412.38" r="0.7"/><circle cx="461.43" cy="412.11" r="0.7"/><circle cx="462.82" cy="412.39" r="0.7"/><circle cx="463.50" cy="412.30" r="0.7"/><circle cx="464.05" cy="412.69" r="0.7"/><circle cx="465.41" cy="412.63" r="0.7"/><circle cx="465.84" cy="412.16" r="0.7"/><circle cx="466.84" cy="412.28" r="0.7"/><circle cx="468.01" cy="412.50" r="0.7"/><circle cx="469.15" cy="412.62" r="0.7"/><circle cx="469.87" cy="412.67" r="0.7"/><circle cx="470.69" cy="412.28" r="0.7"/><circle cx="471.39" cy="412.06" r="0.7"/><circle cx="472.64" cy="412.35" r="0.7"/><circle cx="473.50" cy="412.22" r="0.7"/><circle cx="474.06" cy="412.14" r="0.7"/><circle cx="475.47" cy="412.62" r="0.7"/><circle cx="476.35" cy="412.02" r="0.7"/><circle cx="476.92" cy="412.16" r="0.7"/><circle cx="477.66" cy="412.37" r="0.7"/><circle cx="478.70" cy="412.63" r="0.7"/><circle cx="479.43" cy="412.15" r="0.7"/><circle cx="480.45" cy="412.05" r="0.7"/><circle cx="481.18" cy="412.34" r="0.7"/><circle cx="482.65" cy="412.56" r="0.7"/><circle cx="483.28" cy="412.06" r="0.7"/><circle cx="484.37" cy="412.06" r="0.7"/><circle cx="484.87" cy="412.15" r="0.7"/><circle cx="485.75" cy="412.65" r="0.7"/><circle cx="486.96" cy="412.17" r="0.7"/><circle cx="488.66" cy="412.66" r="0.7"/><circle cx="489.83" cy="412.37" r="0.7"/><circle cx="490.15" cy="412.59" r="0.7"/><circle cx="427.26" cy="412.94" r="0.7"/><circle cx="429.18" cy="413.12" r="0.7"/><circle cx="433.07" cy="413.05" r="0.7"/><circle cx="435.71" cy="412.91" r="0.7"/><circle cx="439.09" cy="412.99" r="0.7"/><circle cx="443.91" cy="413.06" r="0.7"/><circle cx="447.40" cy="413.22" r="0.7"/><circle cx="449.13" cy="413.02" r="0.7"/><circle cx="450.79" cy="413.16" r="0.7"/><circle cx="451.91" cy="412.92" r="0.7"/><circle cx="454.79" cy="412.91" r="0.7"/><circle cx="458.20" cy="413.02" r="0.7"/><circle cx="461.99" cy="413.05" r="0.7"/><circle cx="463.73" cy="413.11" r="0.7"/><circle cx="467.13" cy="413.21" r="0.7"/><circle cx="468.89" cy="413.21" r="0.7"/><circle cx="469.60" cy="412.90" r="0.7"/><circle cx="470.45" cy="413.02" r="0.7"/><circle cx="472.54" cy="412.95" r="0.7"/><circle cx="473.58" cy="413.17" r="0.7"/><circle cx="474.25" cy="412.92" r="0.7"/><circle cx="484.36" cy="412.95" r="0.7"/><circle cx="489.84" cy="412.97" r="0.7"/><circle cx="454.84" cy="414.73" r="0.75"/><circle cx="456.93" cy="415.31" r="0.75"/><circle cx="427.69" cy="414.73" r="0.75"/><circle cx="441.66" cy="414.62" r="0.75"/><circle cx="448.56" cy="414.62" r="0.75"/><circle cx="449.21" cy="415.68" r="0.75"/><circle cx="440.42" cy="416.38" r="0.75"/><circle cx="430.15" cy="414.67" r="0.75"/><circle cx="472.93" cy="415.60" r="0.75"/><circle cx="445.17" cy="414.64" r="0.75"/><circle cx="472.16" cy="414.88" r="0.75"/><circle cx="478.16" cy="416.26" r="0.75"/><circle cx="435.00" cy="415.65" r="0.75"/><circle cx="440.39" cy="415.37" r="0.75"/><circle cx="484.10" cy="415.55" r="0.75"/><circle cx="482.82" cy="414.78" r="0.75"/><circle cx="443.78" cy="415.31" r="0.75"/><circle cx="448.75" cy="415.26" r="0.75"/><circle cx="441.70" cy="414.44" r="0.75"/><circle cx="465.16" cy="414.19" r="0.75"/><circle cx="440.18" cy="414.13" r="0.75"/><circle cx="470.52" cy="414.31" r="0.75"/><circle cx="443.07" cy="416.13" r="0.75"/><circle cx="459.42" cy="415.11" r="0.75"/><circle cx="446.65" cy="415.24" r="0.75"/><circle cx="476.27" cy="414.84" r="0.75"/><circle cx="434.10" cy="414.38" r="0.75"/><circle cx="471.26" cy="415.14" r="0.75"/><circle cx="486.39" cy="414.47" r="0.75"/><circle cx="472.11" cy="414.91" r="0.75"/><circle cx="443.62" cy="415.77" r="0.75"/><circle cx="446.14" cy="414.48" r="0.75"/><circle cx="454.62" cy="415.01" r="0.75"/><circle cx="430.57" cy="416.46" r="0.75"/><circle cx="451.32" cy="414.84" r="0.75"/><circle cx="433.40" cy="414.28" r="0.75"/><circle cx="437.12" cy="414.09" r="0.75"/><circle cx="461.20" cy="415.58" r="0.75"/><circle cx="481.12" cy="414.58" r="0.75"/><circle cx="478.08" cy="415.84" r="0.75"/><circle cx="428.82" cy="414.41" r="0.75"/><circle cx="438.31" cy="416.16" r="0.75"/><circle cx="474.28" cy="414.06" r="0.75"/><circle cx="440.99" cy="414.32" r="0.75"/><circle cx="466.42" cy="415.02" r="0.75"/><circle cx="487.28" cy="416.08" r="0.75"/><circle cx="443.84" cy="414.61" r="0.75"/><circle cx="458.10" cy="414.95" r="0.75"/><circle cx="477.45" cy="414.40" r="0.75"/><circle cx="482.21" cy="415.43" r="0.75"/><circle cx="450.98" cy="416.41" r="0.75"/><circle cx="448.00" cy="415.90" r="0.75"/><circle cx="488.59" cy="416.22" r="0.75"/><circle cx="489.89" cy="415.05" r="0.75"/><circle cx="476.12" cy="416.07" r="0.75"/><circle cx="444.66" cy="415.08" r="0.75"/><circle cx="485.74" cy="415.93" r="0.75"/><circle cx="445.15" cy="415.91" r="0.75"/><circle cx="432.66" cy="414.92" r="0.75"/><circle cx="462.84" cy="414.70" r="0.75"/><polyline points="424.50,418.60 430.00,419.20 440.00,418.80 450.00,419.30 460.00,418.70 470.00,418.90 480.00,418.60 491.50,418.80" fill="none" stroke="url(#gL)" stroke-width="3.0" stroke-linecap="round" stroke-linejoin="round"/></g><rect x="423.1" y="389.5" width="71.60" height="33.70" fill="none" stroke="#9a9a9a" stroke-width="1"/><line x1="420.50" y1="398.5" x2="423.1" y2="398.5" stroke="#333" stroke-width="0.9"/><line x1="420.50" y1="407.8" x2="423.1" y2="407.8" stroke="#333" stroke-width="0.9"/><line x1="420.50" y1="417.1" x2="423.1" y2="417.1" stroke="#333" stroke-width="0.9"/><line x1="426.3" y1="423.2" x2="426.3" y2="425.80" stroke="#333" stroke-width="0.9"/><line x1="444.2" y1="423.2" x2="444.2" y2="425.80" stroke="#333" stroke-width="0.9"/><line x1="462.4" y1="423.2" x2="462.4" y2="425.80" stroke="#333" stroke-width="0.9"/><line x1="480.6" y1="423.2" x2="480.6" y2="425.80" stroke="#333" stroke-width="0.9"/><g style="font-family:&quot;Liberation Sans&quot;,sans-serif;font-size:8.5px" fill="#5c5c5c" stroke="#5c5c5c" stroke-width="0.08"><text x="419.3" y="401.50" text-anchor="end" textLength="16.00" lengthAdjust="spacingAndGlyphs">1980</text><text x="419.3" y="410.80" text-anchor="end" textLength="16.00" lengthAdjust="spacingAndGlyphs">1970</text><text x="419.3" y="420.10" text-anchor="end" textLength="16.00" lengthAdjust="spacingAndGlyphs">1960</text><text x="426.3" y="433.50" text-anchor="middle" textLength="4.00" lengthAdjust="spacingAndGlyphs">0</text><text x="444.2" y="433.50" text-anchor="middle" textLength="8.00" lengthAdjust="spacingAndGlyphs">20</text><text x="462.4" y="433.50" text-anchor="middle" textLength="8.00" lengthAdjust="spacingAndGlyphs">40</text><text x="480.6" y="433.50" text-anchor="middle" textLength="8.00" lengthAdjust="spacingAndGlyphs">60</text></g><text transform="translate(398.50,406.25) rotate(-90)" x="0" y="0" text-anchor="middle" textLength="38.1" lengthAdjust="spacingAndGlyphs" style="font-family:&quot;Liberation Sans&quot;,sans-serif;font-size:10.3px" fill="#1a1a1a">Elevation</text><text x="458.8" y="444.00" text-anchor="middle" style="font-family:&quot;Liberation Sans&quot;,sans-serif;font-size:10.4px" fill="#000">X</text><rect x="508.4" y="387.6" width="10.00" height="51.80" fill="url(#cL)"/><g style="font-family:&quot;Liberation Sans&quot;,sans-serif;font-size:8.7px" fill="#1a1a1a" stroke="#1a1a1a" stroke-width="0.08"><text x="523.6" y="402.60" textLength="15.60" lengthAdjust="spacingAndGlyphs">1980</text><text x="523.6" y="418.40" textLength="15.60" lengthAdjust="spacingAndGlyphs">1970</text><text x="523.6" y="434.20" textLength="15.60" lengthAdjust="spacingAndGlyphs">1960</text></g><text x="509" y="382.00" style="font-family:&quot;Liberation Sans&quot;,sans-serif;font-size:10.4px" fill="#000">Z</text></svg></body></html>
